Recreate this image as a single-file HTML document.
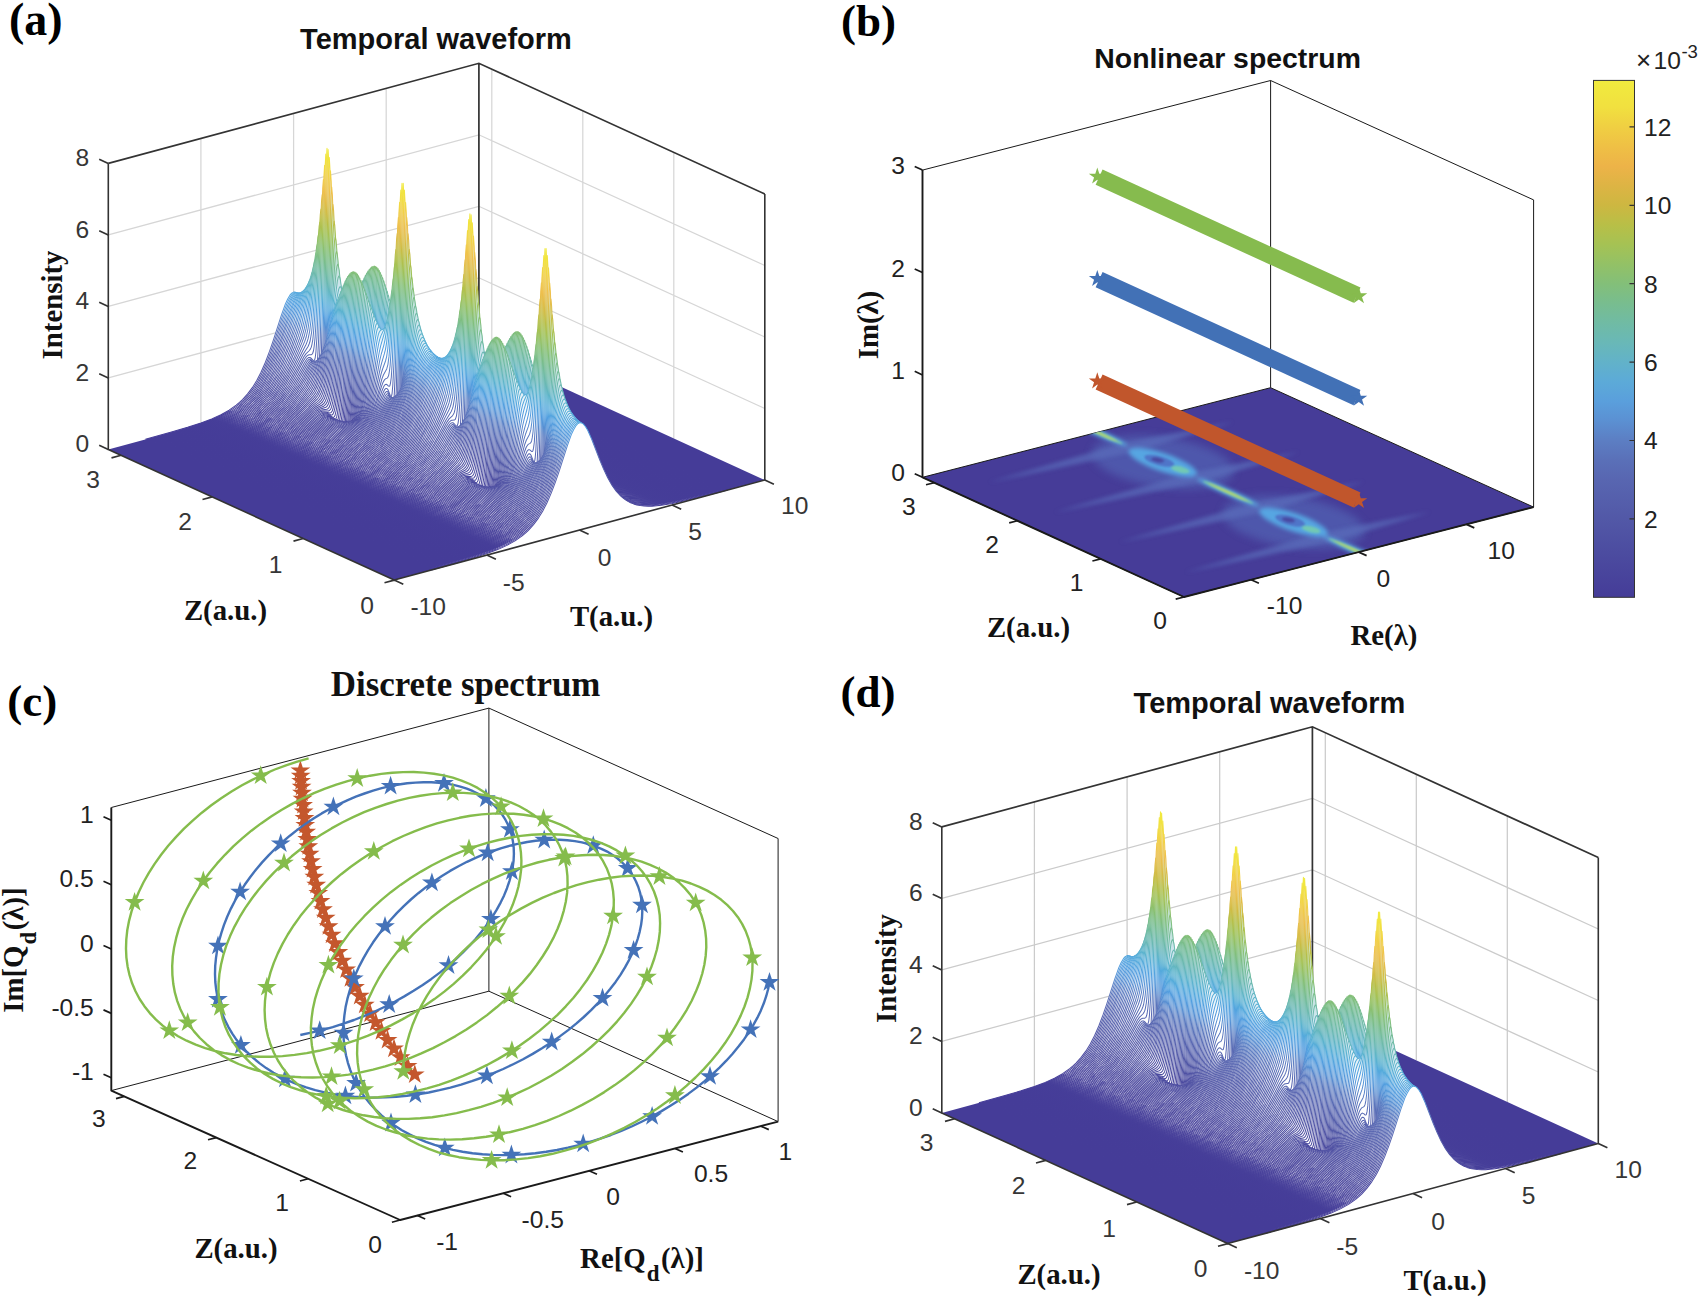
<!DOCTYPE html>
<html><head><meta charset="utf-8"><title>figure</title>
<style>html,body{margin:0;padding:0;background:#fff}svg{display:block}.tk{font-family:"Liberation Sans",sans-serif;font-size:24.6px;fill:#363636}.k2{fill:#222}.tt{font-family:"Liberation Sans",sans-serif;font-weight:bold;font-size:29px;fill:#111;text-anchor:middle}.lb{font-family:"Liberation Serif",serif;font-weight:bold;font-size:28.8px;fill:#111;text-anchor:middle}.pl{font-family:"Liberation Serif",serif;font-weight:bold;font-size:45px;fill:#000}</style></head><body>
<svg width="1699" height="1298" viewBox="0 0 1699 1298">
<defs>
<linearGradient id="hg" gradientUnits="userSpaceOnUse" x1="0" y1="0" x2="-67.05" y2="-248.23"><stop offset="0.0000" stop-color="#453c98"/><stop offset="0.0758" stop-color="#4b4a9f"/><stop offset="0.1516" stop-color="#5258a7"/><stop offset="0.2274" stop-color="#5866b1"/><stop offset="0.2654" stop-color="#5a70b8"/><stop offset="0.3033" stop-color="#5c7ec3"/><stop offset="0.3412" stop-color="#5693d6"/><stop offset="0.3791" stop-color="#529fe0"/><stop offset="0.4170" stop-color="#55abdc"/><stop offset="0.4549" stop-color="#5cb4cc"/><stop offset="0.4928" stop-color="#69b8b7"/><stop offset="0.5307" stop-color="#70bba4"/><stop offset="0.5686" stop-color="#78bd8f"/><stop offset="0.6065" stop-color="#83bf79"/><stop offset="0.6444" stop-color="#93c166"/><stop offset="0.6823" stop-color="#a5c254"/><stop offset="0.7202" stop-color="#b8bf47"/><stop offset="0.7582" stop-color="#d0bc44"/><stop offset="0.7961" stop-color="#e2bd48"/><stop offset="0.8340" stop-color="#efbf4c"/><stop offset="0.8719" stop-color="#f1ca48"/><stop offset="0.9098" stop-color="#f2d644"/><stop offset="0.9477" stop-color="#f1e03f"/><stop offset="1.0000" stop-color="#f1eb3e"/></linearGradient>
<linearGradient id="cbg" x1="0" y1="1" x2="0" y2="0"><stop offset="0.0000" stop-color="#453c98"/><stop offset="0.0758" stop-color="#4b4a9f"/><stop offset="0.1516" stop-color="#5258a7"/><stop offset="0.2274" stop-color="#5866b1"/><stop offset="0.2654" stop-color="#5a70b8"/><stop offset="0.3033" stop-color="#5c7ec3"/><stop offset="0.3412" stop-color="#5b90d2"/><stop offset="0.3791" stop-color="#5a9fdc"/><stop offset="0.4170" stop-color="#5caad8"/><stop offset="0.4549" stop-color="#62b2c9"/><stop offset="0.4928" stop-color="#69b8b7"/><stop offset="0.5307" stop-color="#70bba4"/><stop offset="0.5686" stop-color="#78bd8f"/><stop offset="0.6065" stop-color="#83bf79"/><stop offset="0.6444" stop-color="#93c166"/><stop offset="0.6823" stop-color="#a5c254"/><stop offset="0.7202" stop-color="#b8bf47"/><stop offset="0.7582" stop-color="#cdb741"/><stop offset="0.7961" stop-color="#ddb444"/><stop offset="0.8340" stop-color="#edb348"/><stop offset="0.8719" stop-color="#efc045"/><stop offset="0.9098" stop-color="#f0cf42"/><stop offset="0.9477" stop-color="#f1e03f"/><stop offset="1.0000" stop-color="#f1eb3e"/></linearGradient>
<linearGradient id="fg" gradientUnits="userSpaceOnUse" x1="0" y1="0" x2="-67.05" y2="-248.23"><stop offset="0.0000" stop-color="#453c98"/><stop offset="0.0094" stop-color="#453c98"/><stop offset="0.0268" stop-color="#ffffff"/><stop offset="0.3490" stop-color="#ffffff"/><stop offset="0.4832" stop-color="#cfe6f2"/><stop offset="0.6174" stop-color="#bfe2d2"/><stop offset="0.7517" stop-color="#d4e0a8"/><stop offset="0.8859" stop-color="#f0dca8"/><stop offset="1.0000" stop-color="#f4ec9c"/></linearGradient>
<polygon id="st" points="0.000,-1.000 0.225,-0.309 0.951,-0.309 0.363,0.118 0.588,0.809 0.000,0.382 -0.588,0.809 -0.363,0.118 -0.951,-0.309 -0.225,-0.309"/>
<g id="surf" fill="url(#fg)" stroke="url(#hg)" stroke-width="1.02" stroke-linejoin="round">
<path transform="translate(-285.9,-130.7)" d="M37.1,-10.1l25.2-7 17-5 13.3-4.4 10.8-4 9.3-4.2 8.1-4.5 7.1-5 3.3-2.8 3-2.8 5.1-5.7 4.9-6.5 4.4-7.2 4.1-7.9 4.4-10.1 4.1-10.8 3.7-10.8 8.2-25.4 4-11.3 2.3-4.9 2.2-3.8 1.8-2 1.9-1.1 0.7-0.1 1.2 0.2 1.8 1 2.2 2.6 2.3 3.7 4 9.1 8.2 21 3.7 8.8 4.1 8.6 4.4 7.7 4.1 5.7 4.4 4.8 2.3 2 2.6 1.9 2.5 1.6 2.6 1.3 3 1.2 3.3 1 3.4 0.7 3.7 0.4 4.1 0.2 4 0 9.3-0.9 10.7-1.7 13.4-2.9 17-4.2 25.2-6.6"/>
<path transform="translate(-284.7,-130.2)" d="M37.1,-10.1l25.2-7 17-5 13.3-4.4 10.8-4 9.3-4.2 8.1-4.5 7.1-5 3.3-2.8 3-2.8 5.1-5.7 4.9-6.5 4.4-7.2 4.1-7.9 4.4-10.1 4.1-10.7 4.1-12 7.8-24.3 4-11.3 2.3-5 2.2-3.7 1.8-2.1 1.9-1.1 0.7-0.1 1.2 0.2 1.8 1.1 2.2 2.5 2.3 3.8 4 9.1 7.8 20.1 4.1 9.7 4.1 8.6 4.4 7.7 4.1 5.7 4.4 4.8 2.3 2 2.6 1.9 2.5 1.6 2.6 1.3 3 1.2 3.3 1 3.4 0.7 3.7 0.4 4.1 0.2 4 0 9.3-0.9 10.7-1.7 13.4-2.9 17-4.2 25.2-6.6"/>
<path transform="translate(-283.5,-129.6)" d="M37.1,-10.1l25.2-7 17-5 13.3-4.4 10.8-4 9.6-4.4 7.8-4.3 7.1-5 3.3-2.8 3-2.8 5.1-5.7 4.9-6.5 4.4-7.2 4.1-7.8 4.4-10.2 4.1-10.7 4.1-11.9 8.1-25.4 3.7-10.3 2.3-5.1 2.2-3.8 1.8-2.1 1.2-0.8 0.7-0.3 0.7-0.1 1.2 0.2 1.8 1.1 2.2 2.6 2.3 3.9 3.7 8.3 8.1 21 4.1 9.7 4.1 8.5 4.4 7.7 4.1 5.7 4.4 4.8 2.3 2 2.6 1.9 2.5 1.6 2.6 1.3 3 1.2 3.3 1 3.4 0.7 3.7 0.4 7.8 0.2 9.6-0.9 10.7-1.7 13.4-2.9 17-4.2 25.2-6.6"/>
<path transform="translate(-282.3,-129.1)" d="M37.1,-10.1l25.2-7 17-5 13.3-4.4 10.8-4 9.6-4.4 7.8-4.3 3.7-2.5 3.7-2.8 3.4-2.8 2.9-2.8 5.2-5.8 4.8-6.6 4.5-7.3 4.4-8.8 4.1-9.4 4.1-10.8 4.1-12 8.1-25.4 3.7-10.3 2.2-5 1.9-3.2 1.8-2.2 1.2-0.8 0.7-0.3 0.7-0.1 1.2 0.2 1.8 1.2 1.9 2.2 2.2 3.8 3.7 8.3 8.1 21 4.1 9.8 4.1 8.6 4.1 7.2 4.4 6.4 4.5 4.9 2.6 2.3 2.2 1.7 2.2 1.4 3 1.5 2.9 1.3 3.4 1 3.7 0.8 3.7 0.4 7.8 0.2 9.6-0.9 10.7-1.7 13.4-2.9 17-4.2 25.2-6.6"/>
<path transform="translate(-281.1,-128.5)" d="M37.1,-10.1l25.2-7 17-5 13.3-4.4 10.8-4 9.3-4.2 8.1-4.5 3.7-2.5 3.7-2.8 3.4-2.8 2.9-2.8 5.2-5.8 4.8-6.6 4.5-7.3 4.4-8.7 4.5-10.3 4.1-10.8 4-12.1 8.2-25.5 3.7-10.3 1.8-4.2 1.9-3.4 1.8-2.3 1.2-0.8 0.7-0.3 0.7-0.1 1.2 0.2 1.8 1.3 1.9 2.4 1.8 3.2 3.7 8.3 8.2 21.1 4 9.9 4.1 8.6 4.5 7.9 4.4 6.3 4.5 4.9 2.6 2.3 2.2 1.7 2.2 1.4 3 1.6 2.9 1.2 3.4 1 3.7 0.8 3.7 0.4 4.1 0.2 4 0 9.3-0.9 10.7-1.7 13.4-2.9 17-4.2 25.2-6.6"/>
<path transform="translate(-279.9,-128)" d="M37.1,-10.1l24.8-6.9 17-5 13.7-4.5 10.8-4 9.3-4.2 8.1-4.5 3.7-2.5 3.7-2.8 3.4-2.8 2.9-2.8 5.2-5.8 5.2-7.1 4.5-7.4 4.4-8.8 4.4-10.3 4.5-12 4.1-12.1 7.8-24.5 3.7-10.4 1.8-4.3 1.9-3.4 1.8-2.2 1.5-0.8 1.5 0 0.7 0.3 1.1 0.9 1.9 2.4 1.8 3.2 3.7 8.5 7.8 20.3 4.1 9.9 4.5 9.5 4.4 8 4.4 6.4 4.5 5 2.6 2.3 2.6 2 2.2 1.4 3 1.6 2.9 1.2 3.4 1 3.7 0.8 3.7 0.4 4.1 0.2 4 0 9.3-0.9 10.7-1.7 13.8-3 17-4.2 24.8-6.5"/>
<path transform="translate(-278.8,-127.4)" d="M37.1,-10.1l24.8-6.9 17-5 13.7-4.5 10.8-4 9.3-4.2 8.1-4.5 3.7-2.5 3.7-2.8 3.4-2.8 2.9-2.8 5.2-5.8 5.2-7.1 4.8-8 4.5-8.9 4.4-10.4 4.5-11.9 4-12.1 8.2-25.8 3.3-9.6 1.9-4.4 1.8-3.4 1.5-1.7 1.5-0.9 1.5 0.1 1.5 0.9 1.8 2.4 1.9 3.4 3.3 7.7 8.2 21.5 4 9.9 4.5 9.5 4.4 8 4.5 6.5 2.2 2.7 2.6 2.7 2.6 2.3 2.6 2 2.2 1.4 3 1.6 2.9 1.2 3.4 1 3.7 0.8 3.7 0.4 4.1 0.2 4 0 9.3-0.9 10.7-1.7 13.8-3 17-4.2 24.8-6.5"/>
<path transform="translate(-277.6,-126.9)" d="M37.1,-10.1l25.2-7 17.4-5.1 13.3-4.4 10.8-4.1 9.6-4.4 8.2-4.6 3.7-2.5 3.3-2.6 3.3-2.8 3-2.9 5.6-6.3 5.1-7.3 4.9-8.2 4.4-9 4.5-10.6 4.8-13.1 4.4-13.4 7.8-25 3-8.5 1.5-3.6 1.4-2.8 1.5-2 1.5-0.9 0.7-0.1 0.8 0.2 1.5 1.2 1.4 2 1.5 2.8 3 6.9 7.8 20.8 4.4 11 4.8 10.5 4.5 8.1 4.4 6.7 2.3 2.8 2.6 2.8 2.5 2.4 2.6 2.1 3 1.9 2.6 1.4 3 1.3 3.3 1 3.3 0.8 3.7 0.5 3.7 0.2 4.5 0 9.6-0.8 10.8-1.7 13.3-2.9 17.4-4.3 25.2-6.6"/>
<path transform="translate(-276.4,-126.3)" d="M37.1,-10.1l25.2-7 17.4-5.1 13.7-4.5 10.7-4.1 9.3-4.3 8.2-4.6 3.7-2.5 3.7-2.9 3.3-2.9 3-2.8 5.5-6.4 5.2-7.4 4.8-8.3 4.9-9.9 4.8-11.6 4.8-13.3 4.8-14.8 7.4-24.3 2.6-7.6 1.5-3.5 1.5-2.7 1.1-1.3 1.1-0.6 1.1 0 1.1 0.7 1.5 1.9 1.5 2.7 2.6 6.2 7.4 20.3 4.8 12.2 4.8 10.7 4.8 9 4.9 7.3 2.6 3.2 2.2 2.5 2.6 2.4 2.6 2.1 2.6 1.8 2.9 1.6 3 1.3 3.3 1.1 3.7 0.9 3.7 0.5 3.7 0.2 4.5 0 9.3-0.8 10.7-1.7 13.7-2.9 17.4-4.3 25.2-6.6"/>
<path transform="translate(-275.2,-125.8)" d="M37.1,-10.1l25.2-7 17.4-5.1 13.7-4.5 10.7-4.1 9.3-4.3 8.2-4.6 3.7-2.5 3.7-2.9 3.3-2.8 3-2.9 2.9-3.3 3-3.6 5.2-7.4 4.8-8.4 5.2-10.7 5.2-12.7 5.2-14.6 4-12.7 7.5-25 2.2-6.8 1.1-2.9 1.5-3.1 1.1-1.4 1.1-0.7 1.1 0.1 1.1 0.8 1.5 2.2 1.1 2.3 2.2 5.7 7.5 21 4 10.5 5.2 11.8 5.2 9.9 2.6 4.2 2.6 3.7 2.2 2.9 2.6 2.9 2.6 2.5 2.6 2.1 3 2 2.9 1.6 3 1.3 3.3 1.1 3.7 0.9 3.7 0.5 4.1 0.2 4.1 0 9.3-0.8 10.7-1.7 13.7-2.9 17.4-4.3 25.2-6.6"/>
<path transform="translate(-274,-125.3)" d="M37.1,-10.1l25.9-7.2 17.4-5.2 13.7-4.5 10.8-4.1 9.2-4.3 8.2-4.8 3.7-2.5 3.7-3 3.3-2.9 3-3 3-3.3 2.9-3.7 3-4.2 2.6-4 5.2-9.4 5.2-11.1 5.5-14.1 5.2-15 4.1-13.1 6.7-23.7 1.8-5.9 1.9-4.5 1.1-1.6 1.1-0.8 0.7 0 0.4 0.2 1.1 1 1.9 3.5 1.8 4.9 6.7 20.1 4.1 10.9 5.2 12.2 5.5 11 2.6 4.4 2.6 4 2.6 3.5 2.6 3 2.6 2.7 3 2.6 2.9 2.1 3 1.7 3 1.3 3.3 1.2 3.7 0.9 3.7 0.6 3.7 0.3 4.5 0 9.2-0.7 10.8-1.6 13.7-2.9 17.4-4.3 25.9-6.8"/>
<path transform="translate(-272.8,-124.7)" d="M37.1,-10.1l25.9-7.2 17.4-5.2 13.7-4.5 10.8-4.1 9.6-4.5 4.5-2.5 4-2.6 3.7-2.6 3.4-2.7 3.3-3 3-3 3.3-3.8 3-3.8 5.5-8.4 3-5.2 3-5.8 5.2-11.5 5.5-14.3 5.6-16.5 4.1-13.8 5.1-19.9 1.9-6.4 1.1-3.1 1.1-2.3 0.8-1 0.7-0.4 0.7 0 0.8 0.6 1.1 1.7 1.1 2.5 1.9 5.4 5.1 17 4.1 11.7 5.6 13.5 5.5 11.3 5.2 8.7 3 4.2 3 3.6 2.6 2.7 2.9 2.7 3 2.2 3.3 2 3 1.4 3.3 1.2 3.4 0.9 3.7 0.6 4 0.4 4.5 0 4.4-0.2 5.2-0.5 10.8-1.6 13.7-2.9 17.4-4.3 25.9-6.8"/>
<path transform="translate(-271.6,-124.2)" d="M37.1,-10.1l25.9-7.2 17.4-5.2 13.7-4.5 11.2-4.3 9.6-4.5 4.4-2.5 3.7-2.4 3.7-2.6 3.8-3 3.3-3 3-3 2.9-3.4 3.4-4.3 2.9-4.3 3-4.8 2.9-5.3 3-5.9 5.9-13.3 6.3-16.7 5.2-16 3.4-12.1 5.2-21.7 1.4-5.3 1.5-3.8 0.8-1.1 0.7-0.5 0.7 0.1 0.8 0.7 1.5 3 1.4 4.5 5.2 18.9 3.4 10.3 5.2 13.2 2.9 6.6 3.4 6.7 2.9 5.3 3 4.8 3 4.3 2.9 3.7 3 3.1 2.9 2.7 3.4 2.5 2.9 1.8 3 1.5 3.3 1.2 3.8 1 3.7 0.6 3.7 0.3 4.4 0.1 4.8-0.2 4.8-0.4 11.2-1.7 13.7-2.9 17.4-4.3 25.9-6.8"/>
<path transform="translate(-270.4,-123.6)" d="M37.1,-10.1l25.9-7.2 17.8-5.3 14.1-4.7 10.7-4.1 9.7-4.6 4.4-2.5 4.1-2.7 3.7-2.7 3.3-2.7 3.4-3.1 3.3-3.4 3.7-4.4 3-4 3.3-5.1 3-4.9 2.9-5.5 3.4-6.9 6.3-14.7 4.8-12.9 4.4-13.6 2.3-7.9 1.8-7.5 5.9-27 1.5-4.5 0.8-1.3 0.7-0.6 0.7 0.2 0.8 0.9 1.5 3.7 5.9 23.8 1.8 6.5 2.3 6.7 4.4 11.2 4.8 10.3 3 5.6 3.3 5.7 3.4 5 2.9 3.9 3 3.4 3.3 3.2 3 2.4 3.7 2.4 3.3 1.7 3.4 1.3 3.3 0.9 3.7 0.7 4.1 0.4 4.4 0.1 4.5-0.1 5.2-0.5 10.7-1.6 14.1-2.9 17.8-4.4 25.9-6.8"/>
<path transform="translate(-269.2,-123.1)" d="M37.1,-10.1l25.9-7.2 18.2-5.4 14-4.7 11.2-4.4 9.6-4.6 4.4-2.6 4.1-2.7 3.7-2.7 3.4-2.8 3.3-3.2 3.3-3.5 3.7-4.6 3.4-4.6 3.3-5.1 3.3-5.8 3.4-6.5 3.3-7 3.7-8.6 3.4-8.4 5.1-14.5 3.4-11.2 3.3-14.3 4.8-25.2 1.5-5.5 0.8-1.6 0.7-0.7 0.7 0.3 0.8 1.2 1.5 4.7 4.8 22.6 1.5 6.1 1.8 6.4 3.4 9.4 5.1 11.7 3.4 6.6 3.7 6.6 3.3 5.2 3.4 4.6 3.3 4 3.3 3.4 3.4 2.8 3.7 2.5 3.3 1.8 3.3 1.3 3.4 1 3.7 0.8 4.1 0.5 4.4 0.1 4.4-0.1 5.2-0.4 11.2-1.6 14-3 18.2-4.4 25.9-6.8"/>
<path transform="translate(-268,-122.5)" d="M37.1,-10.1l26.6-7.4 18.2-5.4 14.1-4.8 11.1-4.4 5.2-2.4 4.4-2.3 4.5-2.7 4.1-2.7 3.7-2.8 3.3-2.9 3.3-3.2 3.4-3.7 3.7-4.6 4.1-5.8 3.7-6 3.7-6.8 3.7-7.5 3.7-8.2 3.3-8 3.7-9.7 3.7-10.8 3-10.6 2.6-12.4 3.7-22.8 1.5-8 1.1-3.9 0.4-0.9 0.7-0.9 0.7 0.5 0.4 0.7 1.1 3.3 1.5 7.2 3.7 20.8 2.6 11 3 9 3.7 8.8 3.7 7.6 3.3 6.3 3.7 6.2 3.7 5.5 3.7 4.8 3.7 4 4.1 3.6 3.7 2.6 3.4 1.9 3.3 1.4 3.3 1.1 3.7 0.8 4.1 0.5 4.5 0.2 4.4 0 5.2-0.4 11.1-1.6 14.1-2.9 18.2-4.4 26.6-7"/>
<path transform="translate(-266.8,-122)" d="M37.1,-10.1l26.6-7.4 18.6-5.5 14.1-4.8 11.1-4.4 4.8-2.3 4.8-2.5 4.5-2.7 4-2.8 3.7-2.8 3.7-3.3 3.8-3.7 2.9-3.3 4.1-5.2 4.1-6 4-6.8 3.8-7 4-8.4 4.1-9.3 4.1-10 3.7-10 3-9.7 2.2-9.6 1.8-10.7 4.5-31.2 0.7-3.7 0.8-2.4 0.7-1 0.7 0.6 0.8 2 0.7 3.3 4.5 28.8 1.8 9.7 2.2 8.4 3 8.1 3.7 8 4.1 7.8 4.1 7.1 4 6.2 3.8 5 4 4.6 4.1 3.8 4.1 3 2.9 1.7 3.8 1.7 3.7 1.3 3.7 0.8 4 0.6 4.5 0.2 4.8 0 4.8-0.4 11.1-1.5 14.1-2.9 18.6-4.5 26.6-7"/>
<path transform="translate(-265.6,-121.4)" d="M37.1,-10.1l27.4-7.6 18.5-5.6 14.1-4.8 11.5-4.6 5.2-2.5 4.8-2.7 4.4-2.7 3.7-2.7 3.8-2.9 3.7-3.4 3.3-3.4 3.3-3.9 4.1-5.4 4.1-6.1 4.1-7 4-7.7 4.1-8.6 4.5-10.1 4.4-11 3-8.1 2.6-9.2 1.8-9.3 1.9-12.9 3.7-31.2 0.7-4.6 0.8-3 0.7-1.2 0.7 0.8 0.8 2.6 0.7 4.2 3.7 29.2 1.9 11.9 1.8 8.3 1.1 3.8 1.5 4 3 6.5 4.4 8.5 4.5 7.8 4.1 6.4 4 5.5 4.1 4.7 4.1 4 4.1 3.2 3.3 2 3.3 1.7 3.7 1.3 3.8 1 3.7 0.6 4.4 0.4 4.8 0 5.2-0.3 5.6-0.6 5.9-0.9 14.1-2.8 18.5-4.5 27.4-7.2"/>
<path transform="translate(-264.5,-120.9)" d="M37.1,-10.1l27.8-7.7 18.9-5.7 14-4.8 11.5-4.8 5.2-2.5 4.8-2.7 4.5-2.8 3.7-2.7 4.1-3.4 3.7-3.5 3.7-4 2.9-3.5 4.1-5.6 3.7-5.7 4.1-7 4.1-7.7 4.8-10.1 5.2-11.8 4.4-10.7 2.3-6.4 1.8-7.3 1.9-11.1 1.8-15.9 3-30.5 0.7-5.7 0.8-3.9 0.7-1.5 0.7 1.1 0.8 3.5 0.7 5.3 3 28.9 1.8 14.9 1.9 10.1 1.8 6.3 2.3 5.2 4.4 8.3 5.2 9 4.8 7.5 4.1 5.5 4.1 4.8 3.7 3.7 4.1 3.3 2.9 2 3.7 2 3.7 1.5 4.1 1.1 3.7 0.7 4.5 0.5 4.8 0 5.2-0.2 5.5-0.6 6-0.9 14-2.8 18.9-4.5 27.8-7.3"/>
<path transform="translate(-263.3,-120.4)" d="M37.1,-10.1l28.1-7.8 18.9-5.7 14.5-5 6.3-2.5 5.2-2.3 5.2-2.6 4.8-2.8 4.4-2.9 4.1-3 3.7-3.1 3.7-3.6 3.7-4.1 3.7-4.6 4.1-5.8 3.7-5.8 3.7-6.5 3.7-7 4.5-9.2 9.2-20.4 1.5-3.5 1.5-4.4 1.8-8.2 1.5-10.3 1.5-14.7 3.3-40.6 1.2-8.6 0.7-1.8 0.7 1.4 1.2 8 3.3 38.8 1.5 13.9 1.5 9.5 0.7 3.4 1.1 3.8 1.5 3.6 1.5 2.7 9.2 15.4 4.5 6.8 3.7 5 3.7 4.5 3.7 3.8 4.1 3.6 3.7 2.6 3.7 2.1 3.7 1.5 3.7 1.2 4.1 0.8 4.4 0.5 4.8 0.1 5.2-0.2 5.2-0.5 6.3-0.9 14.5-2.8 18.9-4.5 28.1-7.4"/>
<path transform="translate(-262.1,-119.8)" d="M37.1,-10.1l28.9-8.1 19.2-5.8 14.9-5.2 6.3-2.6 5.2-2.3 5.1-2.7 4.9-2.9 4.4-3 4.5-3.5 4-3.7 3.7-3.9 3.7-4.3 3.4-4.4 3.3-4.9 3.3-5.3 6.7-12 10.8-22.3 4.4-8.6 1.1-2.6 1.1-3.4 1.5-7.1 1.5-11.8 1.5-17.7 3.3-49.2 0.8-6.3 0.7-2.5 0.7 2.1 0.8 5.9 3.3 47.4 1.5 16.9 1.5 11 1.5 6.3 1.1 2.8 1.1 2 4.4 6.2 7.1 11 3.7 5.5 3.3 4.4 3.4 4 3.3 3.5 3.3 3 3.4 2.7 3.7 2.3 3.7 1.9 4 1.5 4.5 1.1 4.4 0.6 4.9 0.2 5.1-0.1 5.2-0.4 6.3-0.8 14.9-2.8 19.2-4.6 28.9-7.6"/>
<path transform="translate(-260.9,-119.3)" d="M37.1,-10.1l29.6-8.3 20-6.1 14.8-5.3 6.3-2.6 5.2-2.5 5.2-2.8 4.8-2.9 4.5-3.2 4.4-3.7 4.1-3.9 3.7-4 3.7-4.5 4.1-5.7 5.2-8.1 5.2-9.1 11.5-22.9 5.5-8.9 1.1-2.7 0.8-2.5 1.5-8.7 1.1-10.8 1.5-21.8 2.9-54.3 0.8-8.3 0.7-3.1 0.7 2.7 0.8 7.9 2.9 52.7 1.5 21 1.1 10.2 0.8 4.6 0.7 3.2 0.8 2.2 1.1 2.1 4.1 4.1 1.4 1.7 8.2 12.1 3.3 4.6 5.2 6.4 5.2 5.3 4.1 3.4 3.7 2.6 3.7 2 4.1 1.7 4.4 1.3 4.5 0.7 4.8 0.4 5.2 0 5.2-0.3 6.3-0.8 6.6-1.1 8.2-1.6 20-4.7 29.6-7.8"/>
<path transform="translate(-259.7,-118.7)" d="M37.1,-10.1l30.3-8.5 20.1-6.1 8.1-2.8 7.1-2.7 5.9-2.5 5.9-2.9 5.2-2.9 4.8-3.1 4.8-3.7 4.5-3.9 4.4-4.5 3.7-4.3 4.1-5.3 4.1-6 4.1-6.6 4-7.2 11.2-21.5 2.2-3.2 3.3-3.1 1.1-1.6 0.8-1.8 0.7-3 0.8-4.5 0.7-6.8 1.1-14.9 1.1-21.4 2.6-59.2 0.8-10.9 0.7-4.1 0.7 3.7 0.8 10.5 2.6 57.8 1.1 20.8 1.1 14.3 0.7 6.4 0.8 4.1 0.7 2.6 0.8 1.4 1.1 1 3.3 1.3 2.2 2 2.3 2.8 5.5 8.2 3.4 4.5 4 5 4.1 4.4 4.1 3.7 4.1 3.2 3.7 2.3 4.4 2.1 4.5 1.5 4.8 1 4.8 0.5 5.2 0.1 5.9-0.3 5.9-0.6 7.1-1.2 8.1-1.6 20.1-4.7 30.3-7.9"/>
<path transform="translate(-258.5,-118.2)" d="M37.1,-10.1l36.6-10.3 11.9-3.7 10-3.4 8.9-3.5 7.8-3.5 6.7-3.6 5.9-3.8 4.8-3.7 4.8-4.2 4.5-4.7 4.4-5.3 6-8.2 5.9-9.4 4.4-7.9 7.4-14.5 2.3-3.8 1.4-1.9 1.5-1.2 1.1-0.4 2.3-0.1 0.7-0.5 0.4-0.5 0.7-1.9 0.4-1.6 0.7-4.9 0.8-7.9 0.7-11.4 1.5-34 2.2-63.4 0.8-14.3 0.7-5.3 0.7 4.9 0.8 13.9 2.2 62.2 1.5 33.2 0.7 11 0.8 7.5 0.7 4.5 0.4 1.4 0.7 1.5 0.4 0.3 0.7 0.1 2.3-1.1 1.1-0.2 1.5 0.4 1.4 1.1 2.3 2.6 7.4 10.5 4.4 5.4 5.9 6.3 3 2.6 3 2.4 4.4 2.9 4.5 2.2 4.8 1.7 4.8 1.1 5.9 0.6 6.7 0 7.8-0.7 8.9-1.4 10-2 11.9-2.7 36.6-9.5"/>
<path transform="translate(-257.3,-117.6)" d="M37.1,-10.1l35.2-9.9 11.8-3.6 10-3.4 8.6-3.2 7.4-3.2 6.6-3.4 6-3.6 6.3-4.5 5.5-4.9 5.2-5.5 5.6-6.8 5.2-7.4 5.2-8.2 4.8-8.5 7-13.5 2.6-4 1.5-1.2 0.7-0.2 0.8 0.1 1.1 0.7 2.2 2.5 0.7 0.1 0.4-0.5 0.8-2.5 0.7-5.5 1.1-16.1 1.5-38.5 2.2-77.8 0.8-18.4 0.7-7 0.7 6.6 0.8 18 2.2 76.6 1.5 37.7 1.1 15.5 0.7 5.1 0.4 1.4 0.4 0.7 0.4 0.3 0.7-0.5 2.2-3.7 1.1-1.3 0.8-0.5 0.7-0.2 1.5 0.4 1.5 1.3 1.1 1.3 7 9.7 4.8 5.9 5.2 5.4 5.2 4.6 5.6 3.8 5.2 2.6 5.5 1.9 6.3 1.2 6 0.3 6.6-0.2 7.4-0.7 8.6-1.4 10-2.1 11.8-2.8 35.2-9.1"/>
<path transform="translate(-256.1,-117.1)" d="M37.1,-10.1l32.9-9.2 11.5-3.5 9.7-3.2 8.5-3 7.4-3.1 6.3-2.9 5.9-3.3 7.1-4.6 6.3-5.2 5.5-5.5 6-7 5.5-7.6 6-9.1 5.1-9 6.7-12.8 1.1-1.9 1.5-1.9 0.7-0.6 0.8-0.4 0.7 0.1 1.1 0.8 1.2 1.9 2.5 6.9 0.4 0.5 0.4 0.1 0.7-2.1 0.8-6.5 1.1-21.1 1.1-34.4 2.2-93.6 0.8-23.3 0.7-9 0.7 8.6 0.8 22.9 2.2 92.4 1.1 33.8 1.1 20.5 0.8 6.1 0.3 1.2 0.4 0.5 0.8-1 2.5-8.3 1.2-2.5 1.1-1.4 0.7-0.5 0.8 0 0.7 0.2 1.5 1.1 1.1 1.3 6.7 9.2 5.1 6.2 6 5.9 5.5 4.6 3 2.1 3 1.7 5.5 2.5 3 0.9 3.3 0.8 3.4 0.5 3.7 0.4 5.9 0 6.3-0.4 7.4-1 8.5-1.5 9.7-2.1 11.5-2.7 32.9-8.6"/>
<path transform="translate(-254.9,-116.5)" d="M37.1,-10.1l36.3-10.2 12.2-3.8 10-3.4 8.5-3.3 7.5-3.3 7-3.8 5.9-3.7 6-4.5 5.1-4.8 5.2-5.5 5.2-6.5 5.2-7.2 5.2-8 4.8-8.4 6.7-12.8 1.5-2.2 1.4-1.5 0.8-0.2 0.7 0.2 0.8 0.7 1.1 2.3 1.1 3.7 2.6 12.6 0.4 0.6 0.3-0.1 0.8-5.3 0.3-5.7 1.2-27.6 1.1-44.2 1.8-92.7 0.8-28.5 0.7-11.1 0.7 10.7 0.8 28.1 1.8 91.7 1.1 43.6 1.2 27 0.3 5.5 0.8 4.9 0.3-0.1 0.4-0.8 2.6-14 1.1-4.3 1.1-2.9 0.8-1.1 0.7-0.6 0.8-0.2 0.7 0.2 0.7 0.4 1.5 1.5 6.7 9.2 4.8 5.7 5.2 5.2 5.2 4.5 5.2 3.6 5.2 2.8 5.1 1.9 6 1.3 5.9 0.6 7-0.1 7.5-0.7 8.5-1.3 10-2 12.2-2.8 36.3-9.4"/>
<path transform="translate(-253.7,-116)" d="M37.1,-10.1l36.3-10.2 12.2-3.8 10-3.4 8.5-3.3 7.5-3.3 7-3.8 5.9-3.7 6-4.5 5.5-5.1 5.2-5.6 5.2-6.4 5.5-7.8 5.2-7.9 4.5-7.7 6.3-12.3 1.5-2.4 1.4-1.4 0.8-0.2 0.4 0.1 0.3 0.2 0.8 0.9 0.7 1.5 0.8 2.4 1.4 7.8 1.9 15.4 0.7 4.6 0.4-0.8 0.4-2.8 0.3-6.2 1.2-31.2 1.1-48.9 2.2-120.8 0.4-16.3 0.7-13 0.7 12.6 0.4 16.1 2.2 119.6 1.1 48.3 1.2 30.6 0.3 6 0.4 2.6 0.4 0.6 0.7-5 1.9-16.4 1.4-8.6 0.8-2.8 0.7-1.9 1.1-1.7 0.4-0.3 0.8-0.2 0.7 0.2 0.7 0.4 1.5 1.6 6.3 8.9 4.5 5.3 5.2 5.1 5.5 4.7 5.2 3.7 5.2 2.8 5.5 2 6 1.3 5.9 0.6 7-0.1 7.5-0.7 8.5-1.3 10-2 12.2-2.8 36.3-9.4"/>
<path transform="translate(-252.5,-115.5)" d="M37.1,-10.1l36.3-10.2 12.2-3.8 10-3.4 8.5-3.3 7.5-3.3 7-3.8 5.9-3.7 6-4.5 5.5-5.1 5.2-5.5 5.6-6.9 5.9-8.2 5.2-7.9 4.1-7.1 6.6-13.3 1.5-2.1 1.1-0.7 0.4-0.1 0.7 0.3 1.1 1.6 1.2 3.4 0.7 3.7 1.5 11.4 1.8 24.5 0.4 0.7 0.4-2.9 0.3-7.6 1.2-36.2 1.1-51.9 2.2-128.6 0.4-17.6 0.7-14.1 0.7 13.7 0.4 17.4 2.2 127.4 1.1 51.3 1.2 35.6 0.3 7.4 0.4 2.7 0.4-0.9 1.8-25.5 1.5-12.2 0.7-4.1 1.2-4 1.1-2.3 0.7-0.6 0.4-0.1 0.4-0.1 0.7 0.2 1.5 1.3 6.6 9.7 4.1 4.9 5.2 5.1 5.9 5 5.6 3.8 5.2 2.8 5.5 2.1 6 1.3 5.9 0.5 7-0.1 7.5-0.7 8.5-1.3 10-2 12.2-2.8 36.3-9.4"/>
<path transform="translate(-251.4,-114.9)" d="M37.1,-10.1l36.3-10.2 12.2-3.8 10-3.4 8.5-3.3 7.5-3.3 7-3.8 5.9-3.7 6-4.5 5.9-5.4 5.5-6 6-7.4 6.3-8.7 4.4-6.8 4.1-7.3 5.9-12.4 1.5-2.4 0.7-0.7 0.8-0.4 0.7 0.1 0.4 0.4 1.1 1.9 0.8 2.5 0.7 3.5 1.5 11.1 1.8 22.1 0.4 0.8 0.4-2 0.3-6.8 1.2-34.7 1.1-51.5 2.2-128 0.4-17.5 0.7-14 0.7 13.6 0.4 17.3 2.2 126.8 1.1 50.9 1.2 34.1 0.3 6.6 0.4 1.8 0.4-1 1.8-23.1 1.5-11.9 1.5-6.8 1.1-2.5 0.4-0.6 0.7-0.5 0.8 0 0.7 0.3 1.5 1.6 5.9 9.2 4.1 5.1 4.4 4.4 6.3 5.3 6 4.1 5.5 3.1 5.9 2.2 6 1.3 5.9 0.5 7-0.1 7.5-0.7 8.5-1.3 10-2 12.2-2.8 36.3-9.4"/>
<path transform="translate(-250.2,-114.4)" d="M37.1,-10.1l36.6-10.3 12.3-3.8 10-3.5 8.9-3.4 7.4-3.4 7-3.8 6-3.8 6.6-5.2 6.3-6.1 6-6.7 6.6-8.6 5.6-7.8 3.7-5.9 3.3-6.3 6-13.1 1.4-2.2 0.8-0.6 0.7-0.1 0.8 0.5 0.3 0.6 0.8 1.6 0.7 2.5 1.1 5.7 2.3 16.6 0.3 1.9 0.4-0.4 0.4-2.1 0.7-12.7 0.8-21.9 1.1-47.9 2.2-119.1 0.4-16.1 0.7-12.8 0.7 12.4 0.4 15.9 2.2 117.9 1.1 47.3 0.8 21.5 0.7 12.3 0.4 1.9 0.4 0.2 0.3-2.1 2.3-17.8 1.1-6.3 0.7-2.9 0.8-2.1 1.1-1.6 0.7-0.3 0.8 0.2 1.4 1.4 6 9.8 3.3 4.6 3.7 3.9 5.6 4.8 6.6 5 6 3.5 2.9 1.4 3.4 1.2 3.3 1 3.3 0.6 6 0.7 7 0 7.4-0.7 8.9-1.3 10-2 12.3-2.8 36.6-9.5"/>
<path transform="translate(-249,-113.8)" d="M37.1,-10.1l36.6-10.3 12.6-4 10.1-3.4 8.5-3.3 7.8-3.6 6.6-3.6 6.3-4.1 6.7-5.3 6.7-6.4 7-8.2 8.2-10.6 4.4-6.5 3-5.2 2.9-6.2 4.9-11.6 1.4-2.7 1.2-1.1 0.3-0.2 0.8 0.1 0.7 0.7 0.8 1.5 1.1 3.7 2.2 10.4 0.4 0.8 0.3 0.2 0.8-4 0.3-5 1.2-25.6 1.1-42.9 1.8-90.5 0.8-27.7 0.7-10.8 0.7 10.4 0.8 27.3 1.8 89.5 1.1 42.3 1.2 25 0.3 4.8 0.8 3.6 0.3-0.4 0.4-1 2.2-11.6 1.1-4.3 0.8-1.9 0.7-1.1 0.8-0.5 0.3 0 0.4 0 0.8 0.5 1.4 1.9 4.9 9 2.9 4.6 3 3.6 4.4 4.1 8.2 6.2 3.3 2.2 3.7 2.2 3.4 1.5 3.3 1.3 3.3 1 3.4 0.7 6.3 0.7 6.6 0 7.8-0.7 8.5-1.2 10.1-2 12.6-2.9 36.6-9.5"/>
<path transform="translate(-247.8,-113.3)" d="M37.1,-10.1l34.4-9.7 12.3-3.7 9.6-3.2 8.5-3.2 7.4-3.2 6.7-3.3 6.3-3.7 4.4-3.1 3.8-2.9 3.7-3.2 3.7-3.6 3.7-4 4-4.8 9.3-11.9 4.5-6.5 2.9-5.4 2.6-5.9 5.2-13.5 1.5-2.8 0.7-0.9 0.8-0.4 0.3 0.1 0.4 0.1 0.8 0.8 0.7 1.3 1.8 4.9 0.8 1 0.4-0.3 0.3-0.9 0.4-2.1 0.7-8 1.2-23.1 1.1-37.5 1.8-76.1 0.8-22.3 0.7-8.7 0.7 8.3 0.8 21.9 1.8 75.1 1.1 36.9 1.2 22.5 0.7 7.6 0.4 1.9 0.3 0.7 0.4 0.1 0.8-1.4 1.8-5.9 0.7-1.7 1.2-1.5 0.3-0.3 0.8 0 0.7 0.5 1.5 2 5.2 10.7 2.6 4.5 2.9 3.8 4.5 4.1 4.4 3.5 4.9 3.4 4 2.6 3.7 2 3.7 1.6 3.7 1.2 3.8 0.9 4.4 0.7 6.3 0.3 6.7-0.3 7.4-0.9 8.5-1.4 9.6-2 12.3-2.8 34.4-9"/>
<path transform="translate(-246.6,-112.7)" d="M37.1,-10.1l36.6-10.3 12.6-4 10.1-3.4 8.9-3.5 7.7-3.6 7.1-3.8 5.9-3.9 6.7-5.3 6.3-6.1 7-8 8.9-11.2 4.5-6.4 3.3-6.2 3-7.3 4.4-13 1.5-3.6 0.7-1.4 0.8-0.9 0.7-0.5 0.4 0 1.1 0.5 1.1 1 0.7 0.5 0.4-0.2 0.4-0.4 0.7-2.7 0.8-5.9 1.1-17.7 1.1-28.2 2.2-73.5 0.8-17.3 0.7-6.6 0.7 6.2 0.8 16.9 2.2 72.3 1.1 27.6 1.1 17 0.8 5.6 0.7 2.3 0.4 0.2 0.4 0 1.8-2.5 1.1-1.1 0.4-0.2 0.7 0.1 0.8 0.5 0.7 1 1.5 2.7 4.4 10.7 3 5.7 1.5 2.2 1.8 2.2 4.5 4 8.9 6.4 7 4.1 3 1.4 3.3 1.3 3.4 1 3.3 0.7 5.9 0.7 7.1 0.1 7.7-0.6 8.9-1.3 10.1-2 12.6-2.9 36.6-9.5"/>
<path transform="translate(-245.4,-112.2)" d="M37.1,-10.1l32.2-9 20.4-6.4 8.1-2.8 7.5-3 6.3-2.8 5.9-3.1 5.5-3.4 5.2-3.7 4.8-4 4.5-4.2 5.2-5.5 6.3-7.4 6.7-8.4 3.7-5.2 2.6-4.7 2.5-6.1 1.9-5.4 4.4-14.7 1.5-3.9 0.8-1.6 1.1-1.5 0.7-0.6 1.5-0.7 0.7-0.8 0.8-1.7 0.7-3.6 0.8-6.2 1.1-16 1.1-24 2.2-58.2 0.8-13.1 0.7-4.9 0.7 4.5 0.8 12.7 2.2 57 1.1 23.4 1.1 15.4 0.8 5.8 0.7 3.2 0.8 1.3 0.7 0.4 1.5-0.1 0.7 0.2 1.1 0.9 0.8 1.2 1.5 3.1 4.4 12.3 1.9 4.4 2.5 4.7 2.6 3.3 3.7 3.2 6.7 4.7 6.3 4.1 5.2 2.7 4.5 1.8 4.8 1.4 5.2 0.9 5.5 0.4 5.9-0.2 6.3-0.5 7.5-1.1 8.1-1.5 20.4-4.7 32.2-8.4"/>
<path transform="translate(-244.2,-111.6)" d="M37.1,-10.1l32.2-9 20.4-6.4 8.1-2.8 7.1-2.8 6.7-3 5.5-2.9 5.2-3.1 5.2-3.6 4.4-3.6 4.5-4 4.8-5 4.8-5.4 8.9-10.7 3.7-4.9 3-5 2.6-6.1 2.6-8 5.5-20.4 1.5-3.9 3.3-6.2 1.2-4.2 1.1-8.3 0.7-8.6 1.1-18.2 2.6-52 0.8-9.6 0.7-3.6 0.7 3.2 0.8 9.2 2.6 50.6 1.1 17.6 0.7 8.2 1.1 7.7 1.2 3.6 0.7 1.2 1.8 2.1 0.8 1.1 1.5 3.1 1.5 4.2 4 13.2 2.6 6.6 2.6 4.6 1.5 1.9 1.5 1.6 3.7 2.9 8.9 5.8 4.8 2.9 4.8 2.3 4.5 1.7 4.4 1.2 5.2 0.8 5.2 0.3 5.5-0.2 6.7-0.6 7.1-1 8.1-1.5 20.4-4.7 32.2-8.4"/>
<path transform="translate(-243,-111.1)" d="M37.1,-10.1l31.8-8.9 20-6.2 8.2-2.9 7-2.7 6.7-3 5.6-2.8 5.2-3 5.1-3.6 4.5-3.4 4.4-4 4.1-4.1 4.8-5.2 10.4-12.1 3.3-4.2 1.9-2.8 1.9-3.5 1.4-3.4 1.5-4.2 2.2-7.8 5.6-23.4 1.5-4.9 2.9-7.9 1.2-4.7 1.1-7.7 1.1-11.9 3.3-49.6 0.8-7 0.7-2.6 0.7 2.2 0.8 6.6 3.3 47.8 1.1 11.3 1.1 7.1 1.2 4.1 2.9 6.3 1.5 4.1 5.6 20.4 2.2 6.6 1.5 3.4 1.4 2.6 1.9 2.5 1.9 1.8 3.3 2.4 10.4 6.4 4.8 2.7 4.1 1.9 4.4 1.5 4.5 1.1 5.1 0.7 5.2 0.3 5.6-0.2 6.7-0.7 7-1 8.2-1.6 20-4.6 31.8-8.3"/>
<path transform="translate(-241.8,-110.6)" d="M37.1,-10.1l31.5-8.8 20.3-6.3 8.2-2.9 7-2.7 6-2.6 5.9-3 5.2-3 4.8-3.2 4.5-3.4 4.4-3.9 4.1-3.9 4.1-4.4 11.8-13.4 3-3.5 2.2-3.3 1.9-3.4 1.8-4.5 1.5-4.7 2.6-10.4 5.2-25.1 1.5-5.8 2.5-8.4 1.2-4.7 1.1-6.7 0.7-6 3.7-40.3 0.8-4.9 0.7-1.9 0.7 1.5 0.8 4.5 3.7 38.3 0.7 5.6 1.1 6.1 1.2 4 2.5 7.1 1.5 5 5.2 22.3 2.6 9 1.5 3.8 1.8 3.6 1.9 2.4 2.2 2 3 2 11.8 7 4.1 2.1 4.1 1.8 4.4 1.5 4.5 1 4.8 0.6 5.2 0.2 5.9-0.3 6-0.6 7-1 8.2-1.6 20.3-4.7 31.5-8.2"/>
<path transform="translate(-240.6,-110)" d="M37.1,-10.1l31.5-8.8 20-6.2 8.1-2.8 7.1-2.8 6.3-2.7 5.5-2.8 5.2-3 4.5-2.9 4.8-3.6 4.4-3.8 7.4-7.4 16-17.7 2.6-3.7 2.2-4.5 1.8-5.2 1.9-6.9 2.2-10.7 5.2-28.3 1.5-6.3 2.6-9.2 1.1-4.9 1.5-9.2 3.3-25.8 0.8-3.4 0.7-1.3 0.7 0.9 0.8 3 3.3 24 1.5 8.4 1.1 4.3 2.6 7.8 1.5 5.5 5.2 25.5 2.2 9.4 1.9 6 1.8 4.2 2.2 3.3 2.6 2.3 2.2 1.4 13.8 7.7 3.7 1.8 3.7 1.6 4.4 1.4 4.8 1 4.5 0.5 5.2 0.2 5.5-0.3 6.3-0.6 7.1-1.1 8.1-1.5 20-4.7 31.5-8.2"/>
<path transform="translate(-239.4,-109.5)" d="M37.1,-10.1l31.1-8.7 20-6.2 8.2-2.8 7-2.7 5.9-2.6 6-2.9 5.1-2.9 4.9-3.2 4.4-3.3 4.1-3.4 6.7-6.5 17.4-18.6 2.6-3.6 1.8-3.7 1.9-5 1.5-5.4 1.4-6.7 1.5-8.1 4.1-25.6 1.9-10.1 1.4-6.2 3.7-12.5 4.1-20.1 0.8-2.2 0.7-0.9 0.7 0.5 0.8 1.8 4.1 17.9 1.1 3.5 2.6 7 1.4 5.4 1.9 9.1 4.1 23.4 1.5 7.3 1.4 5.9 1.5 4.6 1.9 4 1.8 2.6 2.6 2.2 17.4 9.3 6.7 2.8 4.1 1.3 4.4 0.9 4.9 0.5 5.1 0.2 6-0.3 5.9-0.6 7-1.1 8.2-1.6 20-4.7 31.1-8.1"/>
<path transform="translate(-238.2,-108.9)" d="M37.1,-10.1l30.7-8.6 20-6.1 8.2-2.9 7-2.7 6.3-2.7 5.6-2.7 5.2-2.9 4.4-2.9 4.5-3.2 4-3.4 6.7-6.3 10-10.6 8.2-8.2 2.6-3.4 1.8-3.6 1.9-5.2 1.5-5.6 1.4-7.2 1.5-8.7 5.2-35.7 1.1-6 1.1-4.6 1.5-4.3 3-6.3 3.3-9.2 0.8-1.3 0.7-0.6 0.7 0.2 0.8 0.9 3.3 7.3 3 4.8 1.5 3.5 1.1 4 1.1 5.4 5.2 32.9 1.5 7.9 1.4 6.4 1.5 4.8 1.9 4.2 1.8 2.5 1.1 1.1 1.5 1 8.2 3.8 10 5.2 6.7 2.7 4 1.2 4.5 0.8 4.4 0.5 5.2 0.1 5.6-0.3 6.3-0.7 7-1.1 8.2-1.6 20-4.7 30.7-8"/>
<path transform="translate(-237.1,-108.4)" d="M37.1,-10.1l30.3-8.5 20.1-6.1 8.1-2.8 7.1-2.7 5.9-2.5 5.9-2.9 4.8-2.7 4.5-2.8 4.4-3.1 4.1-3.3 5.9-5.4 11.9-12.3 7.8-7.4 2.6-3.3 1.8-3.5 1.9-5.2 1.5-5.9 1.4-7.7 1.5-9.4 5.2-39.4 1.1-6.4 1.1-4.7 0.8-2 1.1-1.8 0.7-0.5 2.6-1.1 2.6-2.4 1.5-0.9 0.7-0.1 0.8 0.2 2.6 1 2.6-0.3 0.7 0.1 1.1 1.2 0.8 1.6 1.1 4.1 1.1 5.8 5.2 36.6 1.5 8.6 1.4 6.9 1.5 5.1 1.9 4.2 1.8 2.5 1.1 1 1.5 0.9 7.8 3.2 11.9 5.8 5.9 2.3 4.1 1 4.4 0.8 4.5 0.4 4.8 0.1 5.9-0.4 5.9-0.6 7.1-1.2 8.1-1.6 20.1-4.7 30.3-7.9"/>
<path transform="translate(-235.9,-107.8)" d="M37.1,-10.1l30.7-8.6 19.7-6 8.1-2.8 7.1-2.7 5.9-2.5 5.9-2.9 4.8-2.7 4.5-2.8 4.1-2.8 4-3.3 6.3-5.7 12.3-12.4 8.5-7.8 1.8-2.5 1.9-3.7 1.5-4.4 1.5-6.1 1.4-8.1 1.5-10.2 4.1-34.5 1.5-11 1.1-6.2 0.7-2.7 0.8-1.7 0.7-0.6 0.4 0 0.7 0.5 2.3 3.2 1.1 1.2 1.1 0.7 1.5 0 2.2-0.7 1.5-1.3 1.4-2.3 2.3-4.4 0.7-0.9 0.4-0.2 0.7 0.2 0.8 1.3 1.1 3.9 1.1 6.2 5.2 40.3 1.5 9.4 1.1 5.6 1.5 5.8 1.8 4.8 1.9 2.7 1.1 1 1.5 0.9 7.7 2.7 12.3 5.9 6.6 2.4 4.1 1 4.5 0.7 4.4 0.3 4.5 0.1 5.5-0.4 6.3-0.7 6.7-1.1 8.1-1.6 19.7-4.6 30.7-8"/>
<path transform="translate(-234.7,-107.3)" d="M37.1,-10.1l30.3-8.5 19.7-6 7.8-2.7 7-2.6 5.9-2.5 6-2.8 4.8-2.6 4.4-2.8 4.1-2.8 4.1-3.1 6.3-5.7 13-12.9 7.4-6.1 1.5-1.4 1.8-2.5 1.9-4.1 1.4-4.9 1.5-6.9 1.1-6.6 1.5-10.9 5.2-46.8 1.5-8.9 0.7-2.5 0.8-1.1 0.3-0.1 0.4 0.2 0.8 1.2 2.9 8.9 1.1 2.8 0.8 1.2 0.7 0.8 0.8 0.4 0.7 0 0.7-0.4 0.8-0.8 1.5-2.8 1.4-4.7 1.9-6.9 1.1-3.2 0.4-0.7 0.7-0.5 0.8 0.7 1.1 3.7 1.1 6.5 5.2 44 2.2 14.3 1.5 6.6 1.8 5.4 0.8 1.5 1.1 1.5 1.1 1.1 1.1 0.6 8.5 2.6 13 5.9 6.3 2.2 4.1 1 4.1 0.6 4.4 0.3 4.8 0 6-0.3 5.9-0.8 7-1.1 7.8-1.5 19.7-4.7 30.3-7.9"/>
<path transform="translate(-233.5,-106.7)" d="M37.1,-10.1l30.3-8.5 19.7-6 7.8-2.7 7-2.6 5.9-2.5 6-2.8 8.5-4.9 4.1-2.7 4.1-3.1 7-6.2 12.6-12.4 3.3-2.8 4.8-3.5 1.9-1.7 1.9-2.9 1.4-3.6 1.5-5.5 1.5-7.7 2.2-16.6 5.2-50.6 1.5-9 0.7-2.2 0.4-0.4 0.4-0.1 0.3 0.3 1.2 2.9 2.6 11.9 1.4 5.8 0.8 2 0.7 1.4 0.8 0.7 0.7 0.1 0.7-0.5 0.8-1.1 1.5-4.2 1.4-6.6 2.3-11.7 1.1-4.3 0.7-1.3 0.4-0.1 0.4 0.2 0.3 0.7 1.1 4.5 0.8 4.8 5.2 47.8 2.2 15.4 1.5 6.9 1.5 4.7 0.7 1.6 1.1 1.7 0.8 0.8 1.1 0.8 1.8 0.6 4.5 0.8 3.3 0.9 12.6 5.6 3.7 1.4 3.3 1 4.1 0.9 4.1 0.6 4.4 0.3 4.5-0.1 5.6-0.3 6.3-0.8 6.6-1.1 8.2-1.6 19.3-4.6 30.3-7.9"/>
<path transform="translate(-232.3,-106.2)" d="M37.1,-10.1l30-8.4 19.2-5.9 14.9-5.2 5.9-2.5 5.9-2.7 8.6-4.8 3.7-2.4 4-3 7.1-6.1 13.7-13.2 3.3-2.6 5.2-3.3 1.9-1.7 1.8-2.9 1.5-4.1 1.1-4.3 1.5-8.1 2.2-17.6 5.2-54.5 0.8-5.4 0.7-3.7 0.7-1.8 0.4-0.1 0.4 0.2 0.3 0.8 1.2 4.4 2.6 15.9 1.4 7.5 0.8 2.6 0.7 1.8 0.8 1 0.7 0.2 0.7-0.6 0.8-1.4 1.5-5.2 1.4-8.3 2.3-15.1 1.1-5.9 0.7-2.3 0.4-0.4 0.4-0.1 0.7 1.4 0.7 3.3 1.2 8.1 4.4 45.2 1.1 9.6 1.5 10.2 1.5 7.3 1.5 4.7 1.4 2.8 0.8 0.8 1.1 0.8 1.5 0.5 5.2 0.5 3.3 0.8 3.3 1.2 10.4 4.6 3.4 1.2 3.7 1 4 0.8 3.7 0.5 4.1 0.2 4.5-0.1 5.9-0.4 5.9-0.8 7.1-1.1 7.8-1.6 19.2-4.5 30-7.9"/>
<path transform="translate(-231.1,-105.6)" d="M37.1,-10.1l29.6-8.3 19.3-5.8 14.4-5.1 6-2.4 5.9-2.8 8.5-4.6 7.4-5.1 7.4-6.2 11.2-10.7 3.3-3 3.3-2.4 5.6-3 1.8-1.6 1.5-2.4 1.5-3.9 1.1-4.4 1.5-8.5 2.2-18.6 5.2-58.5 1.1-7.5 0.4-1.6 0.7-1.3 0.4 0.2 0.4 0.7 1.1 4.9 3 21.9 1.4 9 0.8 3.1 0.7 2.2 0.8 1.2 0.7 0.3 0.7-0.7 0.8-1.6 1.5-6.1 1.4-9.8 2.6-21 1.2-6.6 0.3-1.4 0.8-1.3 0.3 0.3 0.4 0.6 0.7 3.2 1.2 8.4 4 45.1 1.5 13.9 1.1 8.4 1.1 6.6 1.5 6.2 1.5 3.6 0.7 1.1 1.2 1.1 1.8 0.5 5.6 0 3.3 0.7 3.3 1.1 11.2 4.8 3.7 1.2 3.7 1 3.7 0.6 3.7 0.4 4.1 0.2 4.4-0.1 5.9-0.5 6-0.8 14.4-2.7 19.3-4.5 29.6-7.8"/>
<path transform="translate(-229.9,-105.1)" d="M37.1,-10.1l28.9-8.1 19.2-5.8 14.9-5.2 6.3-2.5 5.2-2.4 7.7-4.2 7.4-4.8 4.1-3.1 4.1-3.5 11.5-11 3.7-3.2 4.1-2.7 5.2-2.2 1.8-1.5 1.5-2.4 1.5-4.4 1.1-5.1 1.1-6.8 2.2-19.7 4.1-50.7 1.1-11.8 1.1-7.6 0.4-1.5 0.4-0.6 0.3-0.2 0.8 1.7 1.1 6.4 3 25.9 1.4 10.4 0.8 3.6 0.7 2.4 0.8 1.4 0.7 0.4 0.7-0.8 0.8-1.8 1.5-6.8 1.4-11.2 3.4-30.3 1.1-5.5 0.4-0.8 0.3 0 0.4 0.4 0.7 3 0.4 2.5 1.1 9.9 3.7 44.7 2.3 21.1 1.4 9.6 1.5 6.4 1.5 3.6 0.7 1 0.8 0.6 0.7 0.4 1.1 0.1 5.2-0.6 2.3 0.1 1.8 0.4 3.7 1.2 11.5 4.8 4.1 1.3 4.1 0.9 3.7 0.5 3.7 0.3 7.7-0.1 5.2-0.4 6.3-0.8 14.9-2.8 19.2-4.6 28.9-7.6"/>
<path transform="translate(-228.7,-104.6)" d="M37.1,-10.1l28.9-8.1 18.9-5.7 14.4-5 6.3-2.5 5.2-2.4 4.8-2.4 4.5-2.5 4.4-2.8 4.1-3 6.3-5.2 11.5-10.9 4.4-3.6 3.4-2 5.5-1.7 1.1-0.6 0.8-0.8 1.5-2.7 1.4-5 1.2-5.7 1.4-10.9 2.3-23.6 4-54 1.2-9.6 0.7-3.1 0.4-0.4 0.3 0.1 0.4 1 1.1 6.3 3.4 33 1.4 11.4 0.8 4 0.7 2.8 0.8 1.5 0.7 0.4 0.7-0.8 0.8-1.9 1.5-7.6 1.4-12.2 3-31.5 1.1-8.5 0.8-2.9 0.3-0.3 0.4 0.2 0.4 1.1 1.1 7 0.7 7.5 3.7 47.9 2.3 22.4 1.4 10.1 1.2 5.1 1.4 4.2 0.8 1.2 0.7 0.7 0.8 0.4 1.1 0 5.5-1.3 3.4 0.1 4.4 1.3 11.5 4.7 6.3 1.8 4.1 0.7 4.4 0.5 4.5 0.1 4.8-0.2 5.2-0.5 6.3-0.8 14.4-2.8 18.9-4.5 28.9-7.6"/>
<path transform="translate(-227.5,-104)" d="M37.1,-10.1l28.1-7.8 18.9-5.7 14.5-5 11.5-4.8 5.2-2.6 4.4-2.5 4.1-2.5 4.4-3.2 6.3-5.1 11.9-11.2 4.4-3.5 1.9-1.1 2.2-0.9 5.2-0.8 1.1-0.6 0.8-0.8 0.7-1.2 0.7-1.7 1.5-5.7 1.1-6.7 1.1-8.8 2.3-24.9 4-57.5 1.2-9.9 0.7-2.9 0.4-0.1 0.3 0.5 0.4 1.3 1.1 7.8 3.4 37.2 1.4 12.5 0.8 4.3 0.7 3 0.8 1.6 0.7 0.5 0.7-0.9 0.8-2 0.7-3.4 0.8-4.7 1.4-13.3 3.8-42.3 1.1-6.7 0.3-0.6 0.4-0.1 0.4 1 0.3 1.5 0.8 5.5 0.7 7.9 3.7 51.1 2.3 23.8 1.1 8.2 1.1 6.1 1.5 4.9 0.7 1.3 0.7 0.8 0.8 0.4 1.1 0 5.2-2 2.2-0.3 1.9 0.1 1.8 0.3 2.6 0.8 11.9 4.8 6.3 1.7 4.4 0.7 4.1 0.4 4.4 0.1 5.2-0.3 5.6-0.5 5.9-0.9 14.5-2.8 18.9-4.5 28.1-7.4"/>
<path transform="translate(-226.3,-103.5)" d="M37.1,-10.1l27.4-7.6 18.5-5.6 14.1-4.8 11.5-4.6 5.2-2.5 4.8-2.6 4.4-2.7 4.5-3.1 6.3-5.1 12.6-11.7 4.4-3.4 1.9-1 2.2-0.8 1.5-0.1 4.1 0.1 1.1-0.5 0.7-0.8 0.8-1.3 0.7-2.1 1.1-4.6 1.1-6.8 1.1-9.3 2.3-26.2 3.7-56.4 1.1-11.9 0.4-2.7 0.7-2.6 0.4 0.1 0.3 0.8 1.1 7.4 3.8 44.8 1.4 13.5 0.8 4.5 0.7 3.2 0.8 1.8 0.7 0.5 0.7-0.9 0.8-2.2 0.7-3.6 0.8-4.9 1.4-14.3 3.8-46.8 1.1-8 0.3-1 0.4-0.3 0.4 0.8 0.3 1.4 0.8 5.5 0.7 8.3 3.7 54.4 2.3 25 1.1 8.6 1.1 6.3 0.7 2.9 0.8 2 0.7 1.3 0.7 0.6 0.8 0.2 1.1-0.3 3.7-2.1 1.5-0.7 2.2-0.5 1.9 0.1 1.8 0.3 2.6 0.7 12.6 4.9 6.3 1.7 4.5 0.6 4.4 0.3 4.8 0 5.2-0.3 11.5-1.5 14.1-2.8 18.5-4.5 27.4-7.2"/>
<path transform="translate(-225.1,-102.9)" d="M37.1,-10.1l26.6-7.4 18.2-5.4 13.7-4.6 11.5-4.6 5.2-2.4 5.2-2.7 4.8-2.9 4.4-3 7.8-6.2 12.3-11.3 4-3 1.9-1 2.2-0.5 2.2 0.1 3.4 0.8 1.1-0.2 0.7-0.6 0.8-1.2 0.7-2 1.1-4.6 1.1-7.1 1.1-9.6 2.3-27.5 3.7-59.7 1.1-12.3 0.4-2.7 0.7-2.3 0.4 0.4 0.3 1.1 1.1 8.8 3.4 44.6 1.5 15.6 1.1 8 0.7 3.3 0.8 1.9 0.7 0.5 0.7-0.9 1.2-4.1 1.1-7.2 0.7-6.7 1.5-17.9 2.6-37.1 1.1-11.4 0.4-2.4 0.3-1.3 0.4-0.6 0.7 1.9 0.8 5.6 0.7 8.6 3.7 57.7 2.3 26.3 1.1 9 1.1 6.5 1.1 4 0.7 1.6 0.8 0.7 0.7 0.2 1.1-0.4 3.4-2.6 2.2-1.3 2.2-0.6 1.9-0.1 1.8 0.3 2.2 0.6 12.3 4.7 4 1.2 3.8 0.8 4.4 0.6 4.8 0.3 5.2-0.1 5.2-0.4 11.5-1.7 13.7-2.8 18.2-4.4 26.6-7"/>
<path transform="translate(-224,-102.4)" d="M37.1,-10.1l25.9-7.2 17.8-5.3 13.7-4.5 11.1-4.3 6-2.7 5.1-2.7 4.9-2.8 4.4-2.9 4.1-3.1 4.1-3.4 12.6-11.5 4-3 1.9-0.8 2.2-0.4 2.2 0.3 3.7 1.6 1.2 0 0.7-0.7 1.1-2.4 1.1-4.7 1.1-7.3 1.1-10 2.3-28.8 3.7-62.9 1.1-12.7 0.4-2.7 0.3-1.4 0.4-0.6 0.4 0.7 0.3 1.5 1.1 10.1 3 43.3 1.9 21.5 1.1 8.3 0.7 3.5 0.8 2 0.7 0.5 0.7-0.9 0.8-2.4 0.7-3.9 0.8-5.4 1.8-20.8 3.7-54.5 0.8-6.4 0.3-1.6 0.4-0.9 0.4 0.4 0.3 1.2 0.8 5.6 0.7 9 3.7 60.9 1.9 23.7 1.1 10.5 1.1 7.6 1.1 4.9 0.8 1.9 0.7 1 0.7 0.2 1.2-0.5 3.7-3.6 2.2-1.6 2.2-0.7 1.9-0.2 1.8 0.2 2.2 0.6 12.6 4.7 4.1 1.2 4.1 0.8 4.4 0.6 4.9 0.2 5.1-0.2 6-0.5 11.1-1.7 13.7-2.8 17.8-4.4 25.9-6.8"/>
<path transform="translate(-222.8,-101.8)" d="M37.1,-10.1l28.1-7.8 18.9-5.7 14.5-5 11.5-4.8 4.8-2.4 4.4-2.4 7.8-5.1 7.4-6 12.3-11.1 2.9-2.2 2.2-1.2 2.3-0.6 1.5 0.1 2.2 0.9 3.3 2.3 0.8 0.2 0.7-0.5 0.7-1.2 0.4-1 1.1-4.7 1.1-7.6 1.1-10.4 2.3-30 3.7-66 1.1-13 0.4-2.7 0.3-1.3 0.4-0.5 0.7 2.8 1.1 11.4 3 46.5 1.5 19 0.7 7 1.1 7.1 0.4 1.8 0.8 2.1 0.7 0.5 0.7-0.9 0.8-2.5 0.7-4 0.8-5.7 1.8-21.8 3.7-58.3 0.8-7.2 0.3-2 0.4-1.2 0.4 0.3 0.3 1 0.8 5.7 0.7 9.3 3.7 64 2.3 28.8 1.1 9.8 1.1 7 1.1 4.1 0.4 0.8 0.7 0.8 0.7 0 0.8-0.5 3.3-4.1 2.2-2.1 1.5-0.9 2.3-0.6 2.2-0.1 2.9 0.6 12.3 4.6 3.7 1.1 3.7 0.8 4.1 0.6 3.7 0.3 4.4 0.1 4.8-0.3 5.2-0.5 6.3-0.9 14.5-2.8 18.9-4.5 28.1-7.4"/>
<path transform="translate(-221.6,-101.3)" d="M37.1,-10.1l28.1-7.8 18.9-5.7 14.5-5 11.5-4.8 8.9-4.6 7.7-5.1 7.5-5.8 12.6-11.5 2.9-2.1 2.2-1.1 2.3-0.5 1.8 0.3 1.9 1.1 3.7 3.5 0.7 0.2 0.8-0.5 1.1-2.9 0.7-3.5 1.1-7.9 1.1-10.9 2.3-31.2 3.7-68.8 1.1-13.4 0.4-2.7 0.3-1.2 0.4-0.3 0.7 3.4 0.8 7.5 3.3 54.5 1.5 19.7 0.7 7.3 1.1 7.5 0.4 1.8 0.8 2.1 0.7 0.6 0.7-1 0.8-2.5 0.7-4.2 1.1-9.6 1.9-24.5 3.3-56.3 0.8-7.9 0.3-2.3 0.4-1.5 0.4 0.1 0.3 1 0.8 5.7 0.7 9.6 3.7 66.8 1.5 21.4 1.1 12.3 1.1 9.4 0.8 4.5 0.7 3.1 0.8 1.8 0.3 0.4 0.4 0.2 0.4 0 0.7-0.6 3.7-5.5 1.9-2.1 1.8-1.3 2.3-0.8 2.2-0.1 2.9 0.6 12.6 4.6 3.7 1.1 3.8 0.8 3.7 0.5 4 0.3 4.5 0.1 4.4-0.3 5.2-0.5 6.3-0.9 14.5-2.8 18.9-4.5 28.1-7.4"/>
<path transform="translate(-220.4,-100.7)" d="M37.1,-10.1l28.1-7.8 18.9-5.7 14.5-5 11.5-4.8 8.9-4.6 7.7-5.1 7.5-5.8 12.6-11.4 2.9-2.1 2.2-1.1 2.3-0.3 1.1 0.1 1.1 0.5 2.2 1.8 3.4 4.3 0.7 0.2 0.4-0.3 0.3-0.5 0.8-2.2 0.7-3.7 1.1-8.3 1.1-11.2 2.3-32.3 3.7-71.4 1.1-13.8 0.4-2.7 0.3-1 0.4-0.2 0.7 3.9 0.8 8.3 3.3 57.4 1.5 20.4 0.7 7.5 1.1 7.7 0.4 1.9 0.8 2.3 0.7 0.6 0.7-1 0.8-2.7 0.7-4.3 1.1-9.9 1.9-25.3 3.3-59.2 1.1-11.3 0.4-1.7 0.4 0 0.3 0.8 0.8 5.7 0.7 10 3.7 69.4 1.9 26.7 1.1 11.9 1.1 8.6 1.1 5.5 0.8 1.8 0.3 0.3 0.4 0.1 0.7-0.6 3.4-6.1 2.2-3 2.2-1.9 2.3-0.8 2.2-0.2 2.9 0.6 12.6 4.5 3.7 1.1 3.8 0.8 3.7 0.5 4 0.3 4.5 0.1 4.4-0.3 5.2-0.5 6.3-0.9 14.5-2.8 18.9-4.5 28.1-7.4"/>
<path transform="translate(-219.2,-100.2)" d="M37.1,-10.1l28.1-7.8 18.9-5.7 14.5-5 11.5-4.8 8.9-4.6 7.7-5.1 7.1-5.5 12.6-11.4 2.6-1.9 2.6-1.3 1.1-0.3 1.5-0.1 1.1 0.2 1.1 0.5 1.1 0.9 1.1 1.3 3.4 5.5 0.7 0.6 0.7-0.5 0.8-2.2 0.3-1.9 1.2-7.5 1.1-10.8 1.1-13.8 1.5-23.7 3.7-73.6 0.7-10.6 0.8-6.2 0.3-0.9 0.4 0 0.7 4.3 0.8 8.9 3.3 59.9 1.5 21 0.7 7.8 1.1 7.9 0.4 2 0.8 2.3 0.7 0.6 0.7-1 0.8-2.7 0.7-4.5 1.1-10.2 1.9-26 3.3-61.7 1.1-12.1 0.4-1.9 0.4-0.2 0.3 0.7 0.8 5.8 0.7 10.1 3.7 71.7 1.5 22.9 1.1 13.1 1.1 10.3 1.2 6.9 0.3 1.6 0.8 1.9 0.3 0.2 0.4-0.1 0.7-1 3.4-7.3 2.2-3.4 2.2-2 1.5-0.7 1.1-0.2 2.6-0.1 2.6 0.5 12.6 4.6 7.1 1.7 3.7 0.5 4 0.3 4.5 0.1 4.4-0.3 5.2-0.5 6.3-0.9 14.5-2.8 18.9-4.5 28.1-7.4"/>
<path transform="translate(-218,-99.7)" d="M37.1,-10.1l27.8-7.7 18.9-5.7 14.4-5 11.5-4.7 8.9-4.6 4.4-2.7 3.7-2.6 7.1-5.5 12.6-11.3 2.6-1.9 2.6-1.3 1.8-0.4 1.1 0.1 1.2 0.4 1.4 1 1.1 1.3 1.2 1.7 2.9 6.2 0.4 0.5 0.4 0.1 0.3-0.3 0.8-2.4 0.3-1.9 1.2-8.1 1.1-11.3 1.1-14.2 1.5-24.2 3.7-75.5 0.7-10.8 0.8-6.2 0.3-0.8 0.4 0.1 0.7 4.7 0.8 9.4 3.3 61.9 1.5 21.5 0.7 7.9 1.1 8.2 0.4 2 0.8 2.4 0.7 0.6 0.7-1 1.2-5 1.1-8.8 0.7-8.3 1.5-22.3 3.3-63.7 1.1-12.8 0.4-2.1 0.4-0.3 0.3 0.6 0.8 5.8 0.7 10.4 3.7 73.5 1.5 23.4 1.1 13.6 1.1 10.7 1.2 7.4 0.3 1.8 0.8 2 0.3 0.1 0.4-0.3 0.4-0.7 2.9-7.8 2.3-4.2 1.4-1.8 1.2-1 1.1-0.7 1.8-0.7 2.6-0.1 2.6 0.5 12.6 4.6 7.1 1.7 3.7 0.5 4.4 0.3 4.5 0.1 4.4-0.3 5.6-0.6 5.9-0.8 14.4-2.9 18.9-4.5 27.8-7.3"/>
<path transform="translate(-216.8,-99.1)" d="M37.1,-10.1l27.8-7.7 18.9-5.7 14-4.8 11.5-4.8 8.9-4.5 7.8-4.9 7.8-6.1 13-11.6 2.9-2 2.2-1 1.5-0.2 1.5 0.2 1.5 0.8 1.1 1.1 1.1 1.5 1.1 2.1 3 7.7 0.4 0.3 0.3-0.2 0.8-2.7 0.3-2.2 1.2-8.7 2.2-26.1 1.5-24.7 3.7-76.9 0.7-10.9 0.8-6.2 0.3-0.8 0.4 0.2 0.7 5 0.8 9.8 3.3 63.4 1.5 21.8 0.7 8.1 1.1 8.3 0.4 2 0.8 2.5 0.7 0.7 0.7-1.1 1.2-5.1 1.1-8.9 0.7-8.5 1.5-22.6 2.6-51.8 1.1-18.9 0.4-4.7 0.7-5.4 0.4-0.4 0.3 0.6 0.8 5.8 0.7 10.5 3.7 74.9 1.5 23.8 1.1 13.9 1.1 11.1 1.2 8.1 0.3 2 0.8 2.3 0.3-0.1 0.4-0.5 3-9.2 1.1-2.7 1.1-2.1 1.1-1.7 1.5-1.6 1.5-1 1.5-0.6 2.2-0.3 2.9 0.5 3 0.9 10 3.7 4.1 1.1 3.7 0.7 3.7 0.5 4.1 0.3 4.4-0.1 4.5-0.2 5.5-0.6 6-0.9 14-2.8 18.9-4.5 27.8-7.3"/>
<path transform="translate(-215.6,-98.6)" d="M37.1,-10.1l27.8-7.7 18.9-5.7 14-4.8 11.5-4.8 8.9-4.5 7.8-4.9 7.8-6.1 12.6-11.3 3-2.1 2.5-1.1 1.5-0.2 1.5 0.2 1.5 0.8 1.5 1.6 1.1 1.8 1.1 2.4 1.1 3.2 1.5 5.2 0.4 0.6 0.3 0 0.8-3.3 1.5-11.8 2.2-26.6 1.5-24.9 3.7-77.7 0.7-11.1 0.8-6.2 0.3-0.7 0.4 0.2 0.4 2.2 1.1 13 3.3 64.3 1.5 22.1 0.7 8.1 1.1 8.4 0.4 2.1 0.8 2.5 0.7 0.7 0.7-1.1 1.2-5.2 1.1-9 0.7-8.5 1.5-22.9 3.7-71.7 0.4-4.8 0.7-5.6 0.4-0.4 0.3 0.5 0.8 5.8 0.7 10.7 3.7 75.7 1.5 24.1 2.2 25.4 1.5 11 0.8 2.9 0.3-0.2 0.4-0.8 2.6-9.8 2.2-5.4 1.5-2.4 1.5-1.6 1.5-1.1 1.5-0.6 2.5-0.2 3 0.5 12.6 4.5 4.1 1.1 3.7 0.7 3.7 0.5 4.1 0.3 4.4-0.1 4.5-0.2 5.5-0.6 6-0.9 14-2.8 18.9-4.5 27.8-7.3"/>
<path transform="translate(-214.4,-98)" d="M37.1,-10.1l27.8-7.7 18.9-5.7 14-4.8 11.5-4.8 8.9-4.5 7.8-4.9 7.8-6.1 12.6-11.3 3-2.1 2.5-1.1 1.5-0.2 1.5 0.2 1.5 0.9 1.5 1.6 1.1 1.8 1.1 2.5 1.5 4.6 1.1 4.6 0.4 0.9 0.3 0.2 0.8-3.9 1.5-12.3 2.2-26.8 1.5-25 3.7-78 0.7-11.1 0.8-6.2 0.3-0.7 0.4 0.2 0.4 2.2 1.1 13.2 3.3 64.5 1.5 22.2 0.7 8.2 1.1 8.4 0.4 2.1 0.8 2.5 0.7 0.7 0.7-1.1 1.2-5.2 1.1-9 0.7-8.6 1.5-23 3.7-72 0.4-4.8 0.7-5.7 0.4-0.4 0.3 0.5 0.8 5.8 0.7 10.7 3.7 76 1.5 24.2 2.2 25.5 1.5 11.6 0.8 3.5 0.3-0.4 0.4-1.1 1.1-5.3 1.5-5.3 2.2-5.5 1.5-2.4 1.5-1.7 1.5-1 1.5-0.6 2.5-0.3 3 0.5 12.6 4.5 4.1 1.1 3.7 0.7 3.7 0.5 4.1 0.3 4.4-0.1 4.5-0.2 5.5-0.6 6-0.9 14-2.8 18.9-4.5 27.8-7.3"/>
<path transform="translate(-213.2,-97.5)" d="M37.1,-10.1l27.8-7.7 18.9-5.7 14-4.8 11.5-4.8 8.9-4.5 7.8-4.9 7.8-6.1 12.6-11.3 3-2.1 2.5-1.1 1.5-0.2 1.5 0.2 1.5 0.8 1.5 1.6 1.1 1.8 1.1 2.4 1.1 3.2 1.5 5.2 0.4 0.6 0.3 0 0.8-3.3 1.5-11.8 2.2-26.6 1.5-24.9 3.7-77.7 0.7-11.1 0.8-6.2 0.3-0.7 0.4 0.3 0.4 2.1 1.1 13 3.3 64.3 1.5 22.1 0.7 8.1 1.1 8.4 0.4 2.1 0.8 2.5 0.7 0.7 0.7-1.1 1.2-5.2 1.1-9 0.7-8.5 1.5-22.9 3.7-71.7 0.4-4.7 0.7-5.7 0.4-0.4 0.3 0.5 0.8 5.8 0.7 10.7 3.7 75.7 1.5 24.1 2.2 25.4 1.5 11 0.8 2.9 0.3-0.2 0.4-0.8 2.6-9.8 2.2-5.4 1.5-2.4 1.5-1.6 1.5-1.1 1.5-0.6 2.5-0.2 3 0.5 12.6 4.5 4.1 1.1 3.7 0.7 3.7 0.5 4.1 0.3 4.4-0.1 4.5-0.2 5.5-0.6 6-0.9 14-2.8 18.9-4.5 27.8-7.3"/>
<path transform="translate(-212,-96.9)" d="M37.1,-10.1l27.8-7.7 18.9-5.7 14-4.8 11.5-4.8 8.9-4.5 7.8-4.9 7.8-6.1 12.6-11.3 3-2.1 2.5-1.2 1.5-0.2 1.5 0.2 1.5 0.8 1.1 1.1 1.1 1.5 1.1 2.1 3 7.6 0.4 0.3 0.3-0.1 0.8-2.7 0.3-2.2 1.2-8.7 2.2-26.2 1.5-24.6 3.7-76.9 0.7-10.9 0.8-6.2 0.3-0.8 0.4 0.2 0.7 5 0.8 9.8 3.3 63.4 1.5 21.8 0.7 8.1 1.1 8.3 0.4 2 0.8 2.5 0.7 0.7 0.7-1.1 1.2-5.1 1.1-8.9 0.7-8.5 1.5-22.6 2.6-51.8 1.1-18.9 0.4-4.7 0.7-5.4 0.4-0.4 0.3 0.6 0.8 5.8 0.7 10.5 3.7 74.9 1.5 23.8 1.1 13.9 1.1 11.1 1.2 8.1 0.3 2 0.8 2.2 0.3 0 0.4-0.5 3-9.2 1.1-2.7 1.1-2.1 1.1-1.7 1.5-1.6 1.5-1 1.5-0.6 2.5-0.2 3 0.5 12.6 4.5 4.1 1.1 3.7 0.7 3.7 0.5 4.1 0.3 4.4-0.1 4.5-0.2 5.5-0.6 6-0.9 14-2.8 18.9-4.5 27.8-7.3"/>
<path transform="translate(-210.9,-96.4)" d="M37.1,-10.1l28.1-7.8 18.9-5.7 14.1-4.9 11.5-4.7 8.9-4.6 4.4-2.7 3.7-2.6 7.1-5.5 12.6-11.3 2.6-1.9 2.6-1.3 1.8-0.4 1.1 0.1 1.2 0.4 1.4 1 1.1 1.3 1.2 1.7 2.9 6.2 0.4 0.5 0.4 0.1 0.3-0.3 0.8-2.4 0.3-2 1.2-8 1.1-11.3 1.1-14.2 1.5-24.2 3.7-75.5 0.7-10.8 0.8-6.2 0.3-0.8 0.4 0.1 0.7 4.7 0.8 9.4 3.3 61.9 1.5 21.5 0.7 7.9 1.1 8.2 0.4 2 0.8 2.4 0.7 0.6 0.7-1 1.2-5 1.1-8.8 0.7-8.3 1.5-22.3 3.3-63.7 1.1-12.8 0.4-2.1 0.4-0.3 0.3 0.6 0.8 5.8 0.7 10.4 3.7 73.5 1.5 23.4 1.1 13.6 1.1 10.7 1.2 7.4 0.3 1.8 0.8 1.9 0.3 0.2 0.4-0.3 0.4-0.7 2.9-7.8 2.3-4.2 1.4-1.8 1.2-1 1.1-0.7 1.8-0.7 2.6-0.1 2.6 0.5 12.6 4.6 7.1 1.7 3.7 0.5 4.4 0.3 4.5 0.1 4.4-0.3 5.6-0.6 5.9-0.8 14.1-2.8 18.9-4.5 28.1-7.4"/>
<path transform="translate(-209.7,-95.8)" d="M37.1,-10.1l28.1-7.8 18.9-5.7 14.5-5 11.5-4.8 8.9-4.6 7.7-5.1 7.1-5.5 12.6-11.4 2.6-1.9 2.6-1.3 1.1-0.3 1.5-0.1 1.1 0.2 1.1 0.5 1.1 0.9 1.1 1.3 3.4 5.5 0.7 0.6 0.7-0.5 0.8-2.3 0.3-1.8 1.2-7.5 1.1-10.9 1.1-13.7 1.5-23.7 3.7-73.6 0.7-10.6 0.8-6.2 0.3-0.9 0.4 0 0.7 4.3 0.8 8.9 3.3 59.9 1.5 21 0.7 7.7 1.1 8 0.4 1.9 0.8 2.3 0.7 0.7 0.7-1.1 0.8-2.7 0.7-4.4 1.1-10.2 1.9-26 3.3-61.7 1.1-12.1 0.4-1.9 0.4-0.2 0.3 0.7 0.8 5.8 0.7 10.2 3.7 71.6 1.5 22.9 1.1 13.1 1.1 10.3 1.2 6.9 0.3 1.6 0.8 1.8 0.3 0.3 0.4-0.1 0.7-1 3.4-7.3 2.2-3.4 2.2-2 1.5-0.7 1.1-0.2 2.6-0.1 2.6 0.5 12.6 4.6 7.1 1.7 3.7 0.5 4 0.3 4.5 0.1 4.4-0.3 5.2-0.5 6.3-0.9 14.5-2.8 18.9-4.5 28.1-7.4"/>
<path transform="translate(-208.5,-95.3)" d="M37.1,-10.1l28.1-7.8 18.9-5.7 14.5-5 11.5-4.8 8.9-4.6 7.7-5.1 7.5-5.8 12.6-11.4 2.9-2.1 2.2-1.1 2.3-0.3 1.1 0.1 1.1 0.5 2.2 1.8 3.4 4.3 0.7 0.2 0.4-0.3 0.3-0.5 0.8-2.2 0.7-3.7 1.1-8.3 1.1-11.2 2.3-32.3 3.7-71.4 1.1-13.8 0.4-2.7 0.3-1 0.4-0.1 0.7 3.8 0.8 8.3 3.3 57.4 1.5 20.4 0.7 7.5 1.1 7.7 0.4 1.9 0.8 2.2 0.7 0.6 0.7-1 0.8-2.6 0.7-4.3 1.1-9.9 1.9-25.3 3.3-59.2 1.1-11.3 0.4-1.7 0.4 0 0.3 0.8 0.8 5.8 0.7 9.9 3.7 69.4 1.9 26.7 1.1 11.9 1.1 8.6 1.1 5.5 0.8 1.8 0.3 0.3 0.4 0.1 0.7-0.6 3.4-6.1 2.2-3 2.2-1.9 2.3-0.8 2.2-0.2 2.9 0.6 12.6 4.5 3.7 1.1 3.8 0.8 3.7 0.5 4 0.3 4.5 0.1 4.4-0.3 5.2-0.5 6.3-0.9 14.5-2.8 18.9-4.5 28.1-7.4"/>
<path transform="translate(-207.3,-94.8)" d="M37.1,-10.1l28.1-7.8 18.9-5.7 14.5-5 11.5-4.8 8.9-4.6 7.7-5.1 7.5-5.8 12.6-11.5 2.9-2.1 2.2-1.1 2.3-0.5 1.8 0.3 1.9 1.1 3.7 3.5 0.7 0.2 0.8-0.6 1.1-2.8 0.7-3.5 1.1-8 1.1-10.8 2.3-31.2 3.7-68.8 1.1-13.4 0.4-2.7 0.3-1.1 0.4-0.4 0.7 3.4 0.8 7.5 3.3 54.5 1.5 19.7 0.7 7.3 1.1 7.4 0.4 1.9 0.8 2.1 0.7 0.6 0.7-1 0.8-2.5 0.7-4.2 1.1-9.6 1.9-24.5 3.3-56.3 0.8-7.9 0.3-2.3 0.4-1.5 0.4 0.2 0.3 0.9 0.8 5.7 0.7 9.6 3.7 66.8 1.5 21.4 1.1 12.3 1.1 9.4 0.8 4.5 0.7 3.1 0.8 1.8 0.3 0.4 0.4 0.2 0.4 0 0.7-0.6 3.7-5.5 1.9-2.1 1.8-1.3 2.3-0.8 2.2-0.1 2.9 0.6 12.6 4.6 3.7 1.1 3.8 0.8 3.7 0.5 4 0.3 4.5 0.1 4.4-0.3 5.2-0.5 6.3-0.9 14.5-2.8 18.9-4.5 28.1-7.4"/>
<path transform="translate(-206.1,-94.2)" d="M37.1,-10.1l28.1-7.8 18.9-5.7 14.5-5 11.5-4.8 4.8-2.4 4.4-2.5 7.8-5 7.4-6 12.3-11.2 2.9-2.2 2.2-1.1 2.3-0.6 1.5 0.1 2.2 0.9 3.3 2.3 0.8 0.1 0.7-0.4 0.7-1.2 0.4-1 1.1-4.7 1.1-7.6 1.1-10.4 2.3-30 3.7-65.9 1.1-13.1 0.4-2.7 0.3-1.3 0.4-0.5 0.7 2.8 1.1 11.4 3 46.5 1.5 18.9 0.7 7 1.1 7.2 0.4 1.8 0.8 2 0.7 0.6 0.7-1 0.8-2.4 0.7-4.1 0.8-5.7 1.8-21.7 3.7-58.3 0.8-7.2 0.3-2 0.4-1.2 0.4 0.3 0.3 1.1 0.8 5.6 0.7 9.4 3.7 63.9 2.3 28.8 1.1 9.8 1.1 7 1.1 4.1 0.4 0.8 0.7 0.8 0.7 0 0.8-0.5 3.3-4.1 2.2-2.1 1.5-0.9 2.3-0.6 2.2-0.1 2.9 0.6 12.3 4.6 3.7 1.1 3.7 0.8 4.1 0.6 3.7 0.3 4.4 0.1 4.8-0.3 5.2-0.5 6.3-0.9 14.5-2.8 18.9-4.5 28.1-7.4"/>
<path transform="translate(-204.9,-93.7)" d="M37.1,-10.1l26.6-7.4 17.5-5.2 13.7-4.6 10.7-4.1 5.6-2.5 5.2-2.7 5.2-3 4.4-2.9 4.1-3.1 4.1-3.4 12.6-11.5 4-3 1.9-0.8 2.2-0.4 2.2 0.3 3.7 1.6 1.2-0.1 0.7-0.6 1.1-2.4 1.1-4.7 1.1-7.3 1.1-10 2.3-28.8 3.7-62.9 1.1-12.6 0.4-2.8 0.3-1.3 0.4-0.7 0.4 0.7 0.3 1.5 1.1 10.1 3 43.3 1.9 21.5 1.1 8.3 0.7 3.5 0.8 2 0.7 0.5 0.7-0.9 0.8-2.4 0.7-3.9 0.8-5.5 1.8-20.8 3.7-54.4 0.8-6.3 0.3-1.7 0.4-0.9 0.4 0.5 0.3 1.1 0.8 5.7 0.7 8.9 3.7 60.9 1.9 23.7 1.1 10.5 1.1 7.5 1.1 5 0.8 1.9 0.7 1 0.7 0.2 1.2-0.5 3.7-3.6 2.2-1.6 2.2-0.7 1.9-0.2 1.8 0.2 2.2 0.6 12.6 4.7 4.1 1.2 4.1 0.8 4.4 0.6 5.2 0.2 5.2-0.2 5.6-0.5 10.7-1.6 13.7-2.9 17.5-4.2 26.6-7"/>
<path transform="translate(-203.7,-93.1)" d="M37.1,-10.1l26.6-7.4 18.2-5.4 13.7-4.6 11.5-4.6 5.2-2.4 5.2-2.7 4.8-2.9 4.4-3 3.8-2.8 4-3.4 12.3-11.3 4-3 1.9-1 2.2-0.5 2.2 0 3.4 0.8 1.1-0.2 0.7-0.6 0.8-1.1 0.7-2 1.1-4.6 1.1-7.1 1.1-9.6 2.3-27.5 3.7-59.7 1.1-12.2 0.4-2.8 0.7-2.3 0.4 0.4 0.3 1.1 1.1 8.8 3.4 44.5 1.5 15.7 1.1 8 0.7 3.3 0.8 1.9 0.7 0.5 0.7-0.9 1.2-4.1 1.1-7.2 0.7-6.8 1.5-17.9 2.6-37 1.1-11.4 0.4-2.4 0.3-1.3 0.4-0.6 0.7 1.9 0.8 5.6 0.7 8.6 3.7 57.7 2.3 26.3 1.1 9 1.1 6.5 1.1 4 0.7 1.5 0.8 0.8 0.7 0.2 1.1-0.4 3.4-2.6 2.2-1.3 2.2-0.6 1.9-0.1 1.8 0.3 2.2 0.6 12.3 4.7 4 1.2 3.8 0.8 4.4 0.6 4.8 0.3 5.2-0.1 5.2-0.4 11.5-1.7 13.7-2.8 18.2-4.4 26.6-7"/>
<path transform="translate(-202.5,-92.6)" d="M37.1,-10.1l27.4-7.6 18.5-5.6 14.1-4.8 11.5-4.6 5.2-2.5 4.8-2.6 4.4-2.7 4.5-3.1 6.7-5.4 11.8-11 4.5-3.6 2.2-1.2 2.2-0.8 1.9-0.1 2.9 0.2 1.1-0.2 0.8-0.4 0.7-0.8 0.8-1.4 0.7-2 1.1-4.6 1.1-6.9 1.1-9.2 2.3-26.2 3.7-56.4 1.1-11.9 0.4-2.7 0.7-2.6 0.4 0.1 0.3 0.8 1.1 7.4 3.8 44.8 1.4 13.4 0.8 4.6 0.7 3.2 0.8 1.7 0.7 0.5 0.7-0.9 0.8-2.1 0.7-3.6 0.8-5 1.4-14.2 3.8-46.8 1.1-8 0.3-1 0.4-0.3 0.4 0.8 0.3 1.4 0.8 5.5 0.7 8.3 3.7 54.4 2.3 25 1.1 8.6 1.1 6.3 0.7 2.9 0.8 2 0.7 1.3 0.7 0.6 0.8 0.2 1.1-0.3 3.7-2.1 1.5-0.7 2.2-0.5 1.9 0.1 1.8 0.2 2.6 0.8 12.6 4.9 6.3 1.7 4.5 0.6 4.4 0.3 4.8 0 5.2-0.3 11.5-1.5 14.1-2.8 18.5-4.5 27.4-7.2"/>
<path transform="translate(-201.3,-92)" d="M37.1,-10.1l28.1-7.8 18.9-5.7 14.5-5 11.5-4.8 5.2-2.6 4.4-2.5 4.1-2.5 4.4-3.2 6.3-5.1 11.9-11.2 4.4-3.5 1.9-1.1 2.2-0.9 5.2-0.8 1.1-0.6 0.8-0.8 0.7-1.2 0.7-1.7 1.5-5.7 1.1-6.7 1.1-8.8 2.3-24.9 4-57.5 1.2-9.8 0.7-2.9 0.4-0.2 0.3 0.5 0.4 1.4 1.1 7.7 3.4 37.2 1.4 12.5 0.8 4.3 0.7 2.9 0.8 1.7 0.7 0.4 0.7-0.8 0.8-2.1 0.7-3.3 0.8-4.7 1.4-13.3 3.8-42.3 1.1-6.6 0.3-0.7 0.4 0 0.4 0.9 0.3 1.5 0.8 5.5 0.7 7.9 3.7 51.2 2.3 23.6 1.1 8.3 1.1 6.1 1.5 4.9 0.7 1.3 0.7 0.8 0.8 0.4 1.1 0 5.2-2 2.2-0.3 1.9 0.1 1.8 0.3 2.6 0.8 11.9 4.8 6.3 1.7 4.4 0.7 4.1 0.4 4.4 0.1 5.2-0.3 5.2-0.5 6.3-0.9 14.5-2.8 18.9-4.5 28.1-7.4"/>
<path transform="translate(-200.1,-91.5)" d="M37.1,-10.1l28.9-8.1 18.9-5.7 14.4-5 6.3-2.5 5.2-2.4 4.8-2.4 4.5-2.5 4.4-2.8 4.1-3 6.3-5.2 11.5-10.9 4.4-3.6 3.4-2 5.5-1.7 1.1-0.6 0.8-0.8 1.5-2.7 1.4-5 1.2-5.7 1.4-10.9 2.3-23.6 4-54 1.2-9.6 0.7-3.1 0.4-0.4 0.3 0.1 0.4 1 1.1 6.3 3.4 32.9 1.4 11.5 0.8 4 0.7 2.7 0.8 1.6 0.7 0.3 0.7-0.7 0.8-2 1.5-7.5 1.4-12.3 3-31.4 1.1-8.5 0.8-2.9 0.3-0.3 0.4 0.2 0.4 1.1 1.1 7 0.7 7.5 3.7 47.9 2.3 22.4 1.4 10.1 1.2 5.1 1.4 4.2 0.8 1.2 0.7 0.7 0.8 0.3 1.1 0.1 5.5-1.3 3.4 0.1 4.4 1.3 11.5 4.7 6.3 1.8 4.1 0.7 4.4 0.5 4.5 0.1 4.8-0.2 5.2-0.5 6.3-0.8 14.4-2.8 18.9-4.5 28.9-7.6"/>
<path transform="translate(-198.9,-90.9)" d="M37.1,-10.1l29.2-8.2 18.9-5.7 14.5-5 5.9-2.4 6-2.7 8.1-4.4 7.4-4.9 3.7-2.8 4.1-3.5 11.5-11 3.7-3.2 4.1-2.7 5.2-2.2 1.8-1.5 1.5-2.4 1.5-4.4 1.1-5.1 1.1-6.8 2.2-19.7 4.1-50.6 1.1-11.9 1.1-7.6 0.4-1.4 0.4-0.7 0.3-0.2 0.8 1.7 1.1 6.4 3 25.9 1.4 10.3 0.8 3.6 0.7 2.5 0.8 1.4 0.7 0.3 0.7-0.7 0.8-1.8 1.5-6.9 1.4-11.1 3.4-30.3 1.1-5.5 0.4-0.8 0.3 0 0.4 0.5 0.7 2.9 0.4 2.5 1.1 9.9 3.7 44.7 2.3 21.1 1.4 9.6 1.5 6.3 1.5 3.6 0.7 1.1 0.8 0.6 0.7 0.4 1.1 0.1 5.2-0.6 2.3 0.1 1.8 0.4 3.7 1.2 11.5 4.8 4.1 1.3 3.7 0.8 3.3 0.5 4.1 0.4 8.1-0.1 6-0.5 5.9-0.8 14.5-2.7 18.9-4.5 29.2-7.7"/>
<path transform="translate(-197.7,-90.4)" d="M37.1,-10.1l29.6-8.3 19.3-5.8 14.4-5.1 6-2.4 5.9-2.8 8.5-4.6 7.4-5.1 7.4-6.2 11.2-10.7 3.3-3 3.3-2.4 5.6-3 1.8-1.6 1.5-2.4 1.5-3.9 1.1-4.5 1.5-8.4 2.2-18.6 5.2-58.4 1.1-7.5 0.4-1.6 0.7-1.4 0.4 0.3 0.4 0.6 1.1 4.9 3 21.8 1.4 9 0.8 3.2 0.7 2.2 0.8 1.2 0.7 0.2 0.7-0.6 0.8-1.6 1.5-6.2 1.4-9.8 2.6-20.9 1.2-6.6 0.3-1.4 0.8-1.3 0.3 0.3 0.4 0.7 0.7 3.1 1.2 8.4 4 45.1 1.5 13.9 1.1 8.4 1.1 6.6 1.5 6.2 1.5 3.6 0.7 1.1 1.2 1 1.8 0.6 5.6 0 3.3 0.7 3.3 1.1 11.2 4.8 3.7 1.2 3.7 1 3.7 0.6 3.7 0.4 4.1 0.2 4.4-0.1 5.9-0.5 6-0.8 14.4-2.7 19.3-4.5 29.6-7.8"/>
<path transform="translate(-196.6,-89.9)" d="M37.1,-10.1l30.3-8.5 19.3-5.9 14.5-5.1 5.9-2.5 5.9-2.7 8.6-4.8 3.7-2.4 4-3 7.1-6.1 13.7-13.2 3.3-2.6 5.2-3.3 1.9-1.7 1.8-2.9 1.5-4.1 1.1-4.3 1.5-8.1 2.2-17.6 5.2-54.5 0.8-5.4 0.7-3.7 0.7-1.8 0.4-0.1 0.4 0.3 0.3 0.7 1.2 4.4 2.6 15.9 1.4 7.5 0.8 2.6 0.7 1.8 0.8 1 0.7 0.2 0.7-0.6 0.8-1.4 1.5-5.2 1.4-8.3 2.3-15.1 1.1-5.9 0.7-2.2 0.4-0.5 0.4-0.1 0.7 1.4 0.7 3.3 1.2 8.1 4.4 45.2 1.1 9.6 1.5 10.2 1.5 7.3 1.5 4.7 1.4 2.8 0.8 0.8 1.1 0.8 1.5 0.5 5.2 0.5 3.3 0.8 3.3 1.2 10.4 4.6 3.4 1.2 3.7 1 4 0.8 3.7 0.5 4.1 0.2 4.5-0.1 5.9-0.4 5.9-0.8 14.5-2.6 19.3-4.6 30.3-7.9"/>
<path transform="translate(-195.4,-89.3)" d="M37.1,-10.1l30.3-8.5 19.7-6 7.8-2.7 7-2.6 5.9-2.5 6-2.8 8.5-4.9 4.1-2.7 4.1-3.1 7-6.2 12.6-12.4 3.3-2.8 4.8-3.5 1.9-1.7 1.9-2.9 1.4-3.6 1.5-5.5 1.5-7.7 2.2-16.5 5.2-50.7 1.5-9 0.7-2.2 0.4-0.4 0.4-0.1 0.7 1 0.8 2.2 2.6 11.9 1.4 5.8 0.8 2 0.7 1.3 0.8 0.7 0.7 0.2 0.7-0.6 0.8-1.1 1.5-4.1 1.4-6.6 2.3-11.7 1.1-4.2 0.7-1.4 0.4-0.1 0.4 0.2 0.3 0.8 1.1 4.4 0.8 4.8 5.2 47.8 2.2 15.4 1.5 6.9 1.5 4.7 0.7 1.6 1.1 1.7 0.8 0.8 1.1 0.8 1.8 0.6 4.5 0.8 3.3 0.9 12.6 5.6 3.7 1.4 3.3 1 4.1 0.9 4.1 0.6 4.4 0.3 4.5-0.1 5.6-0.3 6.3-0.8 6.6-1.1 8.2-1.6 19.3-4.6 30.3-7.9"/>
<path transform="translate(-194.2,-88.8)" d="M37.1,-10.1l30.3-8.5 19.7-6 7.8-2.7 7-2.6 5.9-2.5 6-2.8 4.8-2.6 4.4-2.8 4.1-2.8 4.1-3.1 6.3-5.7 13-12.9 7.4-6.1 1.5-1.4 1.8-2.5 1.9-4.1 1.4-4.9 1.5-6.9 1.1-6.6 1.5-10.9 5.2-46.8 1.5-8.8 0.7-2.5 0.8-1.2 0.3-0.1 0.4 0.2 0.8 1.2 2.9 8.9 1.1 2.7 0.8 1.3 0.7 0.8 0.8 0.3 0.7 0 0.7-0.4 0.8-0.7 1.5-2.9 1.4-4.6 1.9-6.9 1.1-3.2 0.4-0.7 0.7-0.5 0.8 0.8 1.1 3.7 1.1 6.4 5.2 44 2.2 14.3 1.5 6.6 1.8 5.4 0.8 1.5 1.1 1.5 1.1 1.1 1.1 0.6 8.5 2.6 13 5.9 6.3 2.2 4.1 1 4.1 0.6 4.4 0.3 4.8 0 6-0.3 5.9-0.8 7-1.1 7.8-1.5 19.7-4.7 30.3-7.9"/>
<path transform="translate(-193,-88.2)" d="M37.1,-10.1l30.7-8.6 19.7-6 8.1-2.8 7.1-2.7 5.9-2.5 5.9-2.9 4.8-2.7 4.5-2.7 4.1-2.9 4-3.3 6.3-5.7 12.3-12.4 8.5-7.8 1.8-2.5 1.9-3.7 1.5-4.4 1.5-6.1 1.4-8.1 1.5-10.2 4.1-34.5 1.5-11 1.1-6.1 0.7-2.8 0.8-1.6 0.7-0.7 0.4 0 0.7 0.5 2.3 3.2 1.1 1.2 1.1 0.6 1.5 0.1 2.2-0.8 1.5-1.2 1.4-2.3 2.3-4.4 0.7-0.9 0.4-0.2 0.7 0.3 0.8 1.2 1.1 4 1.1 6.2 5.2 40.2 1.5 9.4 1.1 5.6 1.5 5.8 1.8 4.8 1.9 2.7 1.1 1 1.5 0.9 7.7 2.7 12.3 5.9 6.6 2.4 4.1 1 4.5 0.7 4.4 0.3 4.5 0 5.5-0.3 6.3-0.7 6.7-1.1 8.1-1.6 19.7-4.6 30.7-8"/>
<path transform="translate(-191.8,-87.7)" d="M37.1,-10.1l30.7-8.6 19.7-6 8.1-2.8 7.1-2.7 5.9-2.5 5.9-2.9 4.8-2.7 4.5-2.8 4.4-3.1 4.1-3.3 5.9-5.4 11.9-12.3 7.8-7.4 2.6-3.3 1.8-3.5 1.9-5.2 1.5-5.9 1.4-7.7 1.5-9.4 5.2-39.3 1.1-6.4 1.1-4.7 0.8-2.1 1.1-1.8 0.7-0.5 2.6-1.1 2.6-2.4 1.5-1 0.7 0 0.8 0.2 2.6 1 2.6-0.3 0.7 0.1 1.1 1.2 0.8 1.7 1.1 4 1.1 5.9 5.2 36.5 1.5 8.6 1.4 6.9 1.5 5.1 1.9 4.2 1.8 2.5 1.1 1 1.5 0.9 7.8 3.2 11.9 5.8 5.9 2.3 4.1 1 4.4 0.8 4.5 0.4 4.8 0.1 5.9-0.4 5.9-0.6 7.1-1.2 8.1-1.6 19.7-4.6 30.7-8"/>
<path transform="translate(-190.6,-87.1)" d="M37.1,-10.1l31.5-8.8 19.6-6.1 8.2-2.8 6.6-2.6 6.3-2.7 5.6-2.7 5.2-2.9 4.4-2.9 4.5-3.2 4-3.4 6.7-6.3 10-10.6 8.2-8.2 2.6-3.5 1.8-3.5 1.9-5.2 1.5-5.6 1.4-7.2 1.5-8.7 5.2-35.6 1.1-6 1.1-4.7 1.5-4.3 3-6.4 3.3-9.2 0.8-1.3 0.7-0.6 0.7 0.2 0.8 0.9 3.3 7.4 3 4.8 1.5 3.5 1.1 4.1 1.1 5.4 5.2 32.8 1.5 7.9 1.4 6.4 1.5 4.8 1.9 4.2 1.8 2.5 1.1 1.1 1.5 1 8.2 3.8 10 5.2 6.7 2.7 4 1.2 4.5 0.8 4.4 0.5 5.2 0.1 5.6-0.3 6.3-0.7 6.6-1 8.2-1.6 19.6-4.6 31.5-8.2"/>
<path transform="translate(-189.4,-86.6)" d="M37.1,-10.1l31.5-8.8 19.6-6.1 8.2-2.8 7-2.7 5.9-2.6 6-2.9 5.1-2.9 4.9-3.2 4.4-3.3 4.1-3.4 6.7-6.5 17.4-18.6 2.6-3.7 1.8-3.6 1.9-5 1.5-5.4 1.4-6.7 1.5-8.1 4.1-25.5 1.9-10.1 1.4-6.2 3.7-12.6 4.1-20.2 0.8-2.2 0.7-0.9 0.7 0.5 0.8 1.8 4.1 18 1.1 3.6 2.6 7 1.4 5.4 1.9 9.1 4.1 23.3 1.5 7.3 1.4 5.9 1.5 4.6 1.9 4 1.8 2.6 2.6 2.2 17.4 9.3 6.7 2.8 4.1 1.3 4.4 0.9 4.9 0.5 5.1 0.2 6-0.3 5.9-0.6 7-1.1 8.2-1.6 19.6-4.6 31.5-8.2"/>
<path transform="translate(-188.2,-86)" d="M37.1,-10.1l31.5-8.8 20-6.2 7.8-2.7 7-2.7 6.7-2.9 5.5-2.8 5.2-3 4.5-2.9 4.8-3.6 4.4-3.8 7.4-7.4 16-17.7 2.6-3.7 2.2-4.5 1.8-5.2 1.9-6.9 2.2-10.7 5.2-28.3 1.5-6.2 2.6-9.2 1.1-5 1.5-9.2 3.3-25.9 0.8-3.4 0.7-1.3 0.7 0.9 0.8 3 3.3 24.1 1.5 8.4 1.1 4.4 2.6 7.8 1.5 5.4 5.2 25.5 2.2 9.4 1.9 6 1.8 4.2 2.2 3.3 2.6 2.3 2.2 1.4 13.8 7.7 3.7 1.8 3.7 1.6 4.4 1.4 4.8 1 4.5 0.5 5.2 0.2 5.5-0.3 6.7-0.6 7-1.1 7.8-1.5 20-4.7 31.5-8.2"/>
<path transform="translate(-187,-85.5)" d="M37.1,-10.1l31.8-8.9 20-6.2 8.2-2.9 7-2.7 6-2.6 5.9-3 5.2-3 4.8-3.2 4.5-3.4 4.4-3.9 4.1-3.9 4.1-4.4 11.8-13.4 3-3.5 2.2-3.3 1.9-3.4 1.8-4.5 1.5-4.7 2.6-10.4 5.2-25 1.5-5.8 2.5-8.5 1.2-4.6 1.1-6.7 0.7-6.1 3.7-40.4 0.8-4.9 0.7-1.9 0.7 1.5 0.8 4.5 3.7 38.4 0.7 5.7 1.1 6.1 1.2 4 2.5 7.1 1.5 5 5.2 22.2 2.6 9 1.5 3.8 1.8 3.6 1.9 2.4 2.2 2 3 2 11.8 7 4.1 2.1 4.1 1.8 4.4 1.5 4.5 1 4.8 0.6 5.2 0.2 5.9-0.3 6-0.6 7-1 8.2-1.6 20-4.6 31.8-8.3"/>
<path transform="translate(-185.8,-85)" d="M37.1,-10.1l31.8-8.9 20-6.2 8.2-2.9 7-2.7 6.7-3 5.6-2.8 5.2-3 5.1-3.5 4.5-3.5 4.4-4 4.1-4.1 4.8-5.2 10.4-12.1 3.3-4.2 1.9-2.8 1.9-3.5 1.4-3.4 1.5-4.2 2.2-7.8 5.6-23.4 1.5-4.8 2.9-8 1.2-4.7 1.1-7.6 1.1-12 3.3-49.7 0.8-7 0.7-2.6 0.7 2.2 0.8 6.6 3.3 47.9 1.1 11.4 1.1 7 1.2 4.1 2.9 6.3 1.5 4.1 5.6 20.4 2.2 6.6 1.5 3.4 1.4 2.6 1.9 2.5 1.9 1.8 3.3 2.4 10.4 6.4 4.8 2.7 4.1 1.9 4.4 1.5 4.5 1.1 5.1 0.7 5.2 0.3 5.6-0.2 6.7-0.7 7-1 8.2-1.6 20-4.6 31.8-8.3"/>
<path transform="translate(-184.6,-84.4)" d="M37.1,-10.1l32.2-9 20.4-6.4 8.1-2.8 7.1-2.8 6.7-3 5.5-2.9 5.2-3.1 5.2-3.6 4.4-3.6 4.5-4 4.8-5 4.8-5.4 8.9-10.7 3.7-4.9 3-5.1 2.6-6 2.6-8 5.5-20.4 1.5-3.9 3.3-6.1 1.2-4.3 1.1-8.2 0.7-8.6 1.1-18.3 2.6-52.1 0.8-9.6 0.7-3.7 0.7 3.3 0.8 9.2 2.6 50.7 1.1 17.7 0.7 8.2 1.1 7.6 1.2 3.7 0.7 1.2 1.8 2 0.8 1.1 1.5 3.1 1.5 4.2 4 13.2 2.6 6.6 2.6 4.6 1.5 1.9 1.5 1.6 3.7 2.9 8.9 5.8 4.8 2.9 4.8 2.3 4.5 1.7 4.4 1.2 5.2 0.8 5.2 0.3 5.5-0.2 6.7-0.6 7.1-1 8.1-1.5 20.4-4.7 32.2-8.4"/>
<path transform="translate(-183.5,-83.9)" d="M37.1,-10.1l32.9-9.2 20.4-6.4 8.2-2.9 7-2.8 6.7-3.1 5.6-2.9 5.1-3.2 5.2-3.7 4.8-4 4.5-4.2 5.2-5.5 6.3-7.4 6.7-8.4 3.7-5.2 2.6-4.7 2.5-6.1 1.9-5.4 4.4-14.6 1.5-4 0.8-1.5 1.1-1.6 0.7-0.5 1.5-0.7 0.7-0.8 0.8-1.7 0.7-3.6 0.8-6.2 1.1-16 1.1-24.1 2.2-58.3 0.8-13.1 0.7-4.9 0.7 4.5 0.8 12.7 2.2 57.1 1.1 23.5 1.1 15.4 0.8 5.8 0.7 3.2 0.8 1.3 0.7 0.4 1.5-0.1 0.7 0.1 1.1 1 0.8 1.1 1.5 3.2 4.4 12.2 1.9 4.4 2.5 4.7 2.6 3.3 3.7 3.2 6.7 4.7 6.3 4.1 5.2 2.7 4.5 1.8 4.8 1.4 5.2 0.9 5.1 0.3 5.6 0 6.7-0.6 7-1 8.2-1.5 20.4-4.6 32.9-8.6"/>
<path transform="translate(-182.3,-83.3)" d="M37.1,-10.1l37-10.5 12.2-3.8 10.1-3.4 8.9-3.5 7.7-3.6 7.1-3.8 5.9-3.9 6.7-5.3 6.3-6.1 7-8 8.9-11.2 4.5-6.4 3.3-6.2 3-7.3 4.4-13 1.5-3.6 0.7-1.3 0.8-1 0.7-0.4 0.4-0.1 1.1 0.5 1.1 1.1 0.7 0.4 0.4-0.1 0.4-0.4 0.7-2.7 0.8-5.9 1.1-17.7 1.1-28.3 2.2-73.6 0.8-17.4 0.7-6.6 0.7 6.2 0.8 17 2.2 72.4 1.1 27.7 1.1 17.1 0.8 5.5 0.7 2.3 0.4 0.2 0.4-0.1 1.8-2.5 1.1-1.1 0.4-0.1 0.7 0 0.8 0.5 0.7 1 1.5 2.8 4.4 10.6 3 5.7 1.5 2.2 1.8 2.2 4.5 4 8.9 6.4 7 4.1 3 1.4 3.3 1.3 3.4 1 3.3 0.7 5.9 0.7 7.1 0.1 7.7-0.6 8.9-1.3 10.1-2 12.2-2.8 37-9.6"/>
<path transform="translate(-181.1,-82.8)" d="M37.1,-10.1l34.8-9.8 11.5-3.5 10-3.3 8.5-3.2 7.4-3.2 6.7-3.3 6.3-3.7 4.4-3.1 3.8-2.9 3.7-3.2 3.7-3.6 3.7-4 4-4.8 9.3-11.9 4.5-6.5 2.9-5.4 2.6-5.8 5.2-13.6 1.5-2.8 0.7-0.9 0.8-0.3 0.3 0 0.4 0.1 0.8 0.8 0.7 1.4 1.8 4.8 0.8 1.1 0.4-0.3 0.3-0.9 0.4-2.1 0.7-8 1.2-23.1 1.1-37.5 1.8-76.3 0.8-22.4 0.7-8.6 0.7 8.2 0.8 22 1.8 75.3 1.1 36.9 1.2 22.5 0.7 7.6 0.4 1.9 0.3 0.7 0.4 0.1 0.8-1.5 1.8-5.8 0.7-1.8 1.2-1.5 0.3-0.2 0.8-0.1 0.7 0.5 1.5 2 5.2 10.7 2.6 4.5 2.9 3.8 4.5 4.1 4.4 3.5 4.9 3.4 4 2.6 3.7 2 3.7 1.6 3.7 1.2 3.8 0.9 4.4 0.7 6.3 0.3 6.7-0.3 7.4-0.9 8.5-1.4 10-2.1 11.5-2.7 34.8-9"/>
<path transform="translate(-179.9,-82.2)" d="M37.1,-10.1l37-10.5 12.2-3.8 10.1-3.4 8.5-3.3 7.8-3.6 6.6-3.6 6.3-4.1 6.7-5.3 6.7-6.4 7-8.2 8.2-10.6 4.4-6.5 3-5.2 2.9-6.2 4.9-11.6 1.4-2.7 1.2-1.1 0.3-0.2 0.8 0.1 0.7 0.7 0.8 1.5 1.1 3.7 2.2 10.5 0.4 0.8 0.3 0.2 0.8-4 0.3-5 1.2-25.6 1.1-42.9 1.8-90.6 0.8-27.8 0.7-10.8 0.7 10.4 0.8 27.4 1.8 89.6 1.1 42.3 1.2 25 0.3 4.8 0.8 3.6 0.3-0.4 0.4-1 2.2-11.7 1.1-4.3 0.8-1.9 0.7-1.1 0.8-0.5 0.3 0 0.4 0 0.8 0.5 1.4 1.9 4.9 9 2.9 4.6 3 3.6 4.4 4.1 8.2 6.2 3.3 2.2 3.7 2.2 3.4 1.5 3.3 1.3 3.3 1 3.4 0.7 6.3 0.7 6.6 0 7.8-0.7 8.5-1.2 10.1-2 12.2-2.8 37-9.6"/>
<path transform="translate(-178.7,-81.7)" d="M37.1,-10.1l36.6-10.3 12.3-3.8 10-3.5 8.9-3.4 7.4-3.4 7-3.8 6-3.8 6.6-5.2 6.3-6.1 6-6.7 6.6-8.6 5.6-7.8 3.7-5.9 3.3-6.3 6-13.1 1.4-2.2 0.8-0.6 0.7-0.1 0.8 0.5 0.3 0.6 0.8 1.6 0.7 2.5 1.5 8.2 1.9 14.2 0.3 1.9 0.4-0.4 0.4-2.1 0.7-12.6 0.8-22 1.1-47.9 2.2-119.3 0.4-16.1 0.7-12.8 0.7 12.4 0.4 15.9 2.2 118.1 1.1 47.3 0.8 21.6 0.7 12.2 0.4 1.9 0.4 0.2 0.3-2.1 1.9-15.2 1.5-9 0.7-2.9 0.8-2 1.1-1.7 0.7-0.3 0.8 0.2 1.4 1.4 6 9.8 3.3 4.6 3.7 3.9 5.6 4.8 6.6 5 6 3.5 2.9 1.4 3.4 1.2 3.3 1 3.3 0.6 6 0.7 7 0 7.4-0.7 8.9-1.3 10-2 12.3-2.8 36.6-9.5"/>
<path transform="translate(-177.5,-81.1)" d="M37.1,-10.1l36.6-10.3 11.9-3.7 10-3.4 8.5-3.3 7.5-3.3 7-3.8 5.9-3.7 6-4.5 5.9-5.4 5.5-6 6-7.4 6.3-8.7 4.4-6.8 4.1-7.3 5.9-12.4 1.5-2.4 0.7-0.7 0.8-0.4 0.7 0.2 0.4 0.3 1.1 1.9 0.8 2.5 0.7 3.5 1.5 11.1 1.8 22.2 0.4 0.8 0.4-2 0.3-6.8 1.2-34.7 1.1-51.6 2.2-128 0.4-17.5 0.7-14.1 0.7 13.7 0.4 17.3 2.2 126.8 1.1 51 1.2 34.1 0.3 6.6 0.4 1.8 0.4-1 1.8-23.2 1.5-11.9 1.5-6.8 1.1-2.5 0.4-0.6 0.7-0.5 0.8 0 0.7 0.3 1.5 1.6 5.9 9.2 4.1 5.1 4.4 4.4 6.3 5.3 6 4.1 5.5 3.1 5.9 2.2 6 1.3 5.9 0.5 7-0.1 7.5-0.7 8.5-1.3 10-2 11.9-2.7 36.6-9.5"/>
<path transform="translate(-176.3,-80.6)" d="M37.1,-10.1l36.6-10.3 11.9-3.7 10-3.4 8.5-3.3 7.5-3.3 7-3.8 5.9-3.7 6-4.5 5.5-5.1 5.2-5.5 5.6-6.9 5.9-8.2 5.2-7.9 4.1-7.1 6.6-13.3 1.5-2.1 1.1-0.7 0.4-0.1 0.7 0.3 1.1 1.6 1.2 3.4 0.7 3.7 1.5 11.4 1.8 24.4 0.4 0.7 0.4-2.9 0.3-7.6 1.2-36.2 1.1-51.9 2.2-128.5 0.4-17.6 0.7-14.1 0.7 13.7 0.4 17.4 2.2 127.3 1.1 51.3 1.2 35.6 0.3 7.4 0.4 2.7 0.4-0.9 1.8-25.4 1.5-12.2 0.7-4.1 1.2-4 1.1-2.3 0.7-0.6 0.4-0.1 0.4-0.1 0.7 0.2 1.5 1.3 6.6 9.7 4.1 4.9 5.2 5.1 5.9 5 5.6 3.8 5.2 2.8 5.5 2.1 6 1.3 5.9 0.5 7-0.1 7.5-0.7 8.5-1.3 10-2 11.9-2.7 36.6-9.5"/>
<path transform="translate(-175.1,-80.1)" d="M37.1,-10.1l36.6-10.3 11.9-3.7 10-3.4 8.5-3.3 7.5-3.3 7-3.8 5.9-3.7 6-4.5 5.5-5.1 5.2-5.6 5.2-6.4 5.5-7.8 5.2-7.9 4.5-7.7 6.3-12.3 1.5-2.4 1.4-1.4 0.8-0.2 0.4 0.1 0.3 0.2 0.8 0.9 0.7 1.5 0.8 2.4 1.4 7.7 1.9 15.4 0.7 4.5 0.4-0.8 0.4-2.7 0.3-6.2 1.2-31.2 1.1-48.8 2.2-120.7 0.4-16.3 0.7-13 0.7 12.6 0.4 16.1 2.2 119.5 1.1 48.2 1.2 30.6 0.3 5.9 0.4 2.6 0.4 0.6 0.7-4.9 1.9-16.4 1.4-8.5 0.8-2.8 0.7-1.9 1.1-1.7 0.4-0.3 0.8-0.2 0.7 0.2 0.7 0.4 1.5 1.6 6.3 8.9 4.5 5.3 5.2 5.1 5.5 4.7 5.2 3.7 5.2 2.8 5.5 2 6 1.4 5.9 0.5 7-0.1 7.5-0.7 8.5-1.3 10-2 11.9-2.7 36.6-9.5"/>
<path transform="translate(-173.9,-79.5)" d="M37.1,-10.1l36.6-10.3 11.9-3.7 10-3.4 8.5-3.3 7.5-3.3 7-3.8 5.9-3.7 6-4.5 5.1-4.8 5.2-5.5 5.2-6.5 5.2-7.2 5.2-8 4.8-8.4 6.7-12.8 1.5-2.2 1.4-1.5 0.8-0.2 0.7 0.2 0.8 0.7 1.1 2.3 1.1 3.7 2.6 12.5 0.4 0.6 0.3-0.1 0.8-5.3 0.3-5.7 1.2-27.6 1.1-44.2 1.8-92.5 0.8-28.5 0.7-11.1 0.7 10.7 0.8 28.1 1.8 91.5 1.1 43.6 1.2 27 0.3 5.5 0.8 4.9 0.3-0.1 0.4-0.8 2.6-14 1.1-4.3 1.1-2.8 0.8-1.1 0.7-0.6 0.8-0.2 0.7 0.2 0.7 0.4 1.5 1.5 6.7 9.2 4.8 5.7 5.2 5.2 5.2 4.5 5.2 3.6 5.2 2.8 5.1 1.9 6 1.3 5.9 0.6 7-0.1 7.5-0.7 8.5-1.3 10-2 11.9-2.7 36.6-9.5"/>
<path transform="translate(-172.7,-79)" d="M37.1,-10.1l33.3-9.4 20.8-6.5 8.5-3 7.4-3.1 6.3-2.9 5.9-3.3 6.7-4.4 6.3-5 5.9-5.9 6-7 5.5-7.6 6-9.1 5.1-9 6.7-12.8 1.1-1.9 1.5-1.9 0.7-0.6 0.8-0.4 0.7 0.1 1.1 0.8 1.2 1.8 2.5 6.9 0.4 0.5 0.4 0.1 0.7-2.1 0.8-6.6 1.1-21 1.1-34.4 2.2-93.4 0.8-23.3 0.7-9 0.7 8.6 0.8 22.9 2.2 92.2 1.1 33.8 1.1 20.4 0.8 6.2 0.3 1.2 0.4 0.5 0.8-1 2.5-8.3 1.2-2.4 1.1-1.5 0.7-0.4 0.8 0 0.7 0.2 1.5 1.1 1.1 1.3 6.7 9.2 5.1 6.2 6 5.9 5.5 4.6 3 2.1 3 1.7 2.9 1.5 3 1.1 3 0.9 3.3 0.8 6.7 0.8 5.9 0 6.3-0.4 7.4-1 8.5-1.5 9.3-2 11.5-2.7 33.3-8.7"/>
<path transform="translate(-171.5,-78.4)" d="M37.1,-10.1l35.2-9.9 11.8-3.6 10-3.4 8.6-3.2 7.4-3.2 7-3.6 5.9-3.6 6-4.3 5.9-5.3 5.6-5.9 5.1-6.5 5.2-7.4 5.2-8.3 4.8-8.6 6.7-12.8 2.6-4 1.5-1.2 0.7-0.2 0.8 0.1 1.1 0.7 2.2 2.4 0.7 0.1 0.4-0.5 0.8-2.5 0.7-5.5 1.1-16.1 1.5-38.4 2.2-77.7 0.8-18.4 0.7-7 0.7 6.6 0.8 18 2.2 76.5 1.5 37.6 1.1 15.5 0.7 5.1 0.8 2.1 0.4 0.3 0.7-0.5 2.2-3.6 1.1-1.4 0.8-0.4 0.7-0.2 1.5 0.4 1.5 1.3 1.1 1.3 6.7 9.2 4.8 6 5.2 5.4 5.2 4.7 5.1 3.7 5.6 2.9 3 1.1 2.9 0.9 6 1.1 5.9 0.4 7-0.2 7.4-0.8 8.6-1.3 10-2.1 11.8-2.8 35.2-9.1"/>
<path transform="translate(-170.3,-77.9)" d="M37.1,-10.1l36.6-10.3 11.9-3.7 10-3.4 8.9-3.5 7.8-3.5 6.7-3.6 5.9-3.8 4.8-3.7 4.8-4.2 4.5-4.7 4.4-5.3 6-8.2 5.9-9.4 4.4-7.9 7.4-14.5 2.3-3.8 1.4-1.9 1.5-1.3 1.1-0.3 2.3-0.1 0.7-0.5 0.4-0.5 1.1-3.6 0.7-4.9 0.8-7.9 0.7-11.4 1.5-34 2.2-63.3 0.8-14.1 0.7-5.4 0.7 5 0.8 13.7 2.2 62.1 1.5 33.2 0.7 11 0.8 7.5 0.7 4.5 0.4 1.4 0.7 1.6 0.4 0.3 0.7 0.1 2.3-1.1 1.1-0.3 1.5 0.5 1.4 1.1 2.3 2.6 7.4 10.5 4.4 5.4 5.9 6.3 3 2.6 3 2.4 4.4 2.9 4.5 2.2 4.8 1.7 4.8 1.1 5.9 0.6 6.7 0 7.8-0.7 8.9-1.4 10-2 11.9-2.7 36.6-9.5"/>
<path transform="translate(-169.2,-77.3)" d="M37.1,-10.1l30.7-8.6 19.7-6 8.1-2.8 7.1-2.7 5.9-2.5 5.9-2.9 5.2-2.9 4.8-3.1 4.8-3.7 4.5-3.9 4.4-4.5 3.7-4.3 4.1-5.3 4.1-6 4.1-6.6 4-7.2 11.2-21.5 2.2-3.2 3.3-3.1 1.1-1.6 0.8-1.9 0.7-2.9 0.8-4.6 0.7-6.8 1.1-14.9 1.1-21.4 2.6-59 0.8-10.9 0.7-4.1 0.7 3.7 0.8 10.5 2.6 57.6 1.1 20.8 1.1 14.3 0.7 6.4 0.8 4.2 0.7 2.5 0.8 1.5 1.1 1 3.3 1.3 2.2 2 2.3 2.8 5.5 8.2 3.4 4.5 4 5 4.1 4.4 4.1 3.7 4.1 3.2 3.7 2.3 4.4 2.1 4.5 1.5 4.8 1 4.8 0.5 5.2 0.1 5.9-0.3 5.9-0.7 7.1-1.1 8.1-1.6 19.7-4.6 30.7-8"/>
<path transform="translate(-168,-76.8)" d="M37.1,-10.1l30-8.4 19.6-6 14.8-5.3 6.3-2.6 5.2-2.5 5.2-2.8 4.8-2.9 4.5-3.2 4.4-3.7 4.1-3.9 3.7-4 3.7-4.5 4.1-5.7 5.2-8.1 5.2-9.1 11.5-23 5.5-8.9 1.1-2.6 0.8-2.6 1.5-8.6 1.1-10.9 1.5-21.7 2.9-54.2 0.8-8.3 0.7-3.1 0.7 2.7 0.8 7.9 2.9 52.6 1.5 20.9 1.1 10.3 0.8 4.6 0.7 3.2 0.8 2.2 1.1 2 4.1 4.2 1.4 1.7 8.2 12.1 3.3 4.6 5.2 6.4 5.2 5.3 4.1 3.4 3.7 2.6 3.7 2 4.1 1.7 4.4 1.3 4.5 0.7 4.8 0.4 5.2 0 5.2-0.3 6.3-0.8 6.6-1.1 8.2-1.6 19.6-4.6 30-7.9"/>
<path transform="translate(-166.8,-76.2)" d="M37.1,-10.1l28.9-8.1 19.2-5.8 14.9-5.2 6.3-2.6 5.2-2.3 5.1-2.7 4.9-2.9 4.4-3 4.5-3.5 4-3.7 3.7-3.9 3.7-4.3 3.4-4.4 3.3-4.9 3.3-5.3 6.7-12 10.8-22.3 4.4-8.6 1.1-2.6 1.1-3.5 1.5-7.1 1.5-11.7 1.5-17.8 3.3-49 0.8-6.4 0.7-2.4 0.7 2 0.8 6 3.3 47.2 1.5 17 1.5 10.9 1.5 6.3 1.1 2.9 1.1 2 4.4 6.2 7.1 11 3.7 5.5 3.3 4.4 3.4 4 3.3 3.5 3.3 3 3.4 2.7 3.7 2.3 3.7 1.9 4 1.5 4.5 1.1 4.4 0.6 4.9 0.2 5.1-0.1 5.2-0.4 6.3-0.8 14.9-2.8 19.2-4.6 28.9-7.6"/>
<path transform="translate(-165.6,-75.7)" d="M37.1,-10.1l28.1-7.8 18.9-5.7 14.5-5 6.3-2.5 5.2-2.3 5.2-2.6 4.8-2.8 4.4-2.9 4.1-3 3.7-3.1 3.7-3.6 3.7-4.1 3.7-4.6 4.1-5.8 3.7-5.8 3.7-6.5 3.7-7 4.5-9.2 9.2-20.4 1.5-3.5 1.5-4.4 1.8-8.2 1.5-10.3 1.5-14.7 3.3-40.6 1.2-8.5 0.7-1.9 0.7 1.5 1.2 7.9 3.3 38.8 1.5 13.9 1.5 9.5 0.7 3.4 1.1 3.8 1.5 3.6 1.5 2.7 9.2 15.4 4.5 6.8 3.7 5 3.7 4.5 3.7 3.8 4.1 3.6 3.7 2.6 3.7 2.1 3.7 1.5 3.7 1.2 4.1 0.8 4.4 0.5 4.8 0.1 5.2-0.2 5.2-0.5 6.3-0.9 14.5-2.8 18.9-4.5 28.1-7.4"/>
<path transform="translate(-164.4,-75.2)" d="M37.1,-10.1l28.1-7.8 18.6-5.6 14-4.8 11.5-4.8 5.2-2.5 4.8-2.7 4.5-2.8 3.7-2.7 4.1-3.4 3.7-3.5 3.7-4 2.9-3.5 4.1-5.6 3.7-5.7 4.1-7 4.1-7.7 4.8-10.1 5.2-11.8 4.4-10.7 2.3-6.4 1.8-7.4 1.9-11 1.8-15.9 3-30.4 0.7-5.8 0.8-3.8 0.7-1.5 0.7 1.1 0.8 3.4 0.7 5.4 3 28.8 1.8 14.9 1.9 10 1.8 6.4 2.3 5.2 4.4 8.3 5.2 9 4.8 7.5 4.1 5.5 4.1 4.8 3.7 3.7 4.1 3.3 2.9 2 3.7 2 3.7 1.5 4.1 1.1 3.7 0.7 4.5 0.5 4.8 0 5.2-0.2 5.2-0.6 6.3-0.9 14-2.8 18.6-4.4 28.1-7.4"/>
<path transform="translate(-163.2,-74.6)" d="M37.1,-10.1l27.4-7.6 18.5-5.6 14.1-4.8 11.5-4.6 5.2-2.5 4.8-2.7 4.4-2.7 3.7-2.7 3.8-2.9 3.7-3.4 3.3-3.4 3.3-3.9 4.1-5.4 4.1-6.1 4.1-7 4-7.7 4.1-8.6 4.5-10.1 4.4-11 3-8.1 2.6-9.2 1.8-9.3 1.9-12.9 3.7-31.2 0.7-4.6 0.8-3 0.7-1.2 0.7 0.8 0.8 2.6 0.7 4.2 3.7 29.2 1.9 11.9 1.8 8.3 1.1 3.8 1.5 4 3 6.5 4.4 8.5 4.5 7.8 4.1 6.3 4 5.6 4.1 4.7 4.1 4 4.1 3.2 3.3 2 3.3 1.7 3.7 1.3 3.8 1 3.7 0.6 4.4 0.4 4.8 0 5.2-0.3 11.5-1.5 14.1-2.8 18.5-4.5 27.4-7.2"/>
<path transform="translate(-162,-74.1)" d="M37.1,-10.1l27-7.5 18.5-5.6 13.8-4.6 11.4-4.6 5.2-2.5 4.5-2.3 4.4-2.7 4.1-2.8 3.7-2.9 3.3-3 3.8-3.7 2.9-3.3 4.1-5.2 4.1-6 4-6.8 3.8-7 4-8.4 4.1-9.3 4.1-10 3.7-10.1 3-9.6 2.2-9.6 1.8-10.8 4.5-31.1 0.7-3.6 0.8-2.4 0.7-1 0.7 0.6 0.8 2 0.7 3.2 4.5 28.7 1.8 9.8 2.2 8.4 3 8 3.7 8.1 4.1 7.8 4.1 7.1 4 6.2 3.8 5 4 4.6 4.1 3.8 4.1 3 2.9 1.7 3.8 1.7 3.3 1.2 3.7 0.8 4.1 0.6 4.4 0.3 4.5 0 5.2-0.3 11.4-1.6 13.8-2.8 18.5-4.5 27-7.1"/>
<path transform="translate(-160.8,-73.5)" d="M37.1,-10.1l26.6-7.4 18.2-5.4 13.7-4.6 11.5-4.6 5.2-2.4 4.4-2.3 4.5-2.7 4.1-2.7 3.7-2.8 3.3-2.9 3.3-3.2 3.4-3.7 3.7-4.6 4.1-5.8 3.7-6 3.7-6.8 3.7-7.5 3.7-8.2 3.3-8.1 3.7-9.6 3.7-10.8 3-10.7 2.6-12.4 3.7-22.6 1.5-8 1.1-4 0.4-0.9 0.7-0.8 0.7 0.4 0.4 0.7 1.1 3.4 1.5 7.2 3.7 20.6 2.6 11 3 9.1 3.7 8.8 3.7 7.6 3.3 6.3 3.7 6.2 3.7 5.5 3.7 4.8 3.7 4 4.1 3.6 3.7 2.6 3.4 1.9 3.3 1.4 3.3 1.1 3.7 0.8 4.1 0.5 4.5 0.2 4.4 0 5.2-0.4 11.5-1.7 13.7-2.8 18.2-4.4 26.6-7"/>
<path transform="translate(-159.6,-73)" d="M37.1,-10.1l25.9-7.2 18.5-5.5 13.7-4.6 11.2-4.4 9.6-4.6 4.4-2.6 4.1-2.7 3.7-2.7 3.4-2.8 3.3-3.2 3.3-3.5 3.7-4.6 3.4-4.6 3.3-5.1 3.3-5.8 3.4-6.5 3.3-7 3.7-8.6 3.4-8.4 5.1-14.5 3.4-11.2 3.3-14.3 4.8-25.2 1.5-5.5 0.8-1.5 0.7-0.7 0.7 0.3 0.8 1.1 1.5 4.7 4.8 22.6 1.5 6.1 1.8 6.4 3.4 9.3 5.1 11.8 3.4 6.6 3.7 6.6 3.3 5.2 3.4 4.6 3.3 4 3.3 3.4 3.4 2.8 3.7 2.5 3.3 1.8 3.3 1.3 3.4 1 3.7 0.8 4.1 0.5 4.4 0.1 4.4-0.1 5.2-0.4 11.2-1.6 13.7-2.9 18.5-4.5 25.9-6.8"/>
<path transform="translate(-158.4,-72.4)" d="M37.1,-10.1l25.9-7.2 18.2-5.4 13.7-4.6 10.7-4.1 9.7-4.6 4.4-2.5 4.1-2.7 3.7-2.7 3.3-2.7 3.4-3.1 3.3-3.4 3.7-4.4 3-4 3.3-5.1 3-4.9 2.9-5.5 3.4-6.9 6.3-14.7 4.8-12.9 4.4-13.6 3.7-13.8 6.3-28.5 1.5-4.6 0.8-1.3 0.7-0.6 0.7 0.2 0.8 0.9 1.5 3.8 6.3 25.1 3.7 11.8 4.4 11.2 4.8 10.3 3 5.6 3.3 5.7 3.4 5 2.9 3.9 3 3.4 3.3 3.2 3 2.4 3.7 2.4 3.3 1.7 3.4 1.3 3.3 0.9 3.7 0.7 4.1 0.4 4.4 0.1 4.5-0.1 5.2-0.5 10.7-1.6 13.7-2.9 18.2-4.4 25.9-6.8"/>
<path transform="translate(-157.2,-71.9)" d="M37.1,-10.1l25.9-7.2 17.8-5.3 13.3-4.4 11.2-4.3 9.6-4.5 4.4-2.5 3.7-2.4 3.7-2.6 3.8-3 3.3-3 3-3 2.9-3.4 3.4-4.3 2.9-4.3 3-4.8 2.9-5.3 3-5.9 5.9-13.3 6.3-16.7 5.2-16 3.4-12.1 4.8-20.2 1.8-6.8 1.5-3.8 0.8-1.1 0.7-0.5 0.7 0.1 0.8 0.7 1.5 3 1.8 5.8 4.8 17.6 3.4 10.3 5.2 13.2 2.9 6.6 3.4 6.7 2.9 5.3 3 4.8 3 4.3 2.9 3.7 3 3.1 2.9 2.7 3.4 2.5 2.9 1.8 3 1.5 3.3 1.2 3.8 1 3.7 0.6 3.7 0.3 4.4 0.1 4.8-0.2 4.8-0.4 11.2-1.7 13.3-2.8 17.8-4.4 25.9-6.8"/>
<path transform="translate(-156.1,-71.3)" d="M37.1,-10.1l25.2-7 18.1-5.4 13.7-4.5 10.8-4.1 9.6-4.5 4.5-2.5 4-2.6 3.7-2.6 3.4-2.7 3.3-3 3-3 3.3-3.8 3-3.8 5.5-8.4 3-5.2 3-5.8 5.2-11.5 5.5-14.3 5.6-16.5 4.1-13.9 5.1-19.8 1.9-6.4 1.1-3.1 1.1-2.3 0.8-0.9 0.7-0.5 0.7 0.1 0.8 0.5 1.1 1.7 1.1 2.5 1.9 5.4 5.1 17 4.1 11.7 5.6 13.5 5.5 11.3 5.2 8.7 3 4.2 3 3.6 2.6 2.7 2.9 2.7 3 2.2 3.3 2 3 1.4 3.3 1.2 3.4 0.9 3.7 0.6 4 0.4 4.5 0 4.4-0.2 5.2-0.5 10.8-1.6 13.7-2.9 18.1-4.5 25.2-6.6"/>
<path transform="translate(-154.9,-70.8)" d="M37.1,-10.1l25.2-7 18.1-5.4 13.7-4.5 10.8-4.1 9.2-4.3 8.2-4.8 3.7-2.5 3.7-3 3.3-2.9 3-3 3-3.3 2.9-3.7 3-4.2 2.6-4 5.2-9.4 5.2-11.2 5.5-14 5.2-15 4.1-13.1 6.3-22.4 2.2-7.2 1.9-4.4 1.1-1.7 1.1-0.8 0.7 0 0.4 0.2 1.1 1.1 1.9 3.4 2.2 6 6.3 18.9 4.1 11 5.2 12.2 5.5 11 2.6 4.4 2.6 4 2.6 3.5 2.6 3 2.6 2.7 3 2.6 2.9 2.1 3 1.7 3 1.3 3.3 1.2 3.7 0.9 3.7 0.6 3.7 0.3 4.5 0 9.2-0.7 10.8-1.6 13.7-2.9 18.1-4.5 25.2-6.6"/>
<path transform="translate(-153.7,-70.3)" d="M37.1,-10.1l25.2-7 17.4-5.1 13.7-4.5 10.7-4.1 9.3-4.3 8.2-4.6 3.7-2.5 3.7-2.9 3.3-2.8 3-2.9 2.9-3.3 3-3.6 5.2-7.4 4.8-8.4 5.2-10.7 5.2-12.7 5.2-14.6 4-12.7 7.5-25 2.2-6.8 1.1-2.9 1.5-3 1.1-1.5 1.1-0.7 1.1 0.1 1.1 0.9 1.5 2.2 1.1 2.3 2.2 5.6 7.5 21 4 10.5 5.2 11.8 5.2 9.9 2.6 4.2 2.6 3.7 4.8 5.8 2.6 2.5 2.6 2.1 3 2 2.9 1.6 3 1.3 3.3 1.1 3.7 0.9 3.7 0.5 4.1 0.2 4.1 0 9.3-0.8 10.7-1.7 13.7-2.9 17.4-4.3 25.2-6.6"/>
<path transform="translate(-152.5,-69.7)" d="M37.1,-10.1l25.2-7 17.4-5.1 13.7-4.5 10.7-4.1 9.3-4.3 8.2-4.6 3.7-2.5 3.7-2.9 3.3-2.9 3-2.8 5.5-6.4 5.2-7.4 4.8-8.3 4.9-9.9 4.8-11.6 4.8-13.3 4.8-14.8 7.4-24.3 2.6-7.6 1.5-3.5 1.5-2.7 1.1-1.3 1.1-0.6 1.1 0 1.1 0.7 1.5 1.9 1.5 2.7 2.6 6.2 7.4 20.3 4.8 12.2 4.8 10.7 4.8 9 4.9 7.3 2.6 3.2 2.2 2.5 2.6 2.4 2.6 2.1 2.6 1.8 2.9 1.6 3 1.3 3.3 1.1 3.7 0.9 3.7 0.5 4.1 0.2 4.1 0 9.3-0.8 10.7-1.7 13.7-2.9 17.4-4.3 25.2-6.6"/>
<path transform="translate(-151.3,-69.2)" d="M37.1,-10.1l25.2-7 17.4-5.1 12.9-4.3 11.2-4.2 9.6-4.4 8.2-4.6 3.7-2.5 3.3-2.6 3.3-2.8 3-2.9 5.6-6.3 5.1-7.3 4.9-8.2 4.4-9 4.5-10.6 4.8-13.1 4.4-13.4 7.8-25 3-8.5 1.5-3.6 1.4-2.8 1.5-2 1.5-0.9 0.7-0.1 0.8 0.2 1.5 1.2 1.4 2 1.5 2.8 3 6.9 7.8 20.7 4.4 11.1 4.8 10.5 4.5 8.1 4.4 6.7 2.3 2.8 2.6 2.8 2.5 2.4 2.6 2.1 3 1.9 2.6 1.4 3 1.3 3.3 1 3.3 0.8 3.7 0.5 3.7 0.2 4.5 0 9.6-0.8 11.1-1.8 13-2.8 17.4-4.3 25.2-6.6"/>
<path transform="translate(-150.1,-68.6)" d="M37.1,-10.1l25.2-7 17-5 13.3-4.4 10.8-4 9.6-4.4 7.8-4.3 3.7-2.5 3.7-2.8 3.4-2.8 2.9-2.8 5.2-5.8 5.2-7.1 4.8-8 4.5-8.9 4.4-10.4 4.5-11.9 4-12.1 8.2-25.9 3.3-9.5 1.9-4.4 1.8-3.3 1.5-1.8 1.5-0.9 1.5 0.1 1.5 1 1.8 2.3 1.9 3.4 3.3 7.7 8.2 21.5 4 9.9 4.5 9.5 4.4 8 4.5 6.5 2.2 2.7 2.6 2.7 2.6 2.3 2.6 2 2.2 1.4 3 1.6 2.9 1.2 3.4 1 3.7 0.8 3.7 0.4 7.8 0.2 9.6-0.9 10.7-1.7 13.4-2.9 17-4.2 25.2-6.6"/>
<path transform="translate(-148.9,-68.1)" d="M37.1,-10.1l25.2-7 17-5 13.3-4.4 10.8-4 9.3-4.2 8.1-4.5 3.7-2.5 3.7-2.8 3.4-2.8 2.9-2.8 5.2-5.8 5.2-7.1 4.5-7.4 4.4-8.8 4.4-10.3 4.5-12 4.1-12.1 7.8-24.5 3.7-10.4 1.8-4.3 1.9-3.4 1.8-2.2 1.5-0.8 1.5 0 0.7 0.3 1.1 0.9 1.9 2.4 1.8 3.2 3.7 8.5 7.8 20.3 4.1 9.9 4.5 9.5 4.4 8 4.4 6.4 4.5 5 2.6 2.3 2.6 2 2.2 1.4 3 1.6 2.9 1.2 3.4 1 3.7 0.8 3.7 0.4 4.1 0.2 4 0 9.3-0.9 10.7-1.7 13.4-2.9 17-4.2 25.2-6.6"/>
<path transform="translate(-147.7,-67.5)" d="M37.1,-10.1l25.2-7 17-5 13.3-4.4 10.8-4 9.3-4.2 8.1-4.5 3.7-2.5 3.7-2.8 3.4-2.8 2.9-2.8 5.2-5.8 4.8-6.6 4.5-7.3 4.4-8.7 4.5-10.3 4.1-10.8 4-12.1 8.2-25.5 3.7-10.3 1.8-4.2 1.9-3.4 1.8-2.3 1.2-0.8 0.7-0.3 0.7-0.1 1.2 0.2 1.8 1.3 1.9 2.4 1.8 3.2 3.7 8.3 8.2 21.1 4 9.9 4.1 8.6 4.5 7.9 4.4 6.3 4.5 4.9 2.6 2.3 2.2 1.7 2.2 1.4 3 1.6 2.9 1.2 3.4 1 3.7 0.8 3.7 0.4 4.1 0.2 4 0 9.3-0.9 10.7-1.7 13.4-2.9 17-4.2 25.2-6.6"/>
<path transform="translate(-146.5,-67)" d="M37.1,-10.1l25.2-7 17-5 13.3-4.4 10.8-4 9.3-4.2 8.1-4.5 3.7-2.5 3.7-2.8 3.4-2.8 2.9-2.8 5.2-5.8 4.8-6.6 4.5-7.3 4.4-8.8 4.1-9.4 4.1-10.8 4.1-12 8.1-25.4 3.7-10.3 2.2-5 1.9-3.2 1.8-2.2 1.2-0.8 0.7-0.3 0.7-0.1 1.2 0.2 1.8 1.2 1.9 2.2 2.2 3.8 3.7 8.3 8.1 21 4.1 9.8 4.1 8.6 4.1 7.2 4.4 6.4 4.5 4.9 2.6 2.3 2.2 1.7 2.2 1.4 3 1.5 2.9 1.3 3.4 1 3.7 0.8 3.7 0.4 4.1 0.2 4 0 9.3-0.9 10.7-1.7 13.4-2.9 17-4.2 25.2-6.6"/>
<path transform="translate(-145.3,-66.4)" d="M37.1,-10.1l25.2-7 17-5 13.3-4.4 10.8-4 9.3-4.2 8.1-4.5 7.1-5 3.3-2.8 3-2.8 5.1-5.7 4.9-6.5 4.4-7.2 4.1-7.8 4.4-10.2 4.1-10.7 4.1-11.9 8.1-25.4 3.7-10.3 2.3-5.1 2.2-3.8 1.8-2.1 1.9-1.1 0.7-0.1 1.2 0.2 1.8 1.1 2.2 2.6 2.3 3.9 3.7 8.3 8.1 21 4.1 9.7 4.1 8.5 4.4 7.7 4.1 5.7 4.4 4.8 2.3 2 2.6 1.9 2.5 1.6 2.6 1.3 3 1.2 3.3 1 3.4 0.7 3.7 0.4 4.1 0.2 4 0 9.3-0.9 10.7-1.7 13.4-2.9 17-4.2 25.2-6.6"/>
<path transform="translate(-144.1,-65.9)" d="M37.1,-10.1l25.2-7 17-5 13.3-4.4 10.8-4 9.3-4.2 8.1-4.5 7.1-5 3.3-2.8 3-2.8 5.1-5.7 4.9-6.5 4.4-7.2 4.1-7.9 4.4-10.1 4.1-10.7 4.1-12 7.8-24.3 4-11.3 2.3-5 2.2-3.7 1.8-2.1 1.9-1.1 0.7-0.1 1.2 0.2 1.8 1.1 2.2 2.5 2.3 3.8 4 9.1 7.8 20.1 4.1 9.7 4.1 8.6 4.4 7.7 4.1 5.7 4.4 4.8 2.3 2 2.6 1.9 2.5 1.6 2.6 1.3 3 1.2 3.3 1 3.4 0.7 3.7 0.4 4.1 0.2 4 0 9.3-0.9 10.7-1.7 13.4-2.9 17-4.2 25.2-6.6"/>
<path transform="translate(-142.9,-65.4)" d="M37.1,-10.1l25.2-7 17-5 13.3-4.4 10.8-4 9.3-4.2 8.1-4.5 7.1-5 3.3-2.8 3-2.8 5.1-5.7 4.9-6.5 4.4-7.2 4.1-7.9 4.4-10.1 4.1-10.8 3.7-10.8 8.2-25.4 4-11.3 2.3-4.9 2.2-3.8 1.8-2 1.9-1.1 0.7-0.1 1.2 0.2 1.8 1 2.2 2.6 2.3 3.7 4 9.1 8.2 21 3.7 8.8 4.1 8.6 4.4 7.7 4.1 5.7 4.4 4.8 2.3 2 2.6 1.9 2.5 1.6 2.6 1.3 3 1.2 3.3 1 3.4 0.7 3.7 0.4 4.1 0.2 4 0 9.3-0.9 10.7-1.7 13.4-2.9 17-4.2 25.2-6.6"/>
<path transform="translate(-141.8,-64.8)" d="M37.1,-10.1l25.2-7 17-5 13.3-4.4 10.8-4 9.3-4.2 8.1-4.5 7.1-5 3.3-2.8 3-2.8 5.1-5.7 4.9-6.5 4.4-7.2 4.1-7.9 4.4-10.1 4.1-10.7 4.1-12 7.8-24.3 4-11.3 2.3-5 2.2-3.7 1.8-2.1 1.9-1.1 0.7-0.1 1.2 0.2 1.8 1.1 2.2 2.5 2.3 3.8 4 9.1 7.8 20.1 4.1 9.7 4.1 8.6 4.4 7.7 4.1 5.7 4.4 4.8 2.3 2 2.6 1.9 2.5 1.6 2.6 1.3 3 1.2 3.3 1 3.4 0.7 3.7 0.4 4.1 0.2 4 0 9.3-0.9 10.7-1.7 13.4-2.9 17-4.2 25.2-6.6"/>
<path transform="translate(-140.6,-64.3)" d="M37.1,-10.1l25.2-7 17-5 13.3-4.4 10.8-4 9.6-4.4 7.8-4.3 7.1-5 3.3-2.8 3-2.8 5.1-5.7 4.9-6.5 4.4-7.2 4.1-7.8 4.4-10.2 4.1-10.7 4.1-11.9 8.1-25.4 3.7-10.3 2.3-5.1 2.2-3.8 1.8-2.1 1.9-1.1 0.7-0.1 1.2 0.2 1.8 1.1 2.2 2.6 2.3 3.9 3.7 8.3 8.1 21 4.1 9.7 4.1 8.5 4.4 7.7 4.1 5.7 4.4 4.8 2.3 2 2.6 1.9 2.5 1.6 2.6 1.3 3 1.2 3.3 1 3.4 0.7 3.7 0.4 7.8 0.2 9.6-0.9 10.7-1.7 13.4-2.9 17-4.2 25.2-6.6"/>
<path transform="translate(-139.4,-63.7)" d="M37.1,-10.1l25.2-7 17-5 13.3-4.4 10.8-4 9.6-4.4 7.8-4.3 3.7-2.5 3.7-2.8 3.4-2.8 2.9-2.8 5.2-5.8 4.8-6.6 4.5-7.3 4.4-8.8 4.1-9.4 4.1-10.8 4.1-12 8.1-25.4 3.7-10.3 2.2-5 1.9-3.2 1.8-2.2 1.2-0.8 0.7-0.3 0.7-0.1 1.2 0.2 1.8 1.2 1.9 2.2 2.2 3.8 3.7 8.3 8.1 21 4.1 9.8 4.1 8.6 4.1 7.2 4.4 6.4 4.5 4.9 2.6 2.3 2.2 1.7 2.2 1.4 3 1.5 2.9 1.3 3.4 1 3.7 0.8 3.7 0.4 7.8 0.2 9.6-0.9 10.7-1.7 13.4-2.9 17-4.2 25.2-6.6"/>
<path transform="translate(-138.2,-63.2)" d="M37.1,-10.1l25.2-7 16.6-4.9 13.7-4.5 10.8-4 9.3-4.2 8.1-4.5 3.7-2.5 3.7-2.8 3.4-2.8 2.9-2.8 5.2-5.8 4.8-6.6 4.5-7.3 4.4-8.7 4.5-10.3 4.1-10.8 4-12.1 8.2-25.5 3.7-10.3 1.8-4.2 1.9-3.4 1.8-2.3 1.2-0.8 0.7-0.3 0.7-0.1 1.2 0.2 1.8 1.3 1.9 2.4 1.8 3.2 3.7 8.3 8.2 21.1 4 9.9 4.1 8.6 4.5 7.9 4.4 6.3 4.5 4.9 2.6 2.3 2.2 1.7 2.2 1.4 3 1.6 2.9 1.2 3.4 1 3.7 0.8 3.7 0.4 4.1 0.2 4 0 9.3-0.9 10.7-1.7 13.8-3 16.6-4.1 25.2-6.6"/>
<path transform="translate(-137,-62.6)" d="M37.1,-10.1l25.2-7 16.6-4.9 13.7-4.5 10.8-4 9.3-4.2 8.1-4.5 3.7-2.5 3.7-2.8 3.4-2.8 2.9-2.8 5.2-5.8 5.2-7.1 4.5-7.4 4.4-8.8 4.4-10.3 4.5-12 4.1-12.1 7.8-24.5 3.7-10.4 1.8-4.3 1.9-3.4 1.8-2.2 1.5-0.8 1.5 0 0.7 0.3 1.1 0.9 1.9 2.4 1.8 3.2 3.7 8.5 7.8 20.3 4.1 9.9 4.5 9.5 4.4 8 4.4 6.4 4.5 5 2.6 2.3 2.6 2 2.2 1.4 3 1.6 2.9 1.2 3.4 1 3.7 0.8 3.7 0.4 4.1 0.2 4 0 9.3-0.9 10.7-1.7 13.8-3 16.6-4.1 25.2-6.6"/>
<path transform="translate(-135.8,-62.1)" d="M37.1,-10.1l25.2-7 16.6-4.9 13.7-4.5 10.8-4 9.3-4.2 8.1-4.5 3.7-2.5 3.7-2.8 3.4-2.8 2.9-2.8 5.2-5.8 5.2-7.1 4.8-8 4.5-8.9 4.4-10.4 4.5-11.9 4-12.1 8.2-25.8 3.3-9.6 1.9-4.4 1.8-3.4 1.5-1.7 1.5-0.9 1.5 0.1 1.5 0.9 1.8 2.4 1.9 3.4 3.3 7.7 8.2 21.5 4 9.9 4.5 9.5 4.4 8 4.5 6.5 2.2 2.7 2.6 2.7 2.6 2.3 2.6 2 2.2 1.4 3 1.6 2.9 1.2 3.4 1 3.7 0.8 3.7 0.4 4.1 0.2 4 0 9.3-0.9 10.7-1.7 13.8-3 16.6-4.1 25.2-6.6"/>
<path transform="translate(-134.6,-61.5)" d="M37.1,-10.1l25.2-7 17.4-5.1 13.3-4.4 10.8-4.1 9.6-4.4 8.2-4.6 3.7-2.5 3.3-2.6 3.3-2.8 3-2.9 5.6-6.3 5.1-7.3 4.9-8.2 4.4-9 4.5-10.6 4.8-13.1 4.4-13.4 7.8-25 3-8.5 1.5-3.6 1.4-2.8 1.5-2 1.5-0.9 0.7-0.1 0.8 0.2 1.5 1.2 1.4 2 1.5 2.8 3 6.9 7.8 20.8 4.4 11 4.8 10.5 4.5 8.1 4.4 6.7 2.3 2.8 2.6 2.8 2.5 2.4 2.6 2.1 3 1.9 2.6 1.4 3 1.3 3.3 1 3.3 0.8 3.7 0.5 3.7 0.2 4.5 0 9.6-0.8 10.8-1.7 13.3-2.9 17.4-4.3 25.2-6.6"/>
<path transform="translate(-133.4,-61)" d="M37.1,-10.1l25.2-7 17.4-5.1 13.7-4.5 10.7-4.1 9.3-4.3 8.2-4.6 3.7-2.5 3.7-2.9 3.3-2.9 3-2.8 5.5-6.4 5.2-7.4 4.8-8.3 4.9-9.9 4.8-11.6 4.8-13.3 4.8-14.8 7.4-24.3 2.6-7.6 1.5-3.5 1.5-2.7 1.1-1.3 1.1-0.6 1.1 0 1.1 0.7 1.5 1.9 1.5 2.7 2.6 6.2 7.4 20.3 4.8 12.2 4.8 10.7 4.8 9 4.9 7.3 2.6 3.2 2.2 2.5 2.6 2.4 2.6 2.1 2.6 1.8 2.9 1.6 3 1.3 3.3 1.1 3.7 0.9 3.7 0.5 3.7 0.2 4.5 0 9.3-0.8 10.7-1.7 13.7-2.9 17.4-4.3 25.2-6.6"/>
<path transform="translate(-132.2,-60.4)" d="M37.1,-10.1l25.2-7 17.4-5.1 13.7-4.5 10.7-4.1 9.3-4.3 8.2-4.6 3.7-2.5 3.7-2.9 3.3-2.8 3-2.9 2.9-3.3 3-3.6 5.2-7.4 4.8-8.4 5.2-10.7 5.2-12.7 5.2-14.6 4-12.7 7.5-25 2.2-6.8 1.1-2.9 1.5-3.1 1.1-1.4 1.1-0.7 1.1 0.1 1.1 0.8 1.5 2.3 1.1 2.3 2.2 5.6 7.5 21 4 10.5 5.2 11.8 5.2 9.9 2.6 4.2 2.6 3.7 2.2 2.9 2.6 2.9 2.6 2.5 2.6 2.1 3 2 2.9 1.6 3 1.3 3.3 1.1 3.7 0.9 3.7 0.5 4.1 0.2 4.1 0 9.3-0.8 10.7-1.7 13.7-2.9 17.4-4.3 25.2-6.6"/>
<path transform="translate(-131,-59.9)" d="M37.1,-10.1l25.9-7.2 17.4-5.2 13.7-4.5 10.8-4.1 9.2-4.3 8.2-4.8 3.7-2.5 3.7-3 3.3-2.9 3-3 3-3.3 2.9-3.7 3-4.2 2.6-4 5.2-9.4 5.2-11.1 5.5-14.1 5.2-15 4.1-13.1 6.3-22.4 2.2-7.2 1.9-4.5 1.1-1.6 1.1-0.8 0.7 0 0.4 0.2 1.1 1 1.9 3.5 2.2 6 6.3 19 4.1 10.9 5.2 12.2 5.5 11 2.6 4.4 2.6 4 2.6 3.5 2.6 3 2.6 2.7 3 2.6 2.9 2.1 3 1.7 3 1.3 3.3 1.2 3.7 0.9 3.7 0.6 3.7 0.3 4.5 0 9.2-0.7 10.8-1.6 13.7-2.9 17.4-4.3 25.9-6.8"/>
<path transform="translate(-129.8,-59.4)" d="M37.1,-10.1l25.9-7.2 17.4-5.2 13.7-4.5 10.8-4.1 9.6-4.5 4.5-2.5 4-2.6 3.7-2.6 3.4-2.7 3.3-3 3-3 3.3-3.8 3-3.8 5.5-8.4 3-5.2 3-5.8 5.2-11.5 5.5-14.3 5.6-16.5 4.1-13.8 5.1-19.9 1.9-6.4 1.1-3.1 1.1-2.3 0.8-1 0.7-0.4 0.7 0 0.8 0.6 1.1 1.7 1.1 2.5 1.9 5.4 5.1 17 4.1 11.7 5.6 13.5 5.5 11.3 5.2 8.7 3 4.2 3 3.6 2.6 2.7 2.9 2.7 3 2.2 3.3 2 3 1.4 3.3 1.2 3.4 0.9 3.7 0.6 4 0.4 4.5 0 4.4-0.2 5.2-0.5 10.8-1.6 13.7-2.9 17.4-4.3 25.9-6.8"/>
<path transform="translate(-128.7,-58.8)" d="M37.1,-10.1l25.9-7.2 17.4-5.2 13.7-4.5 11.2-4.3 9.6-4.5 4.4-2.5 3.7-2.4 3.7-2.6 3.8-3 3.3-3 3-3.1 2.9-3.3 3.4-4.3 2.9-4.3 3-4.8 2.9-5.3 3-5.9 5.9-13.3 6.3-16.7 5.2-16 3.4-12.1 4.8-20.2 1.8-6.8 1.5-3.8 0.8-1.1 0.7-0.5 0.7 0.1 0.8 0.7 1.5 3 1.8 5.8 4.8 17.6 3.4 10.3 5.2 13.2 2.9 6.6 3.4 6.7 2.9 5.3 3 4.8 3 4.3 2.9 3.7 3 3.1 2.9 2.7 3.4 2.5 2.9 1.8 3 1.5 3.3 1.2 3.8 1 3.7 0.6 3.7 0.3 4.4 0.1 4.8-0.2 4.8-0.4 11.2-1.7 13.7-2.9 17.4-4.3 25.9-6.8"/>
<path transform="translate(-127.5,-58.3)" d="M37.1,-10.1l25.9-7.2 17.8-5.3 14.1-4.7 10.7-4.1 9.7-4.6 4.4-2.5 4.1-2.7 3.7-2.7 3.3-2.7 3.4-3.1 3.3-3.4 3.7-4.4 3-4 3.3-5.1 3-4.9 2.9-5.5 3.4-6.9 6.3-14.7 4.8-12.9 4.4-13.6 2.3-7.9 1.8-7.5 5.9-27 1.5-4.5 0.8-1.3 0.7-0.6 0.7 0.2 0.8 0.9 1.5 3.7 5.9 23.8 1.8 6.5 2.3 6.7 4.4 11.2 4.8 10.3 3 5.6 3.3 5.7 3.4 5 2.9 3.9 3 3.4 3.3 3.2 3 2.4 3.7 2.4 3.3 1.7 3.4 1.3 3.3 0.9 3.7 0.7 4.1 0.4 4.4 0.1 4.5-0.1 5.2-0.5 10.7-1.6 14.1-2.9 17.8-4.4 25.9-6.8"/>
<path transform="translate(-126.3,-57.7)" d="M37.1,-10.1l25.9-7.2 18.2-5.4 14-4.7 11.2-4.4 9.6-4.6 4.4-2.6 4.1-2.7 3.7-2.7 3.4-2.8 3.3-3.2 3.3-3.5 3.7-4.6 3.4-4.6 3.3-5.1 3.3-5.8 3.4-6.5 3.3-7 3.7-8.6 3.4-8.4 5.1-14.5 3.4-11.2 3.3-14.3 4.8-25.2 1.5-5.5 0.8-1.6 0.7-0.6 0.7 0.2 0.8 1.2 1.5 4.7 4.8 22.6 1.5 6.1 1.8 6.4 3.4 9.3 5.1 11.8 3.4 6.6 3.7 6.6 3.3 5.2 3.4 4.6 3.3 4 3.3 3.4 3.4 2.8 3.7 2.5 3.3 1.8 3.3 1.3 3.4 1 3.7 0.8 4.1 0.5 4.4 0.1 4.4-0.1 5.2-0.4 11.2-1.6 14-3 18.2-4.4 25.9-6.8"/>
<path transform="translate(-125.1,-57.2)" d="M37.1,-10.1l26.6-7.4 18.2-5.4 14.1-4.8 11.1-4.4 5.2-2.4 4.4-2.3 4.5-2.7 4.1-2.7 3.7-2.8 3.3-2.9 3.3-3.2 3.4-3.7 3.7-4.6 4.1-5.8 3.7-6 3.7-6.8 3.7-7.5 3.7-8.2 3.3-8.1 3.7-9.6 3.7-10.8 3-10.6 2.6-12.4 3.7-22.7 1.5-8.1 1.1-3.9 0.4-0.9 0.7-0.8 0.7 0.4 0.4 0.7 1.1 3.3 1.5 7.3 3.7 20.6 2.6 11 3 9.1 3.7 8.8 3.7 7.6 3.3 6.3 3.7 6.2 3.7 5.5 3.7 4.8 3.7 4 4.1 3.6 3.7 2.6 3.4 1.9 3.3 1.4 3.3 1.1 3.7 0.8 4.1 0.5 4.5 0.2 4.4 0 5.2-0.4 11.1-1.6 14.1-2.9 18.2-4.4 26.6-7"/>
<path transform="translate(-123.9,-56.6)" d="M37.1,-10.1l26.6-7.4 18.6-5.5 14.1-4.8 11.1-4.4 4.8-2.3 4.8-2.5 4.5-2.7 4-2.8 3.7-2.8 3.7-3.3 3.8-3.7 2.9-3.3 4.1-5.2 4.1-6 4-6.8 3.8-7 4-8.4 4.1-9.3 4.1-10 3.7-10 3-9.7 2.2-9.6 1.8-10.7 4.5-31.2 0.7-3.7 0.8-2.4 0.7-0.9 0.7 0.5 0.8 2 0.7 3.3 4.5 28.8 1.8 9.7 2.2 8.4 3 8.1 3.7 8 4.1 7.8 4.1 7.1 4 6.2 3.8 5 4 4.6 4.1 3.8 4.1 3 2.9 1.7 3.8 1.7 3.7 1.3 3.7 0.8 4 0.6 4.5 0.2 4.8 0 4.8-0.4 11.1-1.5 14.1-2.9 18.6-4.5 26.6-7"/>
<path transform="translate(-122.7,-56.1)" d="M37.1,-10.1l27.4-7.6 18.5-5.6 14.1-4.8 11.5-4.6 5.2-2.5 4.8-2.7 4.4-2.7 3.7-2.7 3.8-2.9 3.7-3.4 3.3-3.4 3.3-3.9 4.1-5.4 4.1-6.1 4.1-7 4-7.7 4.1-8.6 4.5-10.1 4.4-11 3-8.1 2.6-9.2 1.8-9.3 1.9-12.9 3.7-31.2 0.7-4.6 0.8-3 0.7-1.2 0.7 0.8 0.8 2.6 0.7 4.2 3.7 29.2 1.9 11.9 1.8 8.3 1.1 3.8 1.5 4 3 6.5 4.4 8.5 4.5 7.8 4.1 6.4 4 5.5 4.1 4.7 4.1 4 4.1 3.2 3.3 2 3.3 1.7 3.7 1.3 3.8 1 3.7 0.6 4.4 0.4 4.8 0 5.2-0.3 5.6-0.6 5.9-0.9 14.1-2.8 18.5-4.5 27.4-7.2"/>
<path transform="translate(-121.5,-55.5)" d="M37.1,-10.1l28.1-7.8 18.6-5.6 14-4.8 11.5-4.8 5.2-2.5 4.8-2.7 4.5-2.8 3.7-2.7 4.1-3.4 3.7-3.5 3.7-4 2.9-3.5 4.1-5.6 3.7-5.7 4.1-7 4.1-7.7 4.8-10.1 5.2-11.8 4.4-10.7 2.3-6.4 1.8-7.4 1.9-11 1.8-15.9 3-30.5 0.7-5.7 0.8-3.8 0.7-1.5 0.7 1.1 0.8 3.4 0.7 5.3 3 28.9 1.8 14.9 1.9 10 1.8 6.4 2.3 5.2 4.4 8.3 5.2 9 4.8 7.5 4.1 5.5 4.1 4.8 3.7 3.7 4.1 3.3 2.9 2 3.7 2 3.7 1.5 4.1 1.1 3.7 0.7 4.5 0.5 4.8 0 5.2-0.2 5.5-0.6 6-0.9 14-2.8 18.6-4.4 28.1-7.4"/>
<path transform="translate(-120.3,-55)" d="M37.1,-10.1l28.1-7.8 18.9-5.7 14.5-5 6.3-2.5 5.2-2.3 5.2-2.6 4.8-2.8 4.4-2.9 4.1-3 3.7-3.1 3.7-3.6 3.7-4.1 3.7-4.6 4.1-5.8 3.7-5.8 3.7-6.5 3.7-7 4.5-9.2 9.2-20.4 1.5-3.5 1.5-4.4 1.8-8.2 1.5-10.3 1.5-14.7 3.3-40.6 1.2-8.5 0.7-1.9 0.7 1.5 1.2 7.9 3.3 38.8 1.5 13.9 1.5 9.5 0.7 3.4 1.1 3.8 1.5 3.6 1.5 2.7 9.2 15.4 4.5 6.8 3.7 5 3.7 4.5 3.7 3.8 4.1 3.6 3.7 2.6 3.7 2.1 3.7 1.5 3.7 1.2 4.1 0.8 4.4 0.5 4.8 0.1 5.2-0.2 5.2-0.5 6.3-0.9 14.5-2.8 18.9-4.5 28.1-7.4"/>
<path transform="translate(-119.1,-54.5)" d="M37.1,-10.1l28.9-8.1 19.2-5.8 14.9-5.2 6.3-2.6 5.2-2.3 5.1-2.7 4.9-2.9 4.4-3 4.5-3.5 4-3.7 3.7-3.9 3.7-4.3 3.4-4.4 3.3-4.9 3.3-5.3 6.7-12 10.8-22.3 4.4-8.6 1.1-2.6 1.1-3.4 1.5-7.1 1.5-11.8 1.5-17.7 3.3-49.1 0.8-6.4 0.7-2.4 0.7 2 0.8 6 3.3 47.3 1.5 16.9 1.5 11 1.5 6.3 1.1 2.8 1.1 2 4.4 6.2 7.1 11 3.7 5.5 3.3 4.4 3.4 4 3.3 3.5 3.3 3 3.4 2.7 3.7 2.3 3.7 1.9 4 1.5 4.5 1.1 4.4 0.6 4.9 0.2 5.1-0.1 5.2-0.4 6.3-0.8 14.9-2.8 19.2-4.6 28.9-7.6"/>
<path transform="translate(-117.9,-53.9)" d="M37.1,-10.1l29.6-8.3 19.6-6 14.9-5.2 5.9-2.5 5.9-2.8 5.2-2.8 4.8-2.9 4.5-3.2 4.4-3.7 4.1-3.9 3.7-4 3.7-4.5 4.1-5.7 5.2-8.1 5.2-9.1 11.5-23 5.5-8.9 1.1-2.6 0.8-2.6 1.5-8.6 1.1-10.8 1.5-21.8 2.9-54.3 0.8-8.3 0.7-3.1 0.7 2.7 0.8 7.9 2.9 52.7 1.5 20.9 1.1 10.3 0.8 4.6 0.7 3.2 0.8 2.2 1.1 2 4.1 4.2 1.4 1.7 8.2 12.1 3.3 4.6 5.2 6.4 5.2 5.3 4.1 3.4 3.7 2.6 3.7 2 4.1 1.7 4.4 1.3 4.5 0.7 4.8 0.4 5.2 0 5.9-0.4 5.9-0.8 7.1-1.1 7.8-1.6 19.6-4.6 29.6-7.8"/>
<path transform="translate(-116.7,-53.4)" d="M37.1,-10.1l30.3-8.5 20.1-6.1 8.1-2.8 7.1-2.7 5.9-2.5 5.9-2.9 5.2-2.9 4.8-3.1 4.8-3.7 4.5-3.9 4.4-4.5 3.7-4.3 4.1-5.3 4.1-6 4.1-6.6 4-7.2 11.2-21.5 2.2-3.2 3.3-3.1 1.1-1.6 0.8-1.8 0.7-3 0.8-4.6 0.7-6.7 1.1-14.9 1.1-21.4 2.6-59.2 0.8-10.9 0.7-4.1 0.7 3.7 0.8 10.5 2.6 57.8 1.1 20.8 1.1 14.3 0.7 6.3 0.8 4.2 0.7 2.6 0.8 1.4 1.1 1 3.3 1.3 2.2 2 2.3 2.8 5.5 8.2 3.4 4.5 4 5 4.1 4.4 4.1 3.7 4.1 3.2 3.7 2.3 4.4 2.1 4.5 1.5 4.8 1 4.8 0.5 5.2 0.1 5.9-0.3 5.9-0.6 7.1-1.2 8.1-1.6 20.1-4.7 30.3-7.9"/>
<path transform="translate(-115.6,-52.8)" d="M37.1,-10.1l36.6-10.3 11.9-3.7 10-3.4 8.9-3.5 7.8-3.5 6.7-3.6 5.9-3.8 4.8-3.7 4.8-4.2 4.5-4.7 4.4-5.3 6-8.2 5.9-9.4 4.4-7.9 7.4-14.5 2.3-3.8 1.4-1.9 1.5-1.2 1.1-0.4 2.3-0.1 0.7-0.5 0.4-0.5 0.7-2 0.4-1.5 0.7-5 0.8-7.9 0.7-11.4 1.5-33.9 2.2-63.4 0.8-14.2 0.7-5.4 0.7 5 0.8 13.8 2.2 62.2 1.5 33.1 0.7 11 0.8 7.5 0.7 4.6 0.4 1.3 0.7 1.6 0.4 0.3 0.7 0.1 2.3-1.1 1.1-0.3 1.5 0.5 1.4 1.1 2.3 2.6 7.4 10.5 4.4 5.4 5.9 6.3 3 2.6 3 2.4 4.4 2.9 4.5 2.2 4.8 1.7 4.8 1.1 5.9 0.6 6.7 0 7.8-0.7 8.9-1.4 10-2 11.9-2.7 36.6-9.5"/>
<path transform="translate(-114.4,-52.3)" d="M37.1,-10.1l35.2-9.9 11.8-3.6 10-3.4 8.6-3.2 7.4-3.2 7-3.6 5.9-3.6 6-4.3 5.9-5.3 5.6-5.9 5.1-6.5 5.2-7.4 5.2-8.3 4.8-8.5 6.7-12.9 2.6-4 1.5-1.2 0.7-0.2 0.8 0.1 1.1 0.7 2.2 2.5 0.7 0.1 0.4-0.5 0.8-2.5 0.7-5.6 1.1-16 1.5-38.5 2.2-77.8 0.8-18.4 0.7-7 0.7 6.6 0.8 18 2.2 76.6 1.5 37.7 1.1 15.4 0.7 5.2 0.8 2.1 0.4 0.3 0.7-0.5 2.2-3.7 1.1-1.3 0.8-0.5 0.7-0.2 1.5 0.4 1.5 1.3 1.1 1.3 6.7 9.2 4.8 6 5.2 5.4 5.2 4.7 5.1 3.7 5.6 2.9 3 1.1 2.9 0.9 6 1.1 5.9 0.4 7-0.2 7.4-0.7 8.6-1.4 10-2.1 11.8-2.8 35.2-9.1"/>
<path transform="translate(-113.2,-51.7)" d="M37.1,-10.1l32.9-9.2 11.5-3.5 9.7-3.2 8.5-3 7.4-3.1 6.3-2.9 5.9-3.3 7.1-4.7 6.3-5.1 5.5-5.5 6-7 5.5-7.6 6-9.1 5.1-9 6.7-12.8 1.1-1.9 1.5-1.9 0.7-0.6 0.8-0.4 0.7 0.1 1.1 0.8 1.2 1.9 2.5 6.9 0.4 0.5 0.4 0.1 0.7-2.1 0.8-6.6 1.1-21.1 1.1-34.3 2.2-93.6 0.8-23.3 0.7-9 0.7 8.6 0.8 22.9 2.2 92.4 1.1 33.7 1.1 20.5 0.8 6.2 0.3 1.2 0.4 0.5 0.8-1 2.5-8.3 1.2-2.5 1.1-1.4 0.7-0.5 0.8 0 0.7 0.2 1.5 1.1 1.1 1.3 6.7 9.2 5.1 6.2 6 5.9 5.5 4.6 3 2.1 3 1.7 5.5 2.5 3 0.9 3.3 0.8 3.4 0.5 3.7 0.4 5.9 0 6.3-0.4 7.4-1 8.5-1.5 9.7-2.1 11.5-2.7 32.9-8.6"/>
<path transform="translate(-112,-51.2)" d="M37.1,-10.1l36.6-10.3 11.9-3.7 10-3.4 8.5-3.3 7.5-3.3 7-3.8 5.9-3.7 6-4.5 5.1-4.8 5.2-5.5 5.2-6.5 5.2-7.2 5.2-8 4.8-8.4 6.7-12.8 1.5-2.2 1.4-1.5 0.8-0.2 0.7 0.2 0.8 0.7 1.1 2.3 1.1 3.7 2.6 12.6 0.4 0.6 0.3-0.1 0.8-5.3 0.3-5.7 1.2-27.6 1.1-44.2 1.8-92.7 0.8-28.5 0.7-11.1 0.7 10.7 0.8 28.1 1.8 91.7 1.1 43.6 1.2 27 0.3 5.5 0.8 4.9 0.3-0.1 0.4-0.8 2.6-14 1.1-4.3 1.1-2.9 0.8-1.1 0.7-0.6 0.8-0.2 0.7 0.2 0.7 0.4 1.5 1.5 6.7 9.2 4.8 5.7 5.2 5.2 5.2 4.5 5.2 3.6 5.2 2.8 5.1 1.9 6 1.3 5.9 0.6 7-0.1 7.5-0.7 8.5-1.3 10-2 11.9-2.7 36.6-9.5"/>
<path transform="translate(-110.8,-50.6)" d="M37.1,-10.1l36.3-10.2 12.2-3.8 10-3.4 8.5-3.3 7.5-3.3 7-3.8 5.9-3.7 6-4.5 5.5-5.1 5.2-5.6 5.2-6.4 5.5-7.8 5.2-7.9 4.5-7.7 6.3-12.3 1.5-2.4 1.4-1.4 0.8-0.2 0.4 0.1 0.3 0.2 0.8 0.9 0.7 1.5 0.8 2.4 1.4 7.7 1.9 15.4 0.7 4.6 0.4-0.8 0.4-2.8 0.3-6.1 1.2-31.2 1.1-48.9 2.2-120.8 0.4-16.2 0.7-13.1 0.7 12.7 0.4 16 2.2 119.6 1.1 48.3 1.2 30.6 0.3 5.9 0.4 2.6 0.4 0.6 0.7-5 1.9-16.4 1.4-8.5 0.8-2.8 0.7-1.9 1.1-1.7 0.4-0.3 0.8-0.2 0.7 0.2 0.7 0.4 1.5 1.6 6.3 8.9 4.5 5.3 5.2 5.1 5.5 4.7 5.2 3.7 5.2 2.8 5.5 2 6 1.3 5.9 0.6 7-0.1 7.5-0.7 8.5-1.3 10-2 12.2-2.8 36.3-9.4"/>
<path transform="translate(-109.6,-50.1)" d="M37.1,-10.1l36.3-10.2 12.2-3.8 10-3.4 8.5-3.3 7.5-3.3 7-3.8 5.9-3.7 6-4.5 5.5-5.1 5.2-5.5 5.6-6.9 5.9-8.2 5.2-7.9 4.1-7.1 6.6-13.3 1.5-2.1 1.1-0.7 0.4-0.1 0.7 0.3 1.1 1.6 1.2 3.4 0.7 3.7 1.5 11.4 1.8 24.5 0.4 0.7 0.4-3 0.3-7.5 1.2-36.2 1.1-51.9 2.2-128.6 0.4-17.6 0.7-14.1 0.7 13.7 0.4 17.4 2.2 127.4 1.1 51.2 1.2 35.7 0.3 7.3 0.4 2.8 0.4-0.9 1.8-25.5 1.5-12.2 0.7-4.1 1.2-4 1.1-2.3 0.7-0.6 0.4-0.1 0.4-0.1 0.7 0.2 1.5 1.3 6.6 9.7 4.1 4.9 5.2 5.1 5.9 5 5.6 3.8 5.2 2.8 5.5 2.1 6 1.3 5.9 0.5 7-0.1 7.5-0.7 8.5-1.3 10-2 12.2-2.8 36.3-9.4"/>
<path transform="translate(-108.4,-49.6)" d="M37.1,-10.1l36.3-10.2 12.2-3.8 10-3.4 8.5-3.3 7.5-3.3 7-3.8 5.9-3.7 6-4.5 5.9-5.4 5.5-6 6-7.4 6.3-8.7 4.4-6.8 4.1-7.3 5.9-12.4 1.5-2.4 0.7-0.7 0.8-0.4 0.7 0.1 0.4 0.4 1.1 1.9 0.8 2.5 0.7 3.5 1.5 11.1 1.8 22.2 0.4 0.8 0.4-2.1 0.3-6.7 1.2-34.8 1.1-51.5 2.2-128 0.4-17.5 0.7-14.1 0.7 13.7 0.4 17.3 2.2 126.8 1.1 50.9 1.2 34.2 0.3 6.5 0.4 1.9 0.4-1 1.8-23.2 1.5-11.9 1.5-6.8 1.1-2.5 0.4-0.6 0.7-0.5 0.8 0 0.7 0.3 1.5 1.6 5.9 9.2 4.1 5.1 4.4 4.4 6.3 5.3 6 4.1 5.5 3.1 5.9 2.2 6 1.3 5.9 0.5 7-0.1 7.5-0.7 8.5-1.3 10-2 12.2-2.8 36.3-9.4"/>
<path transform="translate(-107.2,-49)" d="M37.1,-10.1l36.6-10.3 12.3-3.8 10-3.5 8.9-3.4 7.4-3.4 7-3.8 6-3.8 6.6-5.2 6.3-6.1 6-6.7 6.6-8.6 5.6-7.8 3.7-5.9 3.3-6.3 6-13.1 1.4-2.2 0.8-0.6 0.7-0.1 0.8 0.5 0.3 0.6 0.8 1.6 0.7 2.5 1.1 5.7 2.3 16.7 0.3 1.8 0.4-0.4 0.4-2.1 0.7-12.6 0.8-21.9 1.1-48 2.2-119.2 0.4-16 0.7-12.8 0.7 12.4 0.4 15.8 2.2 118 1.1 47.4 0.8 21.5 0.7 12.2 0.4 1.9 0.4 0.2 0.3-2 2.3-17.9 1.1-6.3 0.7-2.9 0.8-2 1.1-1.7 0.7-0.3 0.8 0.2 1.4 1.4 6 9.8 3.3 4.6 3.7 3.9 5.6 4.8 6.6 5 6 3.5 2.9 1.4 3.4 1.2 3.3 1 3.3 0.6 6 0.7 7 0 7.4-0.7 8.9-1.3 10-2 12.3-2.8 36.6-9.5"/>
<path transform="translate(-106,-48.5)" d="M37.1,-10.1l36.6-10.3 12.6-4 10.1-3.4 8.5-3.3 7.8-3.6 6.6-3.6 6.3-4.1 6.7-5.3 6.7-6.4 7-8.2 8.2-10.6 4.4-6.5 3-5.2 2.9-6.2 4.9-11.6 1.4-2.7 1.2-1.1 0.3-0.2 0.8 0.1 0.7 0.7 0.8 1.5 1.1 3.7 2.2 10.4 0.4 0.9 0.3 0.1 0.8-4 0.3-5 1.2-25.6 1.1-42.9 1.8-90.5 0.8-27.8 0.7-10.8 0.7 10.4 0.8 27.4 1.8 89.5 1.1 42.3 1.2 25 0.3 4.8 0.8 3.6 0.3-0.3 0.4-1.1 2.2-11.6 1.1-4.3 0.8-1.9 0.7-1.1 0.8-0.5 0.3 0 0.4 0 0.8 0.5 1.4 1.9 4.9 9 2.9 4.6 3 3.6 4.4 4.1 8.2 6.2 3.3 2.2 3.7 2.2 3.4 1.5 3.3 1.3 3.3 1 3.4 0.7 6.3 0.7 6.6 0 7.8-0.7 8.5-1.2 10.1-2 12.6-2.9 36.6-9.5"/>
<path transform="translate(-104.8,-47.9)" d="M37.1,-10.1l34.8-9.8 11.9-3.6 9.6-3.2 8.5-3.2 7.4-3.2 6.7-3.3 6.3-3.7 4.4-3.1 3.8-2.9 3.7-3.2 3.7-3.6 3.7-4 4-4.8 9.3-11.9 4.5-6.5 2.9-5.4 2.6-5.8 5.2-13.6 1.5-2.8 0.7-0.9 0.8-0.3 0.3 0 0.4 0.1 0.8 0.8 0.7 1.3 1.8 4.9 0.8 1.1 0.4-0.3 0.3-0.9 0.4-2.2 0.7-7.9 1.2-23.2 1.1-37.5 1.8-76.1 0.8-22.4 0.7-8.6 0.7 8.2 0.8 22 1.8 75.1 1.1 36.9 1.2 22.6 0.7 7.5 0.4 2 0.3 0.7 0.4 0.1 0.8-1.5 1.8-5.9 0.7-1.7 1.2-1.5 0.3-0.2 0.8-0.1 0.7 0.5 1.5 2 5.2 10.7 2.6 4.5 2.9 3.8 4.5 4.1 4.4 3.5 4.9 3.4 4 2.6 3.7 2 3.7 1.6 3.7 1.2 3.8 0.9 4.4 0.7 6.3 0.3 6.7-0.3 7.4-0.9 8.5-1.4 9.6-2 11.9-2.8 34.8-9"/>
<path transform="translate(-103.6,-47.4)" d="M37.1,-10.1l36.6-10.3 12.6-4 10.1-3.4 8.9-3.5 7.7-3.6 7.1-3.8 5.9-3.9 6.7-5.3 6.3-6.1 7-8 8.9-11.2 4.5-6.4 3.3-6.2 3-7.3 4.4-13 1.5-3.6 0.7-1.4 0.8-0.9 0.7-0.5 0.4 0 1.1 0.5 1.1 1.1 0.7 0.4 0.4-0.2 0.4-0.4 0.7-2.7 0.8-5.9 1.1-17.6 1.1-28.3 2.2-73.6 0.8-17.3 0.7-6.6 0.7 6.2 0.8 16.9 2.2 72.4 1.1 27.7 1.1 17 0.8 5.5 0.7 2.3 0.4 0.2 0.4 0 1.8-2.5 1.1-1.1 0.4-0.2 0.7 0.1 0.8 0.5 0.7 1 1.5 2.8 4.4 10.6 3 5.7 1.5 2.2 1.8 2.2 4.5 4 8.9 6.4 7 4.1 3 1.4 3.3 1.3 3.4 1 3.3 0.7 5.9 0.7 7.1 0.1 7.7-0.6 8.9-1.3 10.1-2 12.6-2.9 36.6-9.5"/>
<path transform="translate(-102.4,-46.8)" d="M37.1,-10.1l32.2-9 20.4-6.4 8.1-2.8 7.5-3 6.3-2.8 5.9-3.1 5.5-3.4 5.2-3.7 4.8-4 4.5-4.2 5.2-5.5 6.3-7.4 6.7-8.4 3.7-5.2 2.6-4.7 2.5-6.1 1.9-5.4 4.4-14.6 1.5-4 0.8-1.5 1.1-1.6 0.7-0.6 1.5-0.7 0.7-0.7 0.8-1.8 0.7-3.5 0.8-6.2 1.1-16.1 1.1-24 2.2-58.3 0.8-13 0.7-4.9 0.7 4.5 0.8 12.6 2.2 57.1 1.1 23.4 1.1 15.5 0.8 5.8 0.7 3.1 0.8 1.4 0.7 0.3 1.5-0.1 0.7 0.2 1.1 1 0.8 1.1 1.5 3.1 4.4 12.3 1.9 4.4 2.5 4.7 2.6 3.3 3.7 3.2 6.7 4.7 6.3 4.1 5.2 2.7 4.5 1.8 4.8 1.4 5.2 0.9 5.5 0.3 5.9-0.1 6.3-0.5 7.5-1.1 8.1-1.5 20.4-4.7 32.2-8.4"/>
<path transform="translate(-101.3,-46.3)" d="M37.1,-10.1l32.2-9 20.4-6.4 8.1-2.8 7.1-2.8 6.7-3 5.5-2.9 5.2-3.1 5.2-3.6 4.4-3.6 4.5-4 4.8-5 4.8-5.4 8.9-10.7 3.7-4.9 3-5 2.6-6.1 2.6-8 5.5-20.4 1.5-3.9 3.3-6.1 1.2-4.3 1.1-8.2 0.7-8.7 1.1-18.2 2.6-52.1 0.8-9.6 0.7-3.6 0.7 3.2 0.8 9.2 2.6 50.7 1.1 17.6 0.7 8.3 1.1 7.6 1.2 3.7 0.7 1.2 1.8 2 0.8 1.1 1.5 3.1 1.5 4.2 4 13.2 2.6 6.6 2.6 4.6 1.5 1.9 1.5 1.6 3.7 2.9 8.9 5.8 4.8 2.9 4.8 2.3 4.5 1.7 4.4 1.2 5.2 0.8 5.2 0.3 5.5-0.2 6.7-0.6 7.1-1 8.1-1.5 20.4-4.7 32.2-8.4"/>
<path transform="translate(-100.1,-45.7)" d="M37.1,-10.1l31.8-8.9 20-6.2 8.2-2.9 7-2.7 6.7-3 5.6-2.8 5.2-3 5.1-3.6 4.5-3.4 4.4-4 4.1-4.1 4.8-5.2 10.4-12.1 3.3-4.2 1.9-2.8 1.9-3.5 1.4-3.4 1.5-4.2 2.2-7.8 5.6-23.4 1.5-4.9 2.9-7.9 1.2-4.7 1.1-7.7 1.1-11.9 3.3-49.7 0.8-6.9 0.7-2.6 0.7 2.2 0.8 6.5 3.3 47.9 1.1 11.3 1.1 7.1 1.2 4.1 2.9 6.3 1.5 4.1 5.6 20.4 2.2 6.6 1.5 3.4 1.4 2.6 1.9 2.5 1.9 1.8 3.3 2.4 10.4 6.4 4.8 2.7 4.1 1.9 4.4 1.5 4.5 1.1 5.1 0.7 5.2 0.3 5.6-0.2 6.7-0.7 7-1 8.2-1.6 20-4.6 31.8-8.3"/>
<path transform="translate(-98.9,-45.2)" d="M37.1,-10.1l31.5-8.8 20.3-6.3 8.2-2.9 7-2.7 6-2.6 5.9-3 5.2-3 4.8-3.2 4.5-3.4 4.4-3.9 4.1-3.9 4.1-4.4 11.8-13.4 3-3.5 2.2-3.3 1.9-3.4 1.8-4.5 1.5-4.7 2.6-10.4 5.2-25.1 1.5-5.8 2.5-8.4 1.2-4.7 1.1-6.7 0.7-6 3.7-40.3 0.8-4.9 0.7-1.9 0.7 1.5 0.8 4.5 3.7 38.3 0.7 5.6 1.1 6.1 1.2 4.1 2.5 7 1.5 5 5.2 22.3 2.6 9 1.5 3.8 1.8 3.6 1.9 2.4 2.2 2 3 2 11.8 7 4.1 2.1 4.1 1.8 4.4 1.5 4.5 1 4.8 0.6 5.2 0.2 5.9-0.3 6-0.6 7-1 8.2-1.6 20.3-4.7 31.5-8.2"/>
<path transform="translate(-97.7,-44.7)" d="M37.1,-10.1l31.1-8.7 20.4-6.3 8.1-2.8 7.1-2.8 6.3-2.7 5.5-2.8 5.2-3 4.5-2.9 4.8-3.6 4.4-3.8 7.4-7.4 16-17.7 2.6-3.7 2.2-4.5 1.8-5.2 1.9-6.9 2.2-10.7 5.2-28.3 1.5-6.3 2.6-9.2 1.1-4.9 1.5-9.2 3.3-25.9 0.8-3.3 0.7-1.3 0.7 0.9 0.8 2.9 3.3 24.1 1.5 8.4 1.1 4.3 2.6 7.8 1.5 5.5 5.2 25.5 2.2 9.4 1.9 6 1.8 4.2 2.2 3.3 2.6 2.3 2.2 1.4 13.8 7.7 3.7 1.8 3.7 1.6 4.4 1.4 4.8 1 4.5 0.5 5.2 0.2 5.5-0.3 6.3-0.6 7.1-1.1 8.1-1.5 20.4-4.8 31.1-8.1"/>
<path transform="translate(-96.5,-44.1)" d="M37.1,-10.1l31.1-8.7 20-6.2 8.2-2.8 7-2.7 5.9-2.6 6-2.9 5.1-2.9 4.9-3.2 4.4-3.3 4.1-3.4 6.7-6.5 17.4-18.6 2.6-3.7 1.8-3.6 1.9-5 1.5-5.4 1.4-6.7 1.5-8.1 4.1-25.6 1.9-10.1 1.4-6.2 3.7-12.5 4.1-20.1 0.8-2.2 0.7-0.9 0.7 0.5 0.8 1.8 4.1 17.9 1.1 3.5 2.6 7 1.4 5.4 1.9 9.1 4.1 23.4 1.5 7.3 1.4 5.9 1.5 4.6 1.9 4 1.8 2.6 2.6 2.2 17.4 9.3 6.7 2.8 4.1 1.3 4.4 0.9 4.9 0.5 5.1 0.2 6-0.3 5.9-0.6 7-1.1 8.2-1.6 20-4.7 31.1-8.1"/>
<path transform="translate(-95.3,-43.6)" d="M37.1,-10.1l31.1-8.7 20-6.2 7.8-2.7 7-2.7 6.3-2.7 5.6-2.7 5.2-2.9 4.4-2.9 4.5-3.2 4-3.4 6.7-6.3 10-10.6 8.2-8.2 2.6-3.5 1.8-3.5 1.9-5.2 1.5-5.6 1.4-7.2 1.5-8.7 5.2-35.7 1.1-5.9 1.1-4.7 1.5-4.3 3-6.3 3.3-9.2 0.8-1.3 0.7-0.6 0.7 0.2 0.8 0.9 3.3 7.3 3 4.8 1.5 3.5 1.1 4 1.1 5.4 5.2 32.9 1.5 7.9 1.4 6.4 1.5 4.8 1.9 4.2 1.8 2.5 1.1 1.1 1.5 1 8.2 3.8 10 5.2 6.7 2.7 4 1.2 4.5 0.8 4.4 0.5 5.2 0.1 5.6-0.3 6.3-0.7 7-1.1 7.8-1.5 20-4.7 31.1-8.1"/>
<path transform="translate(-94.1,-43)" d="M37.1,-10.1l30.3-8.5 20.1-6.1 8.1-2.8 7.1-2.7 5.9-2.5 5.9-2.9 4.8-2.7 4.5-2.8 4.4-3.1 4.1-3.3 5.9-5.4 11.9-12.3 7.8-7.4 2.6-3.3 1.8-3.5 1.9-5.2 1.5-5.9 1.4-7.7 1.5-9.4 5.2-39.3 1.1-6.5 1.1-4.7 0.8-2 1.1-1.8 0.7-0.5 2.6-1.1 2.6-2.4 1.5-0.9 0.7-0.1 0.8 0.2 2.6 1 2.6-0.3 0.7 0.1 1.1 1.2 0.8 1.6 1.1 4.1 1.1 5.8 5.2 36.6 1.5 8.6 1.4 6.9 1.5 5.1 1.9 4.2 1.8 2.5 1.1 1 1.5 0.9 7.8 3.2 11.9 5.8 5.9 2.3 4.1 1 4.4 0.8 4.5 0.4 4.8 0.1 5.9-0.4 5.9-0.6 7.1-1.2 8.1-1.6 20.1-4.7 30.3-7.9"/>
<path transform="translate(-92.9,-42.5)" d="M37.1,-10.1l30.3-8.5 20.1-6.1 8.1-2.8 7.1-2.7 5.9-2.5 5.9-2.9 4.8-2.7 4.5-2.8 4.1-2.8 4-3.3 6.3-5.7 12.3-12.4 8.5-7.8 1.8-2.5 1.9-3.7 1.5-4.4 1.5-6.1 1.4-8.1 1.5-10.2 4.1-34.5 1.5-11 1.1-6.2 0.7-2.7 0.8-1.7 0.7-0.6 0.4 0 0.7 0.5 2.3 3.2 1.1 1.2 1.1 0.6 1.5 0.1 2.2-0.7 1.5-1.3 1.4-2.3 2.3-4.4 0.7-0.9 0.4-0.2 0.7 0.2 0.8 1.3 1.1 4 1.1 6.1 5.2 40.3 1.5 9.4 1.1 5.6 1.5 5.8 1.8 4.8 1.9 2.7 1.1 1 1.5 0.9 7.7 2.7 12.3 5.9 6.6 2.4 4.1 1 4.5 0.7 4.4 0.3 4.5 0 5.5-0.3 6.3-0.7 6.7-1.1 8.1-1.6 20.1-4.7 30.3-7.9"/>
<path transform="translate(-91.7,-41.9)" d="M37.1,-10.1l30.3-8.5 19.7-6 7.8-2.7 7-2.6 5.9-2.5 6-2.8 4.8-2.6 4.4-2.8 4.1-2.8 4.1-3.1 6.3-5.7 13-12.9 7.4-6.1 1.5-1.4 1.8-2.5 1.9-4.1 1.4-4.9 1.5-6.9 1.1-6.6 1.5-10.9 5.2-46.8 1.5-8.9 0.7-2.5 0.8-1.1 0.3-0.1 0.4 0.2 0.8 1.2 2.9 8.9 1.1 2.7 0.8 1.3 0.7 0.8 0.8 0.4 0.7 0 0.7-0.4 0.8-0.8 1.5-2.9 1.4-4.6 1.9-6.9 1.1-3.2 0.4-0.7 0.7-0.5 0.8 0.7 1.1 3.7 1.1 6.5 5.2 44 2.2 14.3 1.5 6.6 1.8 5.4 0.8 1.5 1.1 1.5 1.1 1.1 1.1 0.6 8.5 2.6 13 5.9 6.3 2.2 4.1 1 4.1 0.6 4.4 0.3 4.8 0 6-0.3 5.9-0.8 7-1.1 7.8-1.5 19.7-4.7 30.3-7.9"/>
<path transform="translate(-90.5,-41.4)" d="M37.1,-10.1l30.3-8.5 19.7-6 7.8-2.7 7-2.6 5.9-2.5 6-2.8 8.5-4.9 4.1-2.7 4.1-3.1 7-6.2 12.6-12.4 3.3-2.8 4.8-3.5 1.9-1.7 1.9-2.9 1.4-3.6 1.5-5.5 1.5-7.7 2.2-16.6 5.2-50.6 1.5-9 0.7-2.2 0.4-0.4 0.4-0.1 0.3 0.3 1.2 2.9 2.6 11.9 1.4 5.8 0.8 2 0.7 1.4 0.8 0.7 0.7 0.1 0.7-0.5 0.8-1.1 1.5-4.2 1.4-6.6 2.3-11.7 1.1-4.3 0.7-1.3 0.4-0.1 0.4 0.2 0.3 0.7 1.1 4.5 0.8 4.8 5.2 47.8 2.2 15.4 1.5 6.9 1.5 4.7 0.7 1.6 1.1 1.7 0.8 0.8 1.1 0.8 1.8 0.6 4.5 0.8 3.3 0.9 12.6 5.6 3.7 1.4 3.3 1 4.1 0.9 4.1 0.6 4.4 0.3 4.5-0.1 5.6-0.3 6.3-0.8 6.6-1.1 8.2-1.6 19.6-4.6 30-7.9"/>
<path transform="translate(-89.3,-40.8)" d="M37.1,-10.1l29.6-8.3 19.6-6 14.9-5.2 5.9-2.5 5.9-2.7 8.6-4.8 3.7-2.5 4-2.9 7.1-6.1 13.7-13.2 3.3-2.6 5.2-3.3 1.9-1.7 1.8-2.9 1.5-4.1 1.1-4.3 1.5-8.1 2.2-17.6 5.2-54.5 0.8-5.4 0.7-3.7 0.7-1.8 0.4-0.1 0.4 0.3 0.3 0.7 1.2 4.4 2.6 15.9 1.4 7.5 0.8 2.6 0.7 1.8 0.8 1 0.7 0.2 0.7-0.6 0.8-1.4 1.5-5.2 1.4-8.3 2.3-15.1 1.1-5.9 0.7-2.2 0.4-0.5 0.4-0.1 0.7 1.4 0.7 3.3 1.2 8.1 4.4 45.2 1.1 9.6 1.5 10.2 1.5 7.3 1.5 4.7 1.4 2.8 0.8 0.8 1.1 0.8 1.5 0.5 5.2 0.5 3.3 0.8 3.3 1.2 10.4 4.6 3.4 1.2 3.7 1 4 0.8 3.7 0.5 4.1 0.2 4.5-0.1 5.9-0.4 5.9-0.8 7.1-1.1 7.8-1.6 19.6-4.6 29.6-7.8"/>
<path transform="translate(-88.2,-40.3)" d="M37.1,-10.1l29.6-8.3 19.3-5.8 14.4-5.1 6-2.4 5.9-2.8 8.5-4.6 7.4-5.1 7.4-6.2 11.2-10.7 3.3-3 3.3-2.4 5.6-3 1.8-1.6 1.5-2.4 1.5-3.9 1.1-4.4 1.5-8.5 2.2-18.6 5.2-58.5 1.1-7.5 0.4-1.5 0.7-1.4 0.4 0.2 0.4 0.7 1.1 4.9 3 21.9 1.4 9 0.8 3.1 0.7 2.2 0.8 1.2 0.7 0.3 0.7-0.7 0.8-1.6 1.5-6.1 1.4-9.8 2.6-21 1.2-6.6 0.3-1.4 0.8-1.3 0.3 0.3 0.4 0.6 0.7 3.2 1.2 8.4 4 45.1 1.5 14 1.1 8.3 1.1 6.6 1.5 6.2 1.5 3.6 0.7 1.1 1.2 1 1.8 0.6 5.6 0 3.3 0.7 3.3 1.1 11.2 4.8 3.7 1.2 3.7 1 3.7 0.6 3.7 0.4 4.1 0.2 4.4-0.1 5.9-0.5 6-0.8 14.4-2.7 19.3-4.5 29.6-7.8"/>
<path transform="translate(-87,-39.8)" d="M37.1,-10.1l28.9-8.1 19.2-5.8 14.9-5.2 6.3-2.5 5.2-2.4 7.7-4.2 7.4-4.8 4.1-3.1 4.1-3.5 11.5-11 3.7-3.2 4.1-2.7 5.2-2.2 1.8-1.5 1.5-2.4 1.5-4.4 1.1-5.1 1.1-6.8 2.2-19.7 4.1-50.6 1.1-11.9 1.1-7.6 0.4-1.5 0.4-0.6 0.3-0.2 0.8 1.7 1.1 6.4 3 25.9 1.4 10.4 0.8 3.5 0.7 2.5 0.8 1.4 0.7 0.4 0.7-0.8 0.8-1.8 1.5-6.8 1.4-11.2 3.4-30.3 1.1-5.5 0.4-0.8 0.3 0 0.4 0.4 0.7 3 0.4 2.5 1.1 9.9 3.7 44.7 2.3 21.1 1.4 9.6 1.5 6.3 1.5 3.7 0.7 1 0.8 0.6 0.7 0.4 1.1 0.1 5.2-0.6 2.3 0.1 1.8 0.4 3.7 1.2 11.5 4.8 4.1 1.3 4.1 0.9 3.7 0.5 3.7 0.3 7.7-0.1 5.2-0.4 6.3-0.8 14.9-2.8 19.2-4.6 28.9-7.6"/>
<path transform="translate(-85.8,-39.2)" d="M37.1,-10.1l28.9-8.1 18.9-5.7 14.4-5 6.3-2.5 5.2-2.4 4.8-2.4 4.5-2.5 4.4-2.8 4.1-3 6.3-5.2 11.5-10.9 4.4-3.6 3.4-2 5.5-1.7 1.1-0.6 0.8-0.8 1.5-2.7 1.4-5 1.2-5.7 1.4-10.9 2.3-23.6 4-54 1.2-9.6 0.7-3.1 0.4-0.4 0.3 0.1 0.4 1 1.1 6.3 3.4 33 1.4 11.4 0.8 4 0.7 2.7 0.8 1.6 0.7 0.4 0.7-0.8 0.8-2 1.5-7.5 1.4-12.2 3-31.5 1.1-8.5 0.8-2.9 0.3-0.3 0.4 0.2 0.4 1.1 1.1 7 0.7 7.5 3.7 47.9 2.3 22.4 1.4 10.1 1.2 5.1 1.4 4.2 0.8 1.2 0.7 0.7 0.8 0.4 1.1 0 5.5-1.3 3.4 0.1 4.4 1.3 11.5 4.7 6.3 1.8 4.1 0.7 4.4 0.5 4.5 0.1 4.8-0.2 5.2-0.5 6.3-0.8 14.4-2.8 18.9-4.5 28.9-7.6"/>
<path transform="translate(-84.6,-38.7)" d="M37.1,-10.1l28.1-7.8 18.9-5.7 14.5-5 11.5-4.8 5.2-2.6 4.4-2.5 4.1-2.5 4.4-3.2 6.3-5.1 11.9-11.2 4.4-3.5 1.9-1.1 2.2-0.9 5.2-0.8 1.1-0.6 0.8-0.8 0.7-1.2 0.7-1.7 1.5-5.7 1.1-6.7 1.1-8.8 2.3-24.9 4-57.5 1.2-9.9 0.7-2.9 0.4-0.1 0.3 0.5 0.4 1.3 1.1 7.8 3.4 37.2 1.4 12.5 0.8 4.3 0.7 3 0.8 1.6 0.7 0.5 0.7-0.9 0.8-2 0.7-3.4 0.8-4.7 1.4-13.3 3.8-42.3 1.1-6.6 0.3-0.7 0.4-0.1 0.4 1 0.3 1.5 0.8 5.5 0.7 7.9 3.7 51.1 2.3 23.8 1.1 8.2 1.1 6.1 1.5 4.9 0.7 1.3 0.7 0.8 0.8 0.4 1.1 0 5.2-2 2.2-0.3 1.9 0.1 1.8 0.3 2.6 0.8 11.9 4.8 6.3 1.7 4.4 0.7 4.1 0.4 4.4 0.1 5.2-0.3 5.6-0.5 5.9-0.9 14.5-2.8 18.9-4.5 28.1-7.4"/>
<path transform="translate(-83.4,-38.1)" d="M37.1,-10.1l27.4-7.6 18.5-5.6 14.1-4.8 11.5-4.6 5.2-2.5 4.8-2.6 4.4-2.7 4.5-3.1 6.3-5.1 12.6-11.7 4.4-3.4 1.9-1 2.2-0.8 1.5-0.1 4.1 0.1 1.1-0.5 0.7-0.8 0.8-1.4 0.7-2 1.1-4.6 1.1-6.9 1.1-9.2 2.3-26.2 3.7-56.4 1.1-11.9 0.4-2.7 0.7-2.6 0.4 0.1 0.3 0.8 1.1 7.4 3.8 44.8 1.4 13.4 0.8 4.6 0.7 3.2 0.8 1.8 0.7 0.4 0.7-0.8 0.8-2.2 0.7-3.6 0.8-5 1.4-14.2 3.8-46.8 1.1-8 0.3-1 0.4-0.3 0.4 0.8 0.3 1.4 0.8 5.5 0.7 8.3 3.7 54.4 2.3 25 1.1 8.6 1.1 6.3 0.7 2.9 0.8 2 0.7 1.3 0.7 0.6 0.8 0.2 1.1-0.3 3.7-2.1 1.5-0.7 2.2-0.5 1.9 0.1 1.8 0.3 2.6 0.7 12.6 4.9 6.3 1.6 4.5 0.7 4.4 0.3 4.8 0 5.2-0.3 11.5-1.5 14.1-2.8 18.5-4.5 27.4-7.2"/>
<path transform="translate(-82.2,-37.6)" d="M37.1,-10.1l26.6-7.4 18.2-5.4 13.7-4.6 11.5-4.6 5.2-2.4 5.2-2.7 4.8-2.9 4.4-3 7.8-6.2 12.3-11.3 4-3 1.9-1 2.2-0.5 2.2 0.1 3.4 0.8 1.1-0.2 0.7-0.7 0.8-1.1 0.7-2 1.1-4.6 1.1-7.1 1.1-9.6 2.3-27.5 3.7-59.7 1.1-12.3 0.4-2.7 0.7-2.3 0.4 0.4 0.3 1.1 1.1 8.8 3.4 44.6 1.5 15.6 1.1 8 0.7 3.3 0.8 1.9 0.7 0.5 0.7-0.9 1.2-4.1 1.1-7.2 0.7-6.8 1.5-17.8 2.6-37.1 1.1-11.4 0.4-2.4 0.3-1.3 0.4-0.6 0.7 1.9 0.8 5.6 0.7 8.6 3.7 57.7 2.3 26.3 1.1 9 1.1 6.5 1.1 4 0.7 1.6 0.8 0.7 0.7 0.2 1.1-0.4 3.4-2.6 2.2-1.3 2.2-0.6 1.9-0.1 1.8 0.3 2.2 0.6 12.3 4.7 4 1.2 3.8 0.8 4.4 0.6 4.8 0.3 5.2-0.1 5.2-0.4 11.5-1.7 13.7-2.8 18.2-4.4 26.6-7"/>
<path transform="translate(-81,-37)" d="M37.1,-10.1l25.9-7.2 17.8-5.3 13.7-4.5 11.1-4.3 6-2.7 5.1-2.7 4.9-2.8 4.4-2.9 4.1-3.1 4.1-3.4 12.6-11.5 4-3 1.9-0.8 2.2-0.4 2.2 0.3 3.7 1.6 1.2 0 0.7-0.7 1.1-2.4 1.1-4.7 1.1-7.3 1.1-10 2.3-28.8 3.7-62.9 1.1-12.7 0.4-2.7 0.3-1.3 0.4-0.7 0.4 0.7 0.3 1.5 1.1 10.1 3 43.3 1.9 21.5 1.1 8.3 0.7 3.5 0.8 2 0.7 0.5 0.7-0.9 0.8-2.4 0.7-3.9 0.8-5.4 1.8-20.8 3.7-54.5 0.8-6.3 0.3-1.7 0.4-0.9 0.4 0.4 0.3 1.2 0.8 5.7 0.7 8.9 3.7 60.9 1.9 23.7 1.1 10.5 1.1 7.5 1.1 5 0.8 1.9 0.7 1 0.7 0.2 1.2-0.5 3.7-3.6 2.2-1.6 2.2-0.7 1.9-0.2 1.8 0.2 2.2 0.6 12.6 4.7 4.1 1.2 4.1 0.8 4.4 0.6 4.9 0.2 5.1-0.2 6-0.5 11.1-1.7 13.7-2.8 17.8-4.4 25.9-6.8"/>
<path transform="translate(-79.8,-36.5)" d="M37.1,-10.1l28.1-7.8 18.9-5.7 14.5-5 11.5-4.8 4.8-2.4 4.4-2.5 7.8-5 7.4-6 12.3-11.1 2.9-2.2 2.2-1.2 2.3-0.6 1.5 0.1 2.2 0.9 3.3 2.3 0.8 0.2 0.7-0.5 0.7-1.2 0.4-1 1.1-4.7 1.1-7.6 1.1-10.4 2.3-30 3.7-65.9 1.1-13.1 0.4-2.7 0.3-1.3 0.4-0.5 0.7 2.8 1.1 11.4 3 46.5 1.5 19 0.7 7 1.1 7.1 0.4 1.8 0.8 2.1 0.7 0.5 0.7-0.9 0.8-2.5 0.7-4 0.8-5.7 1.8-21.8 3.7-58.3 0.8-7.2 0.3-2 0.4-1.2 0.4 0.3 0.3 1.1 0.8 5.6 0.7 9.3 3.7 64 2.3 28.8 1.1 9.8 1.1 7 1.1 4.1 0.4 0.8 0.7 0.8 0.7 0 0.8-0.5 3.3-4.1 2.2-2.1 1.5-0.9 2.3-0.6 2.2-0.1 2.9 0.6 12.3 4.6 3.7 1.1 3.7 0.8 4.1 0.6 3.7 0.3 4.4 0.1 4.8-0.3 5.2-0.5 6.3-0.9 14.5-2.8 18.9-4.5 28.1-7.4"/>
<path transform="translate(-78.6,-35.9)" d="M37.1,-10.1l28.1-7.8 18.9-5.7 14.5-5 11.5-4.8 8.9-4.6 7.7-5.1 7.5-5.8 12.6-11.5 2.9-2.1 2.2-1.1 2.3-0.5 1.8 0.3 1.9 1.1 3.7 3.5 0.7 0.2 0.8-0.5 1.1-2.9 0.7-3.5 1.1-7.9 1.1-10.9 2.3-31.2 3.7-68.8 1.1-13.4 0.4-2.7 0.3-1.2 0.4-0.3 0.7 3.4 0.8 7.5 3.3 54.5 1.5 19.7 0.7 7.3 1.1 7.4 0.4 1.9 0.8 2.1 0.7 0.6 0.7-1 0.8-2.5 0.7-4.2 1.1-9.6 1.9-24.5 3.3-56.3 0.8-7.9 0.3-2.3 0.4-1.5 0.4 0.1 0.3 1 0.8 5.7 0.7 9.6 3.7 66.8 1.5 21.4 1.1 12.3 1.1 9.4 0.8 4.5 0.7 3.1 0.8 1.8 0.3 0.4 0.4 0.2 0.4 0 0.7-0.6 3.7-5.5 1.9-2.1 1.8-1.3 2.3-0.8 2.2-0.1 2.9 0.6 12.6 4.6 3.7 1.1 3.8 0.8 3.7 0.5 4 0.3 4.5 0.1 4.4-0.3 5.2-0.5 6.3-0.9 14.5-2.8 18.9-4.5 28.1-7.4"/>
<path transform="translate(-77.4,-35.4)" d="M37.1,-10.1l28.1-7.8 18.9-5.7 14.5-5 11.5-4.8 8.9-4.6 7.7-5.1 7.5-5.8 12.6-11.4 2.9-2.1 2.2-1.1 2.3-0.3 1.1 0.1 1.1 0.5 2.2 1.8 3.4 4.3 0.7 0.2 0.4-0.3 0.3-0.5 0.8-2.2 0.7-3.7 1.1-8.3 1.1-11.2 2.3-32.3 3.7-71.4 1.1-13.8 0.4-2.7 0.3-1 0.4-0.2 0.7 3.9 0.8 8.3 3.3 57.4 1.5 20.4 0.7 7.5 1.1 7.7 0.4 1.9 0.8 2.3 0.7 0.6 0.7-1 0.8-2.7 0.7-4.3 1.1-9.9 1.9-25.3 3.3-59.2 1.1-11.3 0.4-1.7 0.4 0 0.3 0.8 0.8 5.7 0.7 10 3.7 69.4 1.9 26.7 1.1 11.9 1.1 8.6 1.1 5.5 0.8 1.8 0.3 0.3 0.4 0.1 0.7-0.6 3.4-6.1 2.2-3 2.2-1.9 2.3-0.8 2.2-0.2 2.9 0.6 12.6 4.5 3.7 1.1 3.8 0.8 3.7 0.5 4 0.3 4.5 0.1 4.4-0.3 5.2-0.5 6.3-0.9 14.5-2.8 18.9-4.5 28.1-7.4"/>
<path transform="translate(-76.2,-34.9)" d="M37.1,-10.1l28.1-7.8 18.9-5.7 14.5-5 11.5-4.8 8.9-4.6 7.7-5.1 7.1-5.5 12.6-11.4 2.6-1.9 2.6-1.3 1.1-0.3 1.5-0.1 1.1 0.2 1.1 0.5 1.1 0.9 1.1 1.3 3.4 5.5 0.7 0.6 0.7-0.5 0.8-2.2 0.3-1.9 1.2-7.5 1.1-10.8 1.1-13.8 1.5-23.7 3.7-73.6 0.7-10.6 0.8-6.2 0.3-0.9 0.4 0 0.7 4.3 0.8 8.9 3.3 59.9 1.5 21 0.7 7.8 1.1 7.9 0.4 2 0.8 2.3 0.7 0.6 0.7-1 0.8-2.7 0.7-4.5 1.1-10.2 1.9-26 3.3-61.7 1.1-12.1 0.4-1.9 0.4-0.2 0.3 0.7 0.8 5.8 0.7 10.1 3.7 71.7 1.5 22.9 1.1 13.1 1.1 10.3 1.2 6.9 0.3 1.6 0.8 1.9 0.3 0.2 0.4-0.1 0.7-1 3.4-7.3 2.2-3.4 2.2-2 1.5-0.7 1.1-0.2 2.6-0.1 2.6 0.5 12.6 4.6 7.1 1.7 3.7 0.5 4 0.3 4.5 0.1 4.4-0.3 5.2-0.5 6.3-0.9 14.5-2.8 18.9-4.5 28.1-7.4"/>
<path transform="translate(-75,-34.3)" d="M37.1,-10.1l28.1-7.8 18.9-5.7 14.1-4.9 11.5-4.7 8.9-4.6 4.4-2.7 3.7-2.6 7.1-5.5 12.6-11.3 2.6-1.9 2.6-1.3 1.8-0.4 1.1 0.1 1.2 0.4 1.4 1 1.1 1.3 1.2 1.7 2.9 6.2 0.4 0.5 0.4 0.1 0.3-0.3 0.8-2.4 0.3-1.9 1.2-8.1 1.1-11.3 1.1-14.2 1.5-24.2 3.7-75.5 0.7-10.8 0.8-6.2 0.3-0.8 0.4 0.1 0.7 4.7 0.8 9.4 3.3 61.9 1.5 21.5 0.7 7.9 1.1 8.2 0.4 2 0.8 2.4 0.7 0.6 0.7-1 1.2-5 1.1-8.8 0.7-8.3 1.5-22.3 3.3-63.7 1.1-12.8 0.4-2.1 0.4-0.3 0.3 0.6 0.8 5.8 0.7 10.4 3.7 73.5 1.5 23.4 1.1 13.6 1.1 10.7 1.2 7.4 0.3 1.8 0.8 2 0.3 0.1 0.4-0.3 0.4-0.7 2.9-7.8 2.3-4.2 1.4-1.8 1.2-1 1.1-0.7 1.8-0.7 2.6-0.1 2.6 0.5 12.6 4.6 7.1 1.7 3.7 0.5 4.4 0.3 4.5 0.1 4.4-0.3 5.6-0.6 5.9-0.8 14.1-2.8 18.9-4.5 28.1-7.4"/>
<path transform="translate(-73.9,-33.8)" d="M37.1,-10.1l28.1-7.8 18.6-5.6 14-4.8 11.5-4.8 8.9-4.5 7.8-4.9 7.8-6.1 13-11.6 2.9-2 2.2-1 1.5-0.2 1.5 0.2 1.5 0.8 1.1 1.1 1.1 1.5 1.1 2.1 3 7.7 0.4 0.2 0.3-0.1 0.8-2.7 0.3-2.2 1.2-8.7 2.2-26.1 1.5-24.7 3.7-76.9 0.7-10.9 0.8-6.2 0.3-0.8 0.4 0.2 0.7 5 0.8 9.8 3.3 63.4 1.5 21.8 0.7 8.1 1.1 8.3 0.4 2 0.8 2.5 0.7 0.7 0.7-1.1 1.2-5.1 1.1-8.9 0.7-8.5 1.5-22.6 2.6-51.8 1.1-18.9 0.4-4.7 0.7-5.4 0.4-0.4 0.3 0.6 0.8 5.8 0.7 10.5 3.7 74.9 1.5 23.8 1.1 13.9 1.1 11.1 1.2 8.1 0.3 2 0.8 2.3 0.3-0.1 0.4-0.5 3-9.2 1.1-2.7 1.1-2.1 1.1-1.7 1.5-1.6 1.5-1 1.5-0.6 2.2-0.3 2.9 0.5 3 0.9 10 3.7 4.1 1.1 3.7 0.7 3.7 0.5 4.1 0.3 4.4-0.1 4.5-0.2 5.5-0.6 6-0.9 14-2.8 18.6-4.4 28.1-7.4"/>
<path transform="translate(-72.7,-33.2)" d="M37.1,-10.1l28.1-7.8 18.6-5.6 14-4.8 11.5-4.8 8.9-4.5 7.8-4.9 7.8-6.1 12.6-11.3 3-2.1 2.5-1.1 1.5-0.2 1.5 0.2 1.5 0.8 1.5 1.6 1.1 1.8 1.1 2.4 1.1 3.2 1.5 5.2 0.4 0.6 0.3 0 0.8-3.3 1.5-11.8 2.2-26.6 1.5-24.9 3.7-77.7 0.7-11.1 0.8-6.2 0.3-0.7 0.4 0.2 0.4 2.2 1.1 13 3.3 64.3 1.5 22.1 0.7 8.1 1.1 8.4 0.4 2.1 0.8 2.5 0.7 0.7 0.7-1.1 1.2-5.2 1.1-9 0.7-8.5 1.5-22.9 3.7-71.7 0.4-4.8 0.7-5.6 0.4-0.4 0.3 0.5 0.8 5.8 0.7 10.7 3.7 75.7 1.5 24.1 2.2 25.4 1.5 11 0.8 2.9 0.3-0.2 0.4-0.8 2.6-9.8 2.2-5.4 1.5-2.4 1.5-1.6 1.5-1.1 1.5-0.6 2.5-0.2 3 0.5 12.6 4.5 4.1 1.1 3.7 0.7 3.7 0.5 4.1 0.3 4.4-0.1 4.5-0.2 5.5-0.6 6-0.9 14-2.8 18.6-4.4 28.1-7.4"/>
<path transform="translate(-71.5,-32.7)" d="M37.1,-10.1l28.1-7.8 18.6-5.6 14-4.8 11.5-4.8 8.9-4.5 7.8-4.9 7.8-6.1 12.6-11.3 3-2.1 2.5-1.1 1.5-0.2 1.5 0.2 1.5 0.9 1.5 1.6 1.1 1.8 1.1 2.5 1.5 4.6 1.1 4.6 0.4 0.9 0.3 0.2 0.8-3.9 1.5-12.3 2.2-26.8 1.5-25 3.7-78 0.7-11.1 0.8-6.2 0.3-0.7 0.4 0.2 0.4 2.2 1.1 13.2 3.3 64.5 1.5 22.2 0.7 8.2 1.1 8.4 0.4 2.1 0.8 2.5 0.7 0.7 0.7-1.1 1.2-5.2 1.1-9.1 0.7-8.5 1.5-23 3.7-72 0.4-4.8 0.7-5.7 0.4-0.4 0.3 0.5 0.8 5.8 0.7 10.7 3.7 76 1.5 24.2 2.2 25.5 1.5 11.6 0.8 3.5 0.3-0.4 0.4-1.1 1.1-5.3 1.5-5.3 2.2-5.5 1.5-2.4 1.5-1.7 1.5-1 1.5-0.6 2.5-0.3 3 0.5 12.6 4.5 4.1 1.1 3.7 0.7 3.7 0.5 4.1 0.3 4.4-0.1 4.5-0.2 5.5-0.6 6-0.9 14-2.8 18.6-4.4 28.1-7.4"/>
<path transform="translate(-70.3,-32.1)" d="M37.1,-10.1l28.1-7.8 18.6-5.6 14-4.8 11.5-4.8 8.9-4.5 7.8-4.9 7.8-6.1 12.6-11.3 3-2.1 2.5-1.1 1.5-0.2 1.5 0.2 1.5 0.8 1.5 1.6 1.1 1.8 1.1 2.4 1.1 3.2 1.5 5.2 0.4 0.6 0.3 0 0.8-3.3 1.5-11.8 2.2-26.6 1.5-24.9 3.7-77.7 0.7-11.1 0.8-6.2 0.3-0.7 0.4 0.3 0.4 2.1 1.1 13 3.3 64.3 1.5 22.1 0.7 8.1 1.1 8.4 0.4 2.1 0.8 2.5 0.7 0.7 0.7-1.1 1.2-5.2 1.1-9 0.7-8.5 1.5-22.9 3.7-71.7 0.4-4.7 0.7-5.7 0.4-0.4 0.3 0.5 0.8 5.8 0.7 10.7 3.7 75.7 1.5 24.1 2.2 25.4 1.5 11 0.8 2.9 0.3-0.2 0.4-0.8 2.6-9.8 2.2-5.4 1.5-2.4 1.5-1.6 1.5-1.1 1.5-0.6 2.5-0.2 3 0.5 12.6 4.5 4.1 1.1 3.7 0.7 3.7 0.5 4.1 0.3 4.4-0.1 4.5-0.2 5.5-0.6 6-0.9 14-2.8 18.6-4.4 28.1-7.4"/>
<path transform="translate(-69.1,-31.6)" d="M37.1,-10.1l28.1-7.8 18.6-5.6 14-4.8 11.5-4.8 8.9-4.5 7.8-4.9 7.8-6.1 12.6-11.3 3-2.1 2.5-1.2 1.5-0.2 1.5 0.2 1.5 0.8 1.1 1.1 1.1 1.5 1.1 2.1 3 7.6 0.4 0.3 0.3-0.1 0.8-2.7 0.3-2.2 1.2-8.7 2.2-26.1 1.5-24.7 3.7-76.9 0.7-10.9 0.8-6.2 0.3-0.8 0.4 0.2 0.7 5 0.8 9.8 3.3 63.4 1.5 21.8 0.7 8.1 1.1 8.3 0.4 2 0.8 2.5 0.7 0.7 0.7-1.1 1.2-5.1 1.1-8.9 0.7-8.5 1.5-22.6 2.6-51.8 1.1-18.9 0.4-4.7 0.7-5.4 0.4-0.4 0.3 0.6 0.8 5.8 0.7 10.5 3.7 74.9 1.5 23.8 1.1 13.9 1.1 11.1 1.2 8.1 0.3 2 0.8 2.2 0.3 0 0.4-0.5 3-9.2 1.1-2.7 1.1-2.1 1.1-1.7 1.5-1.6 1.5-1 1.5-0.6 2.5-0.2 3 0.5 12.6 4.5 4.1 1.1 3.7 0.7 3.7 0.5 4.1 0.3 4.4-0.1 4.5-0.2 5.5-0.6 6-0.9 14-2.8 18.6-4.4 28.1-7.4"/>
<path transform="translate(-67.9,-31)" d="M37.1,-10.1l28.1-7.8 18.9-5.7 14.1-4.9 11.5-4.7 8.9-4.6 4.4-2.7 3.7-2.6 7.1-5.5 12.6-11.3 2.6-1.9 2.6-1.3 1.8-0.4 1.1 0.1 1.2 0.4 1.4 1 1.1 1.3 1.2 1.7 2.9 6.2 0.4 0.5 0.4 0.1 0.3-0.3 0.8-2.4 0.3-2 1.2-8 1.1-11.3 1.1-14.2 1.5-24.2 3.7-75.5 0.7-10.8 0.8-6.2 0.3-0.8 0.4 0.1 0.7 4.7 0.8 9.4 3.3 61.9 1.5 21.5 0.7 7.9 1.1 8.2 0.4 2 0.8 2.4 0.7 0.6 0.7-1 1.2-5 1.1-8.8 0.7-8.3 1.5-22.3 3.3-63.7 1.1-12.8 0.4-2.1 0.4-0.3 0.3 0.6 0.8 5.8 0.7 10.4 3.7 73.5 1.5 23.4 1.1 13.6 1.1 10.7 1.2 7.4 0.3 1.8 0.8 1.9 0.3 0.2 0.4-0.3 0.4-0.7 2.9-7.8 2.3-4.2 1.4-1.8 1.2-1 1.1-0.7 1.8-0.7 2.6-0.1 2.6 0.5 12.6 4.6 7.1 1.7 3.7 0.5 4.4 0.3 4.5 0.1 4.4-0.3 5.6-0.6 5.9-0.8 14.1-2.8 18.9-4.5 28.1-7.4"/>
<path transform="translate(-66.7,-30.5)" d="M37.1,-10.1l28.1-7.8 18.9-5.7 14.5-5 11.5-4.8 8.9-4.6 7.7-5.1 7.1-5.5 12.6-11.4 2.6-1.9 2.6-1.3 1.1-0.3 1.5-0.1 1.1 0.2 1.1 0.5 1.1 0.9 1.1 1.3 3.4 5.5 0.7 0.6 0.7-0.5 0.8-2.3 0.3-1.8 1.2-7.5 1.1-10.8 1.1-13.8 1.5-23.7 3.7-73.6 0.7-10.6 0.8-6.2 0.3-0.9 0.4 0 0.7 4.3 0.8 8.9 3.3 59.9 1.5 21 0.7 7.8 1.1 7.9 0.4 1.9 0.8 2.4 0.7 0.6 0.7-1 0.8-2.8 0.7-4.4 1.1-10.2 1.9-26 3.3-61.7 1.1-12.1 0.4-1.9 0.4-0.2 0.3 0.7 0.8 5.8 0.7 10.2 3.7 71.6 1.5 22.9 1.1 13.1 1.1 10.3 1.2 6.9 0.3 1.6 0.8 1.9 0.3 0.2 0.4-0.1 0.7-1 3.4-7.3 2.2-3.4 2.2-2 1.5-0.7 1.1-0.2 2.6-0.1 2.6 0.5 12.6 4.6 7.1 1.7 3.7 0.5 4 0.3 4.5 0.1 4.4-0.3 5.2-0.5 6.3-0.9 14.5-2.8 18.9-4.5 28.1-7.4"/>
<path transform="translate(-65.5,-30)" d="M37.1,-10.1l28.1-7.8 18.9-5.7 14.5-5 11.5-4.8 8.9-4.6 7.7-5.1 7.5-5.8 12.6-11.4 2.9-2.1 2.2-1.1 2.3-0.3 1.1 0.1 1.1 0.5 2.2 1.8 3.4 4.3 0.7 0.2 0.4-0.3 0.3-0.5 0.8-2.2 0.7-3.7 1.1-8.3 1.1-11.2 2.3-32.3 3.7-71.4 1.1-13.8 0.4-2.7 0.3-1 0.4-0.2 0.7 3.9 0.8 8.3 3.3 57.4 1.5 20.4 0.7 7.5 1.1 7.7 0.4 1.9 0.8 2.2 0.7 0.7 0.7-1.1 0.8-2.6 0.7-4.3 1.1-9.9 1.9-25.3 3.3-59.2 1.1-11.3 0.4-1.7 0.4 0 0.3 0.8 0.8 5.8 0.7 9.9 3.7 69.4 1.9 26.7 1.1 11.9 1.1 8.6 1.1 5.5 0.8 1.8 0.3 0.3 0.4 0.1 0.7-0.6 3.4-6.1 2.2-3 2.2-1.9 2.3-0.8 2.2-0.2 2.9 0.6 12.6 4.5 3.7 1.1 3.8 0.8 3.7 0.5 4 0.3 4.5 0.1 4.4-0.3 5.2-0.5 6.3-0.9 14.5-2.8 18.9-4.5 28.1-7.4"/>
<path transform="translate(-64.3,-29.4)" d="M37.1,-10.1l28.1-7.8 18.9-5.7 14.5-5 11.5-4.8 8.9-4.6 7.7-5.1 7.5-5.8 12.6-11.5 2.9-2.1 2.2-1.1 2.3-0.5 1.8 0.3 1.9 1.1 3.7 3.5 0.7 0.2 0.8-0.6 1.1-2.8 0.7-3.5 1.1-8 1.1-10.8 2.3-31.2 3.7-68.8 1.1-13.4 0.4-2.7 0.3-1.1 0.4-0.4 0.7 3.4 0.8 7.5 3.3 54.5 1.5 19.7 0.7 7.3 1.1 7.4 0.4 1.9 0.8 2.1 0.7 0.6 0.7-1 0.8-2.5 0.7-4.2 1.1-9.6 1.9-24.5 3.3-56.3 0.8-7.9 0.3-2.3 0.4-1.5 0.4 0.1 0.3 1 0.8 5.7 0.7 9.6 3.7 66.8 1.5 21.4 1.1 12.3 1.1 9.4 0.8 4.5 0.7 3.1 0.8 1.8 0.3 0.4 0.4 0.2 0.4 0 0.7-0.6 3.7-5.5 1.9-2.1 1.8-1.3 2.3-0.8 2.2-0.1 2.9 0.6 12.6 4.6 3.7 1.1 3.8 0.8 3.7 0.5 4 0.3 4.5 0.1 4.4-0.3 5.2-0.5 6.3-0.9 14.5-2.8 18.9-4.5 28.1-7.4"/>
<path transform="translate(-63.1,-28.9)" d="M37.1,-10.1l28.1-7.8 18.9-5.7 14.5-5 11.5-4.8 4.8-2.4 4.4-2.5 7.8-5 7.4-6 12.3-11.2 2.9-2.2 2.2-1.1 2.3-0.6 1.5 0.1 2.2 0.9 3.3 2.3 0.8 0.1 0.7-0.4 0.7-1.2 0.4-1 1.1-4.7 1.1-7.6 1.1-10.4 2.3-30 3.7-65.9 1.1-13.1 0.4-2.7 0.3-1.3 0.4-0.5 0.7 2.8 1.1 11.4 3 46.5 1.5 18.9 0.7 7.1 1.1 7.1 0.4 1.8 0.8 2 0.7 0.6 0.7-1 0.8-2.4 0.7-4.1 0.8-5.7 1.8-21.7 3.7-58.3 0.8-7.2 0.3-2 0.4-1.2 0.4 0.3 0.3 1.1 0.8 5.6 0.7 9.4 3.7 63.9 2.3 28.8 1.1 9.8 1.1 7 1.1 4.1 0.4 0.8 0.7 0.8 0.7 0 0.8-0.5 3.3-4.1 2.2-2.1 1.5-0.9 2.3-0.6 2.2-0.1 2.9 0.6 12.3 4.6 3.7 1.1 3.7 0.8 4.1 0.6 3.7 0.3 4.4 0.1 4.8-0.3 5.2-0.5 6.3-0.9 14.5-2.8 18.9-4.5 28.1-7.4"/>
<path transform="translate(-61.9,-28.3)" d="M37.1,-10.1l25.9-7.2 17.8-5.3 13.7-4.5 11.1-4.3 5.6-2.5 5.2-2.7 5.2-3 4.4-2.9 4.1-3.1 4.1-3.4 12.6-11.5 4-3 1.9-0.8 2.2-0.4 2.2 0.3 3.7 1.6 1.2 0 0.7-0.7 1.1-2.4 1.1-4.7 1.1-7.3 1.1-10 2.3-28.8 3.7-62.9 1.1-12.6 0.4-2.8 0.3-1.3 0.4-0.7 0.4 0.7 0.3 1.5 1.1 10.1 3 43.3 1.9 21.5 1.1 8.3 0.7 3.5 0.8 2 0.7 0.5 0.7-0.9 0.8-2.4 0.7-3.9 0.8-5.5 1.8-20.8 3.7-54.4 0.8-6.3 0.3-1.7 0.4-0.9 0.4 0.5 0.3 1.1 0.8 5.7 0.7 8.9 3.7 60.9 1.9 23.7 1.1 10.5 1.1 7.5 1.1 5 0.8 1.9 0.7 1 0.7 0.2 1.2-0.5 3.7-3.6 2.2-1.6 2.2-0.7 1.9-0.2 1.8 0.2 2.2 0.6 12.6 4.7 4.1 1.2 4.1 0.8 4.4 0.6 5.2 0.2 5.2-0.2 5.6-0.5 11.1-1.7 13.7-2.8 17.8-4.4 25.9-6.8"/>
<path transform="translate(-60.8,-27.8)" d="M37.1,-10.1l26.6-7.4 18.2-5.4 13.7-4.6 11.5-4.6 5.2-2.4 5.2-2.7 4.8-2.9 4.4-3 3.8-2.8 4-3.4 12.3-11.3 4-3 1.9-1 2.2-0.5 2.2 0.1 3.4 0.8 1.1-0.3 0.7-0.6 0.8-1.1 0.7-2 1.1-4.6 1.1-7.1 1.1-9.6 2.3-27.5 3.7-59.7 1.1-12.3 0.4-2.7 0.7-2.3 0.4 0.4 0.3 1.1 1.1 8.8 3.4 44.5 1.5 15.7 1.1 8 0.7 3.3 0.8 1.9 0.7 0.5 0.7-0.9 1.2-4.1 1.1-7.2 0.7-6.8 1.5-17.8 2.6-37.1 1.1-11.4 0.4-2.4 0.3-1.3 0.4-0.6 0.7 1.9 0.8 5.6 0.7 8.6 3.7 57.7 2.3 26.3 1.1 9 1.1 6.5 1.1 4 0.7 1.6 0.8 0.7 0.7 0.2 1.1-0.4 3.4-2.6 2.2-1.3 2.2-0.6 1.9-0.1 1.8 0.3 2.2 0.6 12.3 4.7 4 1.2 3.8 0.8 4.4 0.6 4.8 0.3 5.2-0.1 5.2-0.4 11.5-1.7 13.7-2.8 18.2-4.4 26.6-7"/>
<path transform="translate(-59.6,-27.2)" d="M37.1,-10.1l27.4-7.6 18.5-5.6 14.1-4.8 11.5-4.6 5.2-2.5 4.8-2.6 4.4-2.7 4.5-3.1 6.7-5.4 11.8-11 4.5-3.6 2.2-1.2 2.2-0.8 1.9-0.1 2.9 0.2 1.1-0.2 0.8-0.4 0.7-0.8 0.8-1.4 0.7-2 1.1-4.6 1.1-6.9 1.1-9.2 2.3-26.2 3.7-56.4 1.1-11.9 0.4-2.7 0.7-2.6 0.4 0.1 0.3 0.8 1.1 7.4 3.8 44.8 1.4 13.4 0.8 4.6 0.7 3.2 0.8 1.8 0.7 0.4 0.7-0.8 0.8-2.2 0.7-3.6 0.8-5 1.4-14.2 3.8-46.8 1.1-8 0.3-1 0.4-0.3 0.4 0.8 0.3 1.4 0.8 5.5 0.7 8.3 3.7 54.4 2.3 25 1.1 8.6 1.1 6.3 0.7 2.9 0.8 2 0.7 1.3 0.7 0.6 0.8 0.2 1.1-0.3 3.7-2.1 1.5-0.7 2.2-0.5 1.9 0.1 1.8 0.2 2.6 0.8 12.6 4.9 6.3 1.7 4.5 0.6 4.4 0.3 4.8 0 5.2-0.3 11.5-1.5 14.1-2.8 18.5-4.5 27.4-7.2"/>
<path transform="translate(-58.4,-26.7)" d="M37.1,-10.1l28.1-7.8 18.9-5.7 14.5-5 11.5-4.8 5.2-2.6 4.4-2.5 4.1-2.5 4.4-3.2 6.3-5.1 11.9-11.2 4.4-3.5 1.9-1.1 2.2-0.9 5.2-0.8 1.1-0.6 0.8-0.8 0.7-1.2 0.7-1.7 1.5-5.7 1.1-6.7 1.1-8.8 2.3-24.9 4-57.5 1.2-9.9 0.7-2.8 0.4-0.2 0.3 0.5 0.4 1.3 1.1 7.8 3.4 37.2 1.4 12.5 0.8 4.3 0.7 3 0.8 1.6 0.7 0.5 0.7-0.9 0.8-2.1 0.7-3.3 0.8-4.7 1.4-13.3 3.8-42.3 1.1-6.6 0.3-0.7 0.4 0 0.4 0.9 0.3 1.5 0.8 5.5 0.7 7.9 3.7 51.1 2.3 23.7 1.1 8.3 1.1 6.1 1.5 4.9 0.7 1.3 0.7 0.8 0.8 0.4 1.1 0 5.2-2 2.2-0.3 1.9 0.1 1.8 0.3 2.6 0.8 11.9 4.8 6.3 1.7 4.4 0.7 4.1 0.4 4.4 0.1 5.2-0.3 5.2-0.5 6.3-0.9 14.5-2.8 18.9-4.5 28.1-7.4"/>
<path transform="translate(-57.2,-26.1)" d="M37.1,-10.1l28.9-8.1 18.9-5.7 14.4-5 6.3-2.5 5.2-2.4 4.8-2.4 4.5-2.5 4.4-2.8 4.1-3 6.3-5.2 11.5-10.9 4.4-3.6 3.4-2 5.5-1.7 1.1-0.6 0.8-0.8 1.5-2.7 1.4-5 1.2-5.7 1.4-10.9 2.3-23.6 4-54 1.2-9.6 0.7-3.1 0.4-0.4 0.3 0.1 0.4 1 1.1 6.3 3.4 32.9 1.4 11.5 0.8 4 0.7 2.7 0.8 1.6 0.7 0.4 0.7-0.8 0.8-2 1.5-7.5 1.4-12.3 3-31.4 1.1-8.5 0.8-2.9 0.3-0.3 0.4 0.2 0.4 1.1 1.1 7 0.7 7.5 3.7 47.9 2.3 22.4 1.4 10.1 1.2 5.1 1.4 4.2 0.8 1.2 0.7 0.7 0.8 0.3 1.1 0.1 5.5-1.3 3.4 0.1 4.4 1.3 11.5 4.7 6.3 1.8 4.1 0.7 4.4 0.5 4.5 0.1 4.8-0.2 5.2-0.5 6.3-0.8 14.4-2.8 18.9-4.5 28.9-7.6"/>
<path transform="translate(-56,-25.6)" d="M37.1,-10.1l28.9-8.1 19.2-5.8 14.9-5.2 6.3-2.5 5.2-2.4 8.1-4.4 7.4-4.9 3.7-2.8 4.1-3.5 11.5-11 3.7-3.2 4.1-2.7 5.2-2.2 1.8-1.5 1.5-2.4 1.5-4.4 1.1-5.1 1.1-6.8 2.2-19.7 4.1-50.6 1.1-11.9 1.1-7.6 0.4-1.4 0.4-0.7 0.3-0.2 0.8 1.7 1.1 6.4 3 25.9 1.4 10.3 0.8 3.6 0.7 2.5 0.8 1.4 0.7 0.3 0.7-0.7 0.8-1.8 1.5-6.9 1.4-11.1 3.4-30.3 1.1-5.5 0.4-0.8 0.3 0 0.4 0.4 0.7 3 0.4 2.5 1.1 9.9 3.7 44.7 2.3 21.1 1.4 9.6 1.5 6.3 1.5 3.6 0.7 1.1 0.8 0.6 0.7 0.4 1.1 0.1 5.2-0.6 2.3 0.1 1.8 0.4 3.7 1.2 11.5 4.8 4.1 1.3 3.7 0.8 3.3 0.5 4.1 0.4 8.1-0.1 5.2-0.4 6.3-0.8 14.9-2.8 19.2-4.6 28.9-7.6"/>
<path transform="translate(-54.8,-25.1)" d="M37.1,-10.1l29.6-8.3 19.3-5.8 14.4-5.1 6-2.4 5.9-2.8 8.5-4.6 7.4-5.1 7.4-6.2 11.2-10.7 3.3-3 3.3-2.4 5.6-3 1.8-1.6 1.5-2.4 1.5-3.9 1.1-4.5 1.5-8.4 2.2-18.6 5.2-58.5 1.1-7.5 0.4-1.5 0.7-1.4 0.4 0.2 0.4 0.7 1.1 4.9 3 21.9 1.4 9 0.8 3.1 0.7 2.2 0.8 1.2 0.7 0.3 0.7-0.7 0.8-1.6 1.5-6.1 1.4-9.8 2.6-21 1.2-6.6 0.3-1.4 0.8-1.3 0.3 0.3 0.4 0.7 0.7 3.1 1.2 8.4 4 45.1 1.5 13.9 1.1 8.4 1.1 6.6 1.5 6.2 1.5 3.6 0.7 1.1 1.2 1 1.8 0.6 5.6 0 3.3 0.7 3.3 1.1 11.2 4.8 3.7 1.2 3.7 1 3.7 0.6 3.7 0.4 4.1 0.2 4.4-0.1 5.9-0.5 6-0.8 14.4-2.7 19.3-4.5 29.6-7.8"/>
<path transform="translate(-53.6,-24.5)" d="M37.1,-10.1l29.6-8.3 19.6-6 14.9-5.2 5.9-2.5 5.9-2.7 8.6-4.8 3.7-2.4 4-3 7.1-6.1 13.7-13.2 3.3-2.6 5.2-3.3 1.9-1.7 1.8-2.9 1.5-4.1 1.1-4.3 1.5-8.1 2.2-17.6 5.2-54.5 0.8-5.4 0.7-3.7 0.7-1.8 0.4-0.1 0.4 0.3 0.3 0.7 1.2 4.4 2.6 15.9 1.4 7.5 0.8 2.6 0.7 1.8 0.8 1 0.7 0.2 0.7-0.6 0.8-1.4 1.5-5.2 1.4-8.3 2.3-15.1 1.1-5.9 0.7-2.2 0.4-0.5 0.4-0.1 0.7 1.4 0.7 3.3 1.2 8.1 4.4 45.2 1.1 9.6 1.5 10.2 1.5 7.3 1.5 4.7 1.4 2.8 0.8 0.8 1.1 0.8 1.5 0.5 5.2 0.5 3.3 0.8 3.3 1.2 10.4 4.6 3.4 1.2 3.7 1 4 0.8 3.7 0.5 4.1 0.2 4.5-0.1 5.9-0.4 5.9-0.8 7.1-1.1 7.8-1.6 19.6-4.6 29.6-7.8"/>
<path transform="translate(-52.4,-24)" d="M37.1,-10.1l30.3-8.5 19.7-6 7.8-2.7 7-2.6 5.9-2.5 6-2.8 8.5-4.9 4.1-2.7 4.1-3.1 7-6.2 12.6-12.4 3.3-2.8 4.8-3.5 1.9-1.7 1.9-2.9 1.4-3.6 1.5-5.5 1.5-7.7 2.2-16.6 5.2-50.6 1.5-9 0.7-2.2 0.4-0.4 0.4-0.1 0.7 1 0.8 2.2 2.6 11.9 1.4 5.8 0.8 2 0.7 1.3 0.8 0.8 0.7 0.1 0.7-0.5 0.8-1.2 1.5-4.1 1.4-6.6 2.3-11.7 1.1-4.2 0.7-1.4 0.4-0.1 0.4 0.2 0.3 0.7 1.1 4.5 0.8 4.8 5.2 47.8 2.2 15.4 1.5 6.9 1.5 4.7 0.7 1.6 1.1 1.7 0.8 0.8 1.1 0.8 1.8 0.6 4.5 0.8 3.3 0.9 12.6 5.6 3.7 1.4 3.3 1 4.1 0.9 4.1 0.6 4.4 0.3 4.5-0.1 5.6-0.3 6.3-0.8 6.6-1.1 8.2-1.6 19.6-4.6 30-7.9"/>
<path transform="translate(-51.2,-23.4)" d="M37.1,-10.1l30.3-8.5 19.7-6 7.8-2.7 7-2.6 5.9-2.5 6-2.8 4.8-2.6 4.4-2.8 4.1-2.8 4.1-3.1 6.3-5.7 13-12.9 7.4-6.1 1.5-1.4 1.8-2.5 1.9-4.1 1.4-4.9 1.5-6.9 1.1-6.6 1.5-10.9 5.2-46.8 1.5-8.9 0.7-2.5 0.8-1.1 0.3-0.1 0.4 0.2 0.8 1.2 2.9 8.9 1.1 2.7 0.8 1.3 0.7 0.8 0.8 0.4 0.7-0.1 0.7-0.3 0.8-0.8 1.5-2.9 1.4-4.6 1.9-6.9 1.1-3.2 0.4-0.7 0.7-0.5 0.8 0.7 1.1 3.7 1.1 6.5 5.2 44 2.2 14.3 1.5 6.6 1.8 5.4 0.8 1.5 1.1 1.5 1.1 1.1 1.1 0.6 8.5 2.6 13 5.9 6.3 2.2 4.1 1 4.1 0.6 4.4 0.3 4.8 0 6-0.3 5.9-0.8 7-1.1 7.8-1.5 19.7-4.7 30.3-7.9"/>
<path transform="translate(-50,-22.9)" d="M37.1,-10.1l30.3-8.5 20.1-6.1 8.1-2.8 7.1-2.7 5.9-2.5 5.9-2.9 4.8-2.7 4.5-2.8 4.1-2.8 4-3.3 6.3-5.7 12.3-12.4 8.5-7.8 1.8-2.5 1.9-3.7 1.5-4.4 1.5-6.1 1.4-8.1 1.5-10.2 4.1-34.5 1.5-11 1.1-6.1 0.7-2.8 0.8-1.6 0.7-0.7 0.4 0 0.7 0.5 2.3 3.2 1.1 1.2 1.1 0.6 1.5 0.1 2.2-0.8 1.5-1.2 1.4-2.3 2.3-4.4 0.7-0.9 0.4-0.2 0.7 0.3 0.8 1.2 1.1 4 1.1 6.1 5.2 40.3 1.5 9.4 1.1 5.6 1.5 5.8 1.8 4.8 1.9 2.7 1.1 1 1.5 0.9 7.7 2.7 12.3 5.9 6.6 2.4 4.1 1 4.5 0.7 4.4 0.3 4.5 0 5.5-0.3 6.3-0.7 6.7-1.1 8.1-1.6 20.1-4.7 30.3-7.9"/>
<path transform="translate(-48.8,-22.3)" d="M37.1,-10.1l30.3-8.5 20.1-6.1 8.1-2.8 7.1-2.7 5.9-2.5 5.9-2.9 4.8-2.7 4.5-2.8 4.4-3.1 4.1-3.3 5.9-5.4 11.9-12.3 7.8-7.4 2.6-3.3 1.8-3.5 1.9-5.2 1.5-5.9 1.4-7.7 1.5-9.4 5.2-39.3 1.1-6.5 1.1-4.6 0.8-2.1 1.1-1.8 0.7-0.5 2.6-1.1 2.6-2.4 1.5-1 0.7 0 0.8 0.2 2.6 1 2.6-0.3 0.7 0.1 1.1 1.2 0.8 1.6 1.1 4.1 1.1 5.9 5.2 36.5 1.5 8.6 1.4 6.9 1.5 5.1 1.9 4.2 1.8 2.5 1.1 1 1.5 0.9 7.8 3.2 11.9 5.8 5.9 2.3 4.1 1 4.4 0.8 4.5 0.4 4.8 0.1 5.9-0.4 5.9-0.6 7.1-1.2 8.1-1.6 20.1-4.7 30.3-7.9"/>
<path transform="translate(-47.6,-21.8)" d="M37.1,-10.1l30.7-8.6 20-6.1 8.2-2.9 7-2.7 6.3-2.7 5.6-2.7 5.2-2.9 4.4-2.9 4.5-3.2 4-3.4 6.7-6.3 10-10.6 8.2-8.2 2.6-3.4 1.8-3.6 1.9-5.2 1.5-5.6 1.4-7.2 1.5-8.7 5.2-35.7 1.1-5.9 1.1-4.7 1.5-4.3 3-6.4 3.3-9.2 0.8-1.3 0.7-0.5 0.7 0.1 0.8 0.9 3.3 7.4 3 4.8 1.5 3.5 1.1 4.1 1.1 5.3 5.2 32.9 1.5 7.9 1.4 6.4 1.5 4.8 1.9 4.2 1.8 2.5 1.1 1.1 1.5 1 8.2 3.8 10 5.2 6.7 2.7 4 1.2 4.5 0.8 4.4 0.5 5.2 0.1 5.6-0.3 6.3-0.7 7-1.1 8.2-1.6 20-4.7 30.7-8"/>
<path transform="translate(-46.5,-21.2)" d="M37.1,-10.1l31.1-8.7 20-6.2 8.2-2.8 7-2.7 5.9-2.6 6-2.9 5.1-2.9 4.9-3.2 4.4-3.3 4.1-3.4 6.7-6.5 17.4-18.6 2.6-3.6 1.8-3.7 1.9-5 1.5-5.4 1.4-6.7 1.5-8.1 4.1-25.5 1.9-10.2 1.4-6.1 3.7-12.6 4.1-20.2 0.8-2.2 0.7-0.9 0.7 0.5 0.8 1.8 4.1 18 1.1 3.6 2.6 6.9 1.4 5.4 1.9 9.2 4.1 23.3 1.5 7.3 1.4 5.9 1.5 4.6 1.9 4 1.8 2.6 2.6 2.2 17.4 9.3 6.7 2.8 4.1 1.3 4.4 0.9 4.9 0.5 5.1 0.2 6-0.3 5.9-0.6 7-1.1 8.2-1.6 20-4.7 31.1-8.1"/>
<path transform="translate(-45.3,-20.7)" d="M37.1,-10.1l31.5-8.8 20-6.2 8.1-2.8 7.1-2.8 6.3-2.7 5.5-2.8 5.2-3 4.5-2.9 4.8-3.6 4.4-3.8 7.4-7.4 16-17.7 2.6-3.7 2.2-4.5 1.8-5.2 1.9-6.9 2.2-10.7 5.2-28.3 1.5-6.3 2.6-9.2 1.1-4.9 1.5-9.2 3.3-25.9 0.8-3.3 0.7-1.4 0.7 1 0.8 2.9 3.3 24.1 1.5 8.4 1.1 4.3 2.6 7.8 1.5 5.5 5.2 25.5 2.2 9.4 1.9 6 1.8 4.2 2.2 3.3 2.6 2.3 2.2 1.4 13.8 7.7 3.7 1.8 3.7 1.6 4.4 1.4 4.8 1 4.5 0.5 5.2 0.2 5.5-0.3 6.3-0.6 7.1-1.1 8.1-1.5 20-4.7 31.5-8.2"/>
<path transform="translate(-44.1,-20.1)" d="M37.1,-10.1l31.5-8.8 20.3-6.3 8.2-2.9 7-2.7 6-2.6 5.9-3 5.2-3 4.8-3.2 4.5-3.4 4.4-3.9 4.1-3.9 4.1-4.4 11.8-13.4 3-3.5 2.2-3.3 1.9-3.4 1.8-4.5 1.5-4.7 2.6-10.4 5.2-25 1.5-5.8 2.5-8.5 1.2-4.7 1.1-6.6 0.7-6.1 3.7-40.3 0.8-4.9 0.7-1.9 0.7 1.5 0.8 4.5 3.7 38.3 0.7 5.7 1.1 6 1.2 4.1 2.5 7.1 1.5 4.9 5.2 22.3 2.6 9 1.5 3.8 1.8 3.6 1.9 2.4 2.2 2 3 2 11.8 7 4.1 2.1 4.1 1.8 4.4 1.5 4.5 1 4.8 0.6 5.2 0.2 5.9-0.3 6-0.6 7-1 8.2-1.6 20.3-4.7 31.5-8.2"/>
<path transform="translate(-42.9,-19.6)" d="M37.1,-10.1l31.5-8.8 20.3-6.3 8.2-2.9 7-2.7 6.7-3 5.6-2.8 5.2-3 5.1-3.6 4.5-3.4 4.4-4 4.1-4.1 4.8-5.2 10.4-12.1 3.3-4.2 1.9-2.8 1.9-3.5 1.4-3.4 1.5-4.2 2.2-7.8 5.6-23.4 1.5-4.9 2.9-7.9 1.2-4.7 1.1-7.7 1.1-11.9 3.3-49.7 0.8-6.9 0.7-2.7 0.7 2.3 0.8 6.5 3.3 47.9 1.1 11.3 1.1 7.1 1.2 4.1 2.9 6.3 1.5 4.1 5.6 20.4 2.2 6.6 1.5 3.4 1.4 2.6 1.9 2.5 1.9 1.8 3.3 2.4 10.4 6.4 4.8 2.7 4.1 1.9 4.4 1.5 4.5 1.1 5.1 0.7 5.2 0.3 5.6-0.2 6.7-0.7 7-1 8.2-1.6 20.3-4.7 31.5-8.2"/>
<path transform="translate(-41.7,-19.1)" d="M37.1,-10.1l32.2-9 20.4-6.4 8.1-2.8 7.1-2.8 6.7-3 5.5-2.9 5.2-3.1 5.2-3.6 4.4-3.6 4.5-4 4.8-5 4.8-5.4 8.9-10.7 3.7-4.9 3-5 2.6-6.1 2.6-8 5.5-20.4 1.5-3.9 3.3-6.1 1.2-4.3 1.1-8.2 0.7-8.6 1.1-18.3 2.6-52.1 0.8-9.6 0.7-3.6 0.7 3.2 0.8 9.2 2.6 50.7 1.1 17.6 0.7 8.3 1.1 7.6 1.2 3.7 0.7 1.2 1.8 2 0.8 1.1 1.5 3.1 1.5 4.2 4 13.2 2.6 6.6 2.6 4.6 1.5 1.9 1.5 1.6 3.7 2.9 8.9 5.8 4.8 2.9 4.8 2.3 4.5 1.7 4.4 1.2 5.2 0.8 5.2 0.3 5.5-0.2 6.7-0.6 7.1-1 8.1-1.5 20.4-4.7 32.2-8.4"/>
<path transform="translate(-40.5,-18.5)" d="M37.1,-10.1l32.2-9 20.4-6.4 8.1-2.8 7.5-3 6.3-2.8 5.9-3.1 5.5-3.4 5.2-3.7 4.8-4 4.5-4.2 5.2-5.5 6.3-7.4 6.7-8.4 3.7-5.2 2.6-4.7 2.5-6.1 1.9-5.4 4.4-14.6 1.5-4 0.8-1.5 1.1-1.6 0.7-0.6 1.5-0.7 0.7-0.7 0.8-1.8 0.7-3.5 0.8-6.2 1.1-16.1 1.1-24 2.2-58.3 0.8-13 0.7-5 0.7 4.6 0.8 12.6 2.2 57.1 1.1 23.4 1.1 15.5 0.8 5.8 0.7 3.1 0.8 1.4 0.7 0.3 1.5-0.1 0.7 0.2 1.1 1 0.8 1.1 1.5 3.1 4.4 12.3 1.9 4.4 2.5 4.7 2.6 3.3 3.7 3.2 6.7 4.7 6.3 4.1 5.2 2.7 4.5 1.8 4.8 1.4 5.2 0.9 5.5 0.3 5.9-0.1 6.3-0.5 7.5-1.1 8.1-1.5 20.4-4.7 32.2-8.4"/>
<path transform="translate(-39.3,-18)" d="M37.1,-10.1l36.6-10.3 12.3-3.8 10.4-3.6 8.9-3.5 7.7-3.6 7.1-3.8 5.9-3.9 6.7-5.3 6.3-6.1 7-8 8.9-11.2 4.5-6.4 3.3-6.2 3-7.3 4.4-13 1.5-3.6 0.7-1.4 0.8-0.9 0.7-0.4 0.4-0.1 1.1 0.5 1.1 1.1 0.7 0.4 0.4-0.1 0.4-0.5 0.7-2.6 0.8-6 1.1-17.6 1.1-28.3 2.2-73.6 0.8-17.3 0.7-6.6 0.7 6.2 0.8 16.9 2.2 72.4 1.1 27.7 1.1 17 0.8 5.6 0.7 2.2 0.4 0.3 0.4-0.1 1.8-2.5 1.1-1.1 0.4-0.2 0.7 0.1 0.8 0.5 0.7 1 1.5 2.8 4.4 10.6 3 5.7 1.5 2.2 1.8 2.2 4.5 4 8.9 6.4 7 4.1 3 1.4 3.3 1.3 3.4 1 3.3 0.7 5.9 0.7 7.1 0.1 7.7-0.6 8.9-1.3 10.4-2.1 12.3-2.8 36.6-9.5"/>
<path transform="translate(-38.1,-17.4)" d="M37.1,-10.1l34.8-9.8 11.9-3.6 9.6-3.2 8.5-3.2 7.4-3.2 6.7-3.3 6.3-3.7 4.4-3.1 3.8-2.9 3.7-3.2 3.7-3.6 3.7-4 4-4.8 9.3-11.9 4.5-6.5 2.9-5.4 2.6-5.8 5.2-13.6 1.5-2.8 0.7-0.9 0.8-0.3 0.3 0 0.4 0.1 0.8 0.8 0.7 1.4 1.8 4.8 0.8 1.1 0.4-0.3 0.3-0.9 0.4-2.1 0.7-8 1.2-23.2 1.1-37.4 1.8-76.2 0.8-22.4 0.7-8.7 0.7 8.3 0.8 22 1.8 75.2 1.1 36.8 1.2 22.6 0.7 7.6 0.4 1.9 0.3 0.7 0.4 0.1 0.8-1.5 1.8-5.8 0.7-1.8 1.2-1.5 0.3-0.2 0.8-0.1 0.7 0.5 1.5 2 5.2 10.7 2.6 4.5 2.9 3.8 4.5 4.1 4.4 3.5 4.9 3.4 4 2.6 3.7 2 3.7 1.6 3.7 1.2 3.8 0.9 4.4 0.7 6.3 0.3 6.7-0.3 7.4-0.9 8.5-1.4 9.6-2 11.9-2.8 34.8-9"/>
<path transform="translate(-36.9,-16.9)" d="M37.1,-10.1l36.6-10.3 12.3-3.8 10.4-3.6 8.5-3.3 7.8-3.6 6.6-3.6 6.3-4.1 6.7-5.3 6.7-6.4 7-8.2 8.2-10.6 4.4-6.5 3-5.2 2.9-6.2 4.9-11.6 1.4-2.7 1.2-1.1 0.3-0.2 0.8 0.1 0.7 0.7 0.8 1.5 1.1 3.7 2.2 10.5 0.4 0.8 0.3 0.2 0.8-4 0.3-5 1.2-25.7 1.1-42.9 1.8-90.5 0.8-27.8 0.7-10.8 0.7 10.4 0.8 27.4 1.8 89.5 1.1 42.3 1.2 25.1 0.3 4.7 0.8 3.7 0.3-0.4 0.4-1 2.2-11.7 1.1-4.3 0.8-1.9 0.7-1.1 0.8-0.5 0.3 0 0.4 0 0.8 0.5 1.4 1.9 4.9 9 2.9 4.6 3 3.6 4.4 4.1 8.2 6.2 3.3 2.2 3.7 2.2 3.4 1.5 3.3 1.3 3.3 1 3.4 0.7 6.3 0.7 6.6 0 7.8-0.7 8.5-1.2 10.4-2.1 12.3-2.8 36.6-9.5"/>
<path transform="translate(-35.7,-16.3)" d="M37.1,-10.1l36.6-10.3 12.3-3.8 10-3.5 8.9-3.4 7.4-3.4 7-3.8 6-3.8 6.6-5.2 6.3-6.1 6-6.7 6.6-8.6 5.6-7.8 3.7-5.9 3.3-6.3 6-13.1 1.4-2.2 0.8-0.6 0.7-0.1 0.8 0.5 0.3 0.6 0.8 1.6 0.7 2.5 1.5 8.2 1.9 14.2 0.3 1.9 0.4-0.4 0.4-2.1 0.7-12.7 0.8-21.9 1.1-48 2.2-119.2 0.4-16 0.7-12.8 0.7 12.4 0.4 15.8 2.2 118 1.1 47.4 0.8 21.5 0.7 12.3 0.4 1.9 0.4 0.2 0.3-2.1 1.9-15.2 1.5-9 0.7-2.9 0.8-2 1.1-1.7 0.7-0.3 0.8 0.2 1.4 1.4 6 9.8 3.3 4.6 3.7 3.9 5.6 4.8 6.6 5 6 3.5 2.9 1.4 3.4 1.2 3.3 1 3.3 0.6 6 0.7 7 0 7.4-0.7 8.9-1.3 10-2 12.3-2.8 36.6-9.5"/>
<path transform="translate(-34.5,-15.8)" d="M37.1,-10.1l36.6-10.3 11.9-3.7 10-3.4 8.5-3.3 7.5-3.3 7-3.8 5.9-3.7 6-4.5 5.9-5.4 5.5-6 6-7.4 6.3-8.7 4.4-6.8 4.1-7.3 5.9-12.4 1.5-2.4 0.7-0.7 0.8-0.4 0.7 0.2 0.4 0.3 1.1 1.9 0.8 2.5 0.7 3.5 1.5 11.1 1.8 22.2 0.4 0.8 0.4-2 0.3-6.8 1.2-34.7 1.1-51.6 2.2-128 0.4-17.5 0.7-14.1 0.7 13.7 0.4 17.3 2.2 126.8 1.1 51 1.2 34.1 0.3 6.5 0.4 1.9 0.4-1 1.8-23.2 1.5-11.9 1.5-6.8 1.1-2.5 0.4-0.6 0.7-0.5 0.8 0 0.7 0.3 1.5 1.6 5.9 9.2 4.1 5.1 4.4 4.4 6.3 5.3 6 4.1 5.5 3.1 5.9 2.2 6 1.3 5.9 0.5 7-0.1 7.5-0.7 8.5-1.3 10-2 11.9-2.7 36.6-9.5"/>
<path transform="translate(-33.4,-15.2)" d="M37.1,-10.1l36.6-10.3 11.9-3.7 10-3.4 8.5-3.3 7.5-3.3 7-3.8 5.9-3.7 6-4.5 5.5-5.1 5.2-5.5 5.6-6.9 5.9-8.2 5.2-7.9 4.1-7.1 6.6-13.3 1.5-2.1 1.1-0.7 0.4-0.1 0.7 0.3 1.1 1.6 1.2 3.4 0.7 3.7 1.5 11.4 1.8 24.5 0.4 0.6 0.4-2.9 0.3-7.6 1.2-36.2 1.1-51.8 2.2-128.6 0.4-17.6 0.7-14.1 0.7 13.7 0.4 17.4 2.2 127.4 1.1 51.2 1.2 35.6 0.3 7.4 0.4 2.7 0.4-0.9 1.8-25.4 1.5-12.2 0.7-4.1 1.2-4 1.1-2.3 0.7-0.6 0.4-0.1 0.4-0.1 0.7 0.2 1.5 1.3 6.6 9.7 4.1 4.9 5.2 5.1 5.9 5 5.6 3.8 5.2 2.8 5.5 2.1 6 1.3 5.9 0.5 7-0.1 7.5-0.7 8.5-1.3 10-2 11.9-2.7 36.6-9.5"/>
<path transform="translate(-32.2,-14.7)" d="M37.1,-10.1l36.6-10.3 11.9-3.7 10-3.4 8.5-3.3 7.5-3.3 7-3.8 5.9-3.7 6-4.5 5.5-5.1 5.2-5.6 5.2-6.4 5.5-7.8 5.2-7.9 4.5-7.7 6.3-12.3 1.5-2.4 1.4-1.4 0.8-0.2 0.4 0.1 0.3 0.2 0.8 0.9 0.7 1.5 0.8 2.4 1.4 7.7 1.9 15.4 0.7 4.6 0.4-0.8 0.4-2.8 0.3-6.2 1.2-31.2 1.1-48.8 2.2-120.7 0.4-16.3 0.7-13 0.7 12.6 0.4 16.1 2.2 119.5 1.1 48.2 1.2 30.6 0.3 6 0.4 2.6 0.4 0.6 0.7-5 1.9-16.4 1.4-8.5 0.8-2.8 0.7-1.9 1.1-1.7 0.4-0.3 0.8-0.2 0.7 0.2 0.7 0.4 1.5 1.6 6.3 8.9 4.5 5.3 5.2 5.1 5.5 4.7 5.2 3.7 5.2 2.8 5.5 2 6 1.3 5.9 0.6 7-0.1 7.5-0.7 8.5-1.3 10-2 11.9-2.7 36.6-9.5"/>
<path transform="translate(-31,-14.2)" d="M37.1,-10.1l36.6-10.3 11.9-3.7 10-3.4 8.5-3.3 7.5-3.3 7-3.8 5.9-3.7 6-4.5 5.1-4.8 5.2-5.5 5.2-6.5 5.2-7.2 5.2-8 4.8-8.4 6.7-12.8 1.5-2.2 1.4-1.5 0.8-0.2 0.7 0.2 0.8 0.7 1.1 2.3 1.1 3.7 2.6 12.5 0.4 0.7 0.3-0.2 0.8-5.2 0.3-5.7 1.2-27.6 1.1-44.3 1.8-92.5 0.8-28.5 0.7-11.1 0.7 10.7 0.8 28.1 1.8 91.5 1.1 43.7 1.2 27 0.3 5.5 0.8 4.8 0.3 0 0.4-0.9 2.6-13.9 1.1-4.4 1.1-2.8 0.8-1.1 0.7-0.6 0.8-0.2 0.7 0.2 0.7 0.4 1.5 1.5 6.7 9.2 4.8 5.7 5.2 5.2 5.2 4.5 5.2 3.6 5.2 2.8 5.1 1.9 6 1.3 5.9 0.6 7-0.1 7.5-0.7 8.5-1.3 10-2 11.9-2.7 36.6-9.5"/>
<path transform="translate(-29.8,-13.6)" d="M37.1,-10.1l33.3-9.4 20.8-6.5 8.5-3 7.4-3.1 6.3-2.9 5.9-3.3 6.7-4.4 6.3-5.1 5.9-5.8 6-7 5.5-7.6 6-9.1 5.1-9 6.7-12.8 1.1-1.9 1.5-1.9 0.7-0.6 0.8-0.4 0.7 0.1 1.1 0.8 1.2 1.9 2.5 6.9 0.4 0.5 0.4 0.1 0.7-2.1 0.8-6.6 1.1-21.1 1.1-34.3 2.2-93.6 0.8-23.3 0.7-8.9 0.7 8.5 0.8 22.9 2.2 92.4 1.1 33.7 1.1 20.5 0.8 6.2 0.3 1.2 0.4 0.5 0.8-1 2.5-8.4 1.2-2.4 1.1-1.4 0.7-0.5 0.8 0 0.7 0.2 1.5 1.1 1.1 1.3 6.7 9.2 5.1 6.2 6 5.9 5.5 4.6 3 2.1 3 1.7 2.9 1.4 3 1.2 3 0.9 3.3 0.8 6.7 0.8 5.9 0 6.3-0.4 7.4-1 8.5-1.5 9.3-2 11.5-2.7 33.3-8.7"/>
<path transform="translate(-28.6,-13.1)" d="M37.1,-10.1l35.2-9.9 11.8-3.6 10-3.4 8.6-3.2 7.4-3.2 7-3.6 5.9-3.6 6-4.3 5.9-5.3 5.6-5.9 5.1-6.5 5.2-7.4 5.2-8.3 4.8-8.5 6.7-12.9 2.6-4 1.5-1.2 0.7-0.2 0.8 0.1 1.1 0.7 2.2 2.5 0.7 0 0.4-0.4 0.8-2.5 0.7-5.6 1.1-16 1.5-38.5 2.2-77.8 0.8-18.3 0.7-7 0.7 6.6 0.8 17.9 2.2 76.6 1.5 37.7 1.1 15.4 0.7 5.2 0.8 2.1 0.4 0.2 0.7-0.5 2.2-3.6 1.1-1.3 0.8-0.5 0.7-0.2 1.5 0.4 1.5 1.3 1.1 1.3 6.7 9.2 4.8 6 5.2 5.4 5.2 4.7 5.1 3.7 5.6 2.9 3 1.1 2.9 0.9 6 1.1 5.9 0.4 7-0.2 7.4-0.8 8.6-1.3 10-2.1 11.8-2.8 35.2-9.1"/>
<path transform="translate(-27.4,-12.5)" d="M37.1,-10.1l36.6-10.3 11.9-3.7 10-3.4 8.9-3.5 7.8-3.5 6.7-3.6 5.9-3.8 4.8-3.7 4.8-4.2 4.5-4.7 4.4-5.3 6-8.2 5.9-9.4 4.4-7.9 7.4-14.5 2.3-3.8 1.4-1.9 1.5-1.2 1.1-0.4 2.3-0.1 0.7-0.5 0.4-0.5 0.7-2 0.4-1.6 0.7-4.9 0.8-7.9 0.7-11.4 1.5-33.9 2.2-63.4 0.8-14.2 0.7-5.4 0.7 5 0.8 13.8 2.2 62.2 1.5 33.1 0.7 11 0.8 7.5 0.7 4.5 0.4 1.4 0.7 1.6 0.4 0.3 0.7 0.1 2.3-1.1 1.1-0.3 1.5 0.5 1.4 1.1 2.3 2.6 7.4 10.5 4.4 5.4 5.9 6.3 3 2.6 3 2.4 4.4 2.9 4.5 2.2 4.8 1.7 4.8 1.1 5.9 0.6 6.7 0 7.8-0.7 8.9-1.4 10-2 11.9-2.7 36.6-9.5"/>
<path transform="translate(-26.2,-12)" d="M37.1,-10.1l30.3-8.5 20.1-6.1 8.1-2.8 7.1-2.7 5.9-2.5 5.9-2.9 5.2-2.9 4.8-3.1 4.8-3.7 4.5-3.9 4.4-4.5 3.7-4.3 4.1-5.3 4.1-6 4.1-6.6 4-7.2 11.2-21.5 2.2-3.2 3.3-3.1 1.1-1.6 0.8-1.8 0.7-3 0.8-4.6 0.7-6.7 1.1-15 1.1-21.3 2.6-59.2 0.8-10.8 0.7-4.1 0.7 3.7 0.8 10.4 2.6 57.8 1.1 20.7 1.1 14.4 0.7 6.3 0.8 4.2 0.7 2.5 0.8 1.5 1.1 1 3.3 1.3 2.2 2 2.3 2.8 5.5 8.2 3.4 4.5 4 5 4.1 4.4 4.1 3.7 4.1 3.2 3.7 2.3 4.4 2.1 4.5 1.5 4.8 1 4.8 0.5 5.2 0.1 5.9-0.3 5.9-0.7 7.1-1.1 8.1-1.6 20.1-4.7 30.3-7.9"/>
<path transform="translate(-25,-11.4)" d="M37.1,-10.1l30-8.4 19.6-6 14.8-5.3 6.3-2.6 5.2-2.5 5.2-2.8 4.8-2.9 4.5-3.2 4.4-3.7 4.1-3.9 3.7-4 3.7-4.5 4.1-5.7 5.2-8.1 5.2-9.1 11.5-23 5.5-8.9 1.1-2.6 0.8-2.6 1.5-8.6 1.1-10.9 1.5-21.7 2.9-54.2 0.8-8.3 0.7-3.2 0.7 2.8 0.8 7.9 2.9 52.6 1.5 20.9 1.1 10.3 0.8 4.6 0.7 3.2 0.8 2.2 1.1 2 4.1 4.2 1.4 1.7 8.2 12.1 3.3 4.6 5.2 6.4 5.2 5.3 4.1 3.4 3.7 2.6 3.7 2 4.1 1.7 4.4 1.3 4.5 0.7 4.8 0.4 5.2 0 5.2-0.3 6.3-0.8 6.6-1.1 8.2-1.6 19.6-4.6 30-7.9"/>
<path transform="translate(-23.8,-10.9)" d="M37.1,-10.1l28.9-8.1 19.2-5.8 14.9-5.2 6.3-2.6 5.2-2.3 5.1-2.7 4.9-2.9 4.4-3 4.5-3.5 4-3.7 3.7-3.9 3.7-4.3 3.4-4.4 3.3-4.9 3.3-5.3 6.7-12 10.8-22.3 4.4-8.6 1.1-2.6 1.1-3.5 1.5-7.1 1.5-11.7 1.5-17.7 3.3-49.1 0.8-6.4 0.7-2.4 0.7 2 0.8 6 3.3 47.2 1.5 17 1.5 10.9 1.5 6.3 1.1 2.9 1.1 2 4.4 6.2 7.1 11 3.7 5.5 3.3 4.4 3.4 4 3.3 3.5 3.3 3 3.4 2.7 3.7 2.3 3.7 1.9 4 1.5 4.5 1.1 4.4 0.6 4.9 0.2 5.1-0.1 5.2-0.4 6.3-0.8 14.9-2.8 19.2-4.6 28.9-7.6"/>
<path transform="translate(-22.6,-10.3)" d="M37.1,-10.1l28.1-7.8 18.9-5.7 14.5-5 6.3-2.5 5.2-2.3 5.2-2.6 4.8-2.8 4.4-2.9 4.1-3 3.7-3.1 3.7-3.6 3.7-4.1 3.7-4.6 4.1-5.8 3.7-5.8 3.7-6.5 3.7-7 4.5-9.2 9.2-20.4 1.5-3.5 1.5-4.4 1.8-8.2 1.5-10.3 1.5-14.7 3.3-40.6 1.2-8.5 0.7-1.9 0.7 1.5 1.2 7.9 3.3 38.8 1.5 13.9 1.5 9.5 0.7 3.4 1.1 3.8 1.5 3.6 1.5 2.7 9.2 15.4 4.5 6.8 3.7 5 3.7 4.5 3.7 3.8 4.1 3.6 3.7 2.6 3.7 2.1 3.7 1.5 3.7 1.2 4.1 0.8 4.4 0.5 4.8 0.1 5.2-0.2 5.2-0.5 6.3-0.9 14.5-2.8 18.9-4.5 28.1-7.4"/>
<path transform="translate(-21.4,-9.8)" d="M37.1,-10.1l28.1-7.8 18.6-5.6 14-4.8 11.5-4.8 5.2-2.5 4.8-2.7 4.5-2.8 3.7-2.7 4.1-3.4 3.7-3.5 3.7-4 2.9-3.5 4.1-5.6 3.7-5.7 4.1-7 4.1-7.7 4.8-10.1 5.2-11.8 4.4-10.7 2.3-6.4 1.8-7.4 1.9-11 1.8-15.9 3-30.4 0.7-5.8 0.8-3.8 0.7-1.5 0.7 1.1 0.8 3.4 0.7 5.4 3 28.8 1.8 14.9 1.9 10 1.8 6.4 2.3 5.2 4.4 8.3 5.2 9 4.8 7.5 4.1 5.5 4.1 4.8 3.7 3.7 4.1 3.3 2.9 2 3.7 2 3.7 1.5 4.1 1.1 3.7 0.7 4.5 0.5 4.8 0 5.2-0.2 5.2-0.6 6.3-0.9 14-2.8 18.6-4.4 28.1-7.4"/>
<path transform="translate(-20.3,-9.3)" d="M37.1,-10.1l27.4-7.6 18.5-5.6 14.1-4.8 11.5-4.6 5.2-2.5 4.8-2.7 4.4-2.7 3.7-2.7 3.8-2.9 3.7-3.4 3.3-3.4 3.3-3.9 4.1-5.4 4.1-6.1 4.1-7 4-7.7 4.1-8.6 4.5-10.1 4.4-11 3-8.1 2.6-9.2 1.8-9.3 1.9-12.9 3.7-31.2 0.7-4.6 0.8-3 0.7-1.2 0.7 0.8 0.8 2.6 0.7 4.2 3.7 29.2 1.9 11.9 1.8 8.3 1.1 3.8 1.5 4 3 6.5 4.4 8.5 4.5 7.8 4.1 6.4 4 5.5 4.1 4.7 4.1 4 4.1 3.2 3.3 2 3.3 1.7 3.7 1.3 3.8 1 3.7 0.6 4.4 0.4 4.8 0 5.2-0.3 11.5-1.5 14.1-2.8 18.5-4.5 27.4-7.2"/>
<path transform="translate(-19.1,-8.7)" d="M37.1,-10.1l27.4-7.6 18.1-5.5 14.1-4.7 11.1-4.5 5.2-2.5 4.9-2.5 4.4-2.8 3.7-2.5 3.7-2.9 3.3-3 3.8-3.7 2.9-3.3 4.1-5.2 4.1-6 4-6.8 3.8-7 4-8.4 4.1-9.3 4.1-10 3.7-10 3-9.7 2.2-9.6 1.8-10.7 4.5-31.2 0.7-3.7 0.8-2.4 0.7-0.9 0.7 0.5 0.8 2 0.7 3.3 4.5 28.7 1.8 9.8 2.2 8.4 3 8 3.7 8.1 4.1 7.8 4.1 7.1 4 6.2 3.8 5 4 4.6 4.1 3.8 4.1 3 2.9 1.7 3.8 1.7 3.3 1.1 3.7 0.9 3.7 0.6 4.4 0.3 4.9 0 5.2-0.3 11.1-1.6 14.1-2.8 18.1-4.4 27.4-7.2"/>
<path transform="translate(-17.9,-8.2)" d="M37.1,-10.1l26.6-7.4 18.2-5.4 13.7-4.6 11.5-4.6 5.2-2.4 4.4-2.3 4.5-2.7 4.1-2.7 3.7-2.8 3.3-2.9 3.3-3.2 3.4-3.7 3.7-4.6 4.1-5.8 3.7-6 3.7-6.8 3.7-7.5 3.7-8.2 3.3-8.1 3.7-9.6 3.7-10.8 3-10.7 2.6-12.4 3.7-22.6 1.5-8 1.1-4 0.4-0.9 0.7-0.8 0.7 0.4 0.4 0.7 1.1 3.4 1.5 7.2 3.7 20.6 2.6 11 3 9.1 3.7 8.8 3.7 7.6 3.3 6.3 3.7 6.2 3.7 5.5 3.7 4.8 3.7 4 4.1 3.6 3.7 2.6 3.4 1.9 3.3 1.4 3.3 1.1 3.7 0.8 4.1 0.5 4.5 0.2 4.4 0 5.2-0.4 11.5-1.7 13.7-2.8 18.2-4.4 26.6-7"/>
<path transform="translate(-16.7,-7.6)" d="M37.1,-10.1l26.6-7.4 17.8-5.3 13.7-4.6 11.2-4.4 9.6-4.6 4.4-2.6 4.1-2.7 3.7-2.7 3.4-2.8 3.3-3.2 3.3-3.5 3.7-4.6 3.4-4.6 3.3-5.1 3.3-5.8 3.4-6.5 3.3-7 3.7-8.6 3.4-8.4 5.1-14.5 3.4-11.2 3.3-14.3 4.8-25.2 1.5-5.5 0.8-1.6 0.7-0.6 0.7 0.2 0.8 1.2 1.5 4.7 4.8 22.6 1.5 6.1 1.8 6.4 3.4 9.3 5.1 11.8 3.4 6.6 3.7 6.6 3.3 5.2 3.4 4.6 3.3 4 3.3 3.4 3.4 2.8 3.7 2.5 3.3 1.8 3.3 1.3 3.4 1 3.7 0.8 4.1 0.5 4.4 0.1 4.4-0.1 5.2-0.4 11.2-1.6 13.7-2.9 17.8-4.3 26.6-7"/>
<path transform="translate(-15.5,-7.1)" d="M37.1,-10.1l25.9-7.2 18.2-5.4 13.7-4.6 10.7-4.1 9.7-4.6 4.4-2.5 4.1-2.7 3.7-2.7 3.3-2.7 3.4-3.1 3.3-3.4 3.7-4.4 3-4 3.3-5.1 3-4.9 2.9-5.5 3.4-6.9 6.3-14.7 4.8-12.9 4.4-13.6 2.3-7.9 1.8-7.5 5.9-26.9 1.5-4.6 0.8-1.3 0.7-0.6 0.7 0.2 0.8 0.9 1.5 3.7 5.9 23.8 1.8 6.5 2.3 6.7 4.4 11.2 4.8 10.3 3 5.6 3.3 5.7 3.4 5 2.9 3.9 3 3.4 3.3 3.2 3 2.4 3.7 2.4 3.3 1.7 3.4 1.3 3.3 0.9 3.7 0.7 4.1 0.4 4.4 0.1 4.5-0.1 5.2-0.5 10.7-1.6 13.7-2.9 18.2-4.4 25.9-6.8"/>
<path transform="translate(-14.3,-6.5)" d="M37.1,-10.1l25.9-7.2 17.4-5.2 13.7-4.5 11.2-4.3 9.6-4.5 4.4-2.5 3.7-2.4 3.7-2.6 3.8-3 3.3-3 3-3.1 2.9-3.3 3.4-4.3 2.9-4.3 3-4.8 2.9-5.3 3-5.9 5.9-13.3 6.3-16.7 5.2-16 3.4-12.1 4.8-20.2 1.8-6.8 1.5-3.8 0.8-1.1 0.7-0.5 0.7 0.1 0.8 0.7 1.5 3 1.8 5.8 4.8 17.6 3.4 10.3 5.2 13.2 2.9 6.6 3.4 6.7 2.9 5.3 3 4.8 3 4.3 2.9 3.7 3 3.1 2.9 2.7 3.4 2.5 2.9 1.8 3 1.5 3.3 1.2 3.8 1 3.7 0.6 3.7 0.3 4.4 0.1 4.8-0.2 4.8-0.4 11.2-1.7 13.7-2.9 17.4-4.3 25.9-6.8"/>
<path transform="translate(-13.1,-6)" d="M37.1,-10.1l25.9-7.2 17.4-5.2 13.7-4.5 10.8-4.1 9.6-4.5 4.5-2.5 4-2.6 3.7-2.6 3.4-2.7 3.3-3 3-3 3.3-3.8 3-3.8 5.5-8.4 3-5.2 3-5.8 5.2-11.5 5.5-14.3 5.6-16.5 4.1-13.9 5.1-19.8 1.9-6.4 1.1-3.1 1.1-2.3 0.8-1 0.7-0.4 0.7 0 0.8 0.6 1.1 1.7 1.1 2.5 1.9 5.4 5.1 17 4.1 11.7 5.6 13.5 5.5 11.3 5.2 8.7 3 4.2 3 3.6 2.6 2.7 2.9 2.7 3 2.2 3.3 2 3 1.4 3.3 1.2 3.4 0.9 3.7 0.6 4 0.4 4.5 0 4.4-0.2 5.2-0.5 10.8-1.6 13.7-2.9 17.4-4.3 25.9-6.8"/>
<path transform="translate(-11.9,-5.4)" d="M37.1,-10.1l25.9-7.2 17.4-5.2 13.7-4.5 10.8-4.1 9.2-4.3 8.2-4.8 3.7-2.5 3.7-3 3.3-2.9 3-3 3-3.3 2.9-3.7 3-4.2 2.6-4 5.2-9.4 5.2-11.1 5.5-14.1 5.2-15 4.1-13.1 6.3-22.4 2.2-7.2 1.9-4.4 1.1-1.7 1.1-0.8 0.7 0 0.4 0.2 1.1 1.1 1.9 3.4 2.2 6 6.3 18.9 4.1 11 5.2 12.2 5.5 11 2.6 4.4 2.6 4 2.6 3.5 2.6 3 2.6 2.7 3 2.6 2.9 2.1 3 1.7 3 1.3 3.3 1.2 3.7 0.9 3.7 0.6 3.7 0.3 4.5 0 9.2-0.7 10.8-1.6 13.7-2.9 17.4-4.3 25.9-6.8"/>
<path transform="translate(-10.7,-4.9)" d="M37.1,-10.1l25.2-7 17.4-5.1 13.7-4.5 10.7-4.1 9.3-4.3 8.2-4.6 3.7-2.5 3.7-2.9 3.3-2.8 3-2.9 2.9-3.3 3-3.6 5.2-7.4 4.8-8.4 5.2-10.7 5.2-12.7 5.2-14.6 4-12.7 7.5-25 2.2-6.8 1.1-2.9 1.5-3 1.1-1.5 1.1-0.7 1.1 0.1 1.1 0.9 1.5 2.2 1.1 2.3 2.2 5.6 7.5 21 4 10.5 5.2 11.8 5.2 9.9 2.6 4.2 2.6 3.7 4.8 5.8 2.6 2.5 2.6 2.1 3 2 2.9 1.6 3 1.3 3.3 1.1 3.7 0.9 3.7 0.5 4.1 0.2 4.1 0 9.3-0.8 10.7-1.7 13.7-2.9 17.4-4.3 25.2-6.6"/>
<path transform="translate(-9.5,-4.4)" d="M37.1,-10.1l25.2-7 17.4-5.1 13.7-4.5 10.7-4.1 9.3-4.3 8.2-4.6 3.7-2.5 3.7-2.9 3.3-2.9 3-2.8 5.5-6.4 5.2-7.4 4.8-8.3 4.9-9.9 4.8-11.6 4.8-13.3 4.8-14.8 7.4-24.3 2.6-7.6 1.5-3.5 1.5-2.7 1.1-1.3 1.1-0.6 1.1 0 1.1 0.7 1.5 1.9 1.5 2.7 2.6 6.2 7.4 20.3 4.8 12.2 4.8 10.7 4.8 9 4.9 7.3 2.6 3.2 2.2 2.5 2.6 2.4 2.6 2.1 2.6 1.8 2.9 1.6 3 1.3 3.3 1.1 3.7 0.9 3.7 0.5 4.1 0.2 4.1 0 9.3-0.8 10.7-1.7 13.7-2.9 17.4-4.3 25.2-6.6"/>
<path transform="translate(-8.3,-3.8)" d="M37.1,-10.1l25.2-7 17.4-5.1 12.9-4.3 11.2-4.2 9.6-4.4 8.2-4.6 3.7-2.5 3.3-2.6 3.3-2.8 3-2.9 5.6-6.3 5.1-7.3 4.9-8.2 4.4-9 4.5-10.6 4.8-13.1 4.4-13.4 7.8-25 3-8.5 1.5-3.6 1.4-2.8 1.5-2 1.5-0.9 0.7-0.1 0.8 0.2 1.5 1.2 1.4 2 1.5 2.8 3 6.9 7.8 20.8 4.4 11 4.8 10.5 4.5 8.1 4.4 6.7 2.3 2.8 2.6 2.8 2.5 2.4 2.6 2.1 3 1.9 2.6 1.4 3 1.3 3.3 1 3.3 0.8 3.7 0.5 3.7 0.2 4.5 0 9.6-0.8 11.1-1.8 13-2.8 17.4-4.3 25.2-6.6"/>
<path transform="translate(-7.1,-3.3)" d="M37.1,-10.1l24.4-6.8 17.4-5.1 13.7-4.5 10.8-4 9.3-4.2 8.1-4.5 3.7-2.5 3.7-2.8 3.4-2.8 2.9-2.8 5.2-5.8 5.2-7.1 4.8-8 4.5-8.9 4.4-10.4 4.5-11.9 4-12.1 8.2-25.9 3.3-9.5 1.9-4.4 1.8-3.3 1.5-1.8 1.5-0.9 1.5 0.1 1.5 1 1.8 2.3 1.9 3.4 3.3 7.7 8.2 21.5 4 9.9 4.5 9.5 4.4 8 4.5 6.5 2.2 2.7 2.6 2.7 2.6 2.3 2.6 2 2.2 1.4 3 1.6 2.9 1.2 3.4 1 3.7 0.8 3.7 0.4 4.1 0.2 4 0 9.3-0.9 10.7-1.7 13.8-3 17.4-4.3 24.4-6.4"/>
<path transform="translate(-6,-2.7)" d="M37.1,-10.1l24.4-6.8 17.4-5.1 13.7-4.5 10.8-4 9.3-4.2 8.1-4.5 3.7-2.5 3.7-2.8 3.4-2.8 2.9-2.8 5.2-5.8 5.2-7.1 4.5-7.4 4.4-8.8 4.4-10.3 4.5-12 4.1-12.1 7.8-24.5 3.7-10.4 1.8-4.3 1.9-3.4 1.8-2.2 1.5-0.8 1.5 0 0.7 0.3 1.1 0.9 1.9 2.4 1.8 3.2 3.7 8.5 7.8 20.3 4.1 9.9 4.5 9.5 4.4 8 4.4 6.4 4.5 5 2.6 2.3 2.6 2 2.2 1.4 3 1.6 2.9 1.2 3.4 1 3.7 0.8 3.7 0.4 4.1 0.2 4 0 9.3-0.9 10.7-1.7 13.8-3 17.4-4.3 24.4-6.4"/>
<path transform="translate(-4.8,-2.2)" d="M37.1,-10.1l24.4-6.8 17.4-5.1 13.7-4.5 10.8-4 9.3-4.2 8.1-4.5 3.7-2.5 3.7-2.8 3.4-2.8 2.9-2.8 5.2-5.8 4.8-6.6 4.5-7.3 4.4-8.7 4.5-10.3 4.1-10.8 4-12.1 8.2-25.5 3.7-10.3 1.8-4.2 1.9-3.4 1.8-2.3 1.2-0.8 0.7-0.3 0.7-0.1 1.2 0.2 1.8 1.3 1.9 2.4 1.8 3.2 3.7 8.3 8.2 21.1 4 9.9 4.1 8.6 4.5 7.9 4.4 6.3 4.5 4.9 2.6 2.3 2.2 1.7 2.2 1.4 3 1.6 2.9 1.2 3.4 1 3.7 0.8 3.7 0.4 4.1 0.2 4 0 9.3-0.9 10.7-1.7 13.8-3 17.4-4.3 24.4-6.4"/>
<path transform="translate(-3.6,-1.6)" d="M37.1,-10.1l24.4-6.8 17.4-5.1 13.7-4.5 10.8-4 9.3-4.2 8.1-4.5 3.7-2.5 3.7-2.8 3.4-2.8 2.9-2.8 5.2-5.8 4.8-6.6 4.5-7.3 4.4-8.8 4.1-9.4 4.1-10.8 4.1-12 8.1-25.4 3.7-10.3 2.2-5 1.9-3.2 1.8-2.2 1.2-0.8 0.7-0.3 0.7-0.1 1.2 0.2 1.8 1.2 1.9 2.2 2.2 3.8 3.7 8.3 8.1 21 4.1 9.8 4.1 8.6 4.1 7.2 4.4 6.4 4.5 4.9 2.6 2.3 2.2 1.7 2.2 1.4 3 1.5 2.9 1.3 3.4 1 3.7 0.8 3.7 0.4 4.1 0.2 4 0 9.3-0.9 10.7-1.7 13.8-3 17.4-4.3 24.4-6.4"/>
<path fill="#fff" transform="translate(-2.4,-1.1)" d="M37.1,-10.1l24.4-6.8 17.4-5.1 13.7-4.5 10.8-4 9.3-4.2 8.1-4.5 7.1-5 3.3-2.8 3-2.8 5.1-5.7 4.9-6.5 4.4-7.2 4.1-7.8 4.4-10.1 4.1-10.8 4.1-11.9 8.1-25.4 3.7-10.3 2.3-5.1 2.2-3.8 1.8-2.1 1.9-1.1 0.7-0.1 1.2 0.2 1.8 1.1 2.2 2.6 2.3 3.9 3.7 8.3 8.1 21 4.1 9.7 4.1 8.5 4.4 7.7 4.1 5.7 4.4 4.8 2.3 2 2.6 1.9 2.5 1.6 2.6 1.3 3 1.2 3.3 1 3.4 0.7 3.7 0.4 4.1 0.2 4 0 9.3-0.9 10.7-1.7 13.8-3 17.4-4.3 24.4-6.4"/>
<path fill="#fff" transform="translate(-1.2,-0.5)" d="M37.1,-10.1l24.4-6.8 17.4-5.1 13.7-4.5 10.8-4 9.3-4.2 8.1-4.5 7.1-5 3.3-2.8 3-2.8 5.1-5.7 4.9-6.5 4.4-7.2 4.1-7.9 4.4-10.1 4.1-10.7 4.1-12 7.8-24.3 4-11.3 2.3-5 2.2-3.7 1.8-2.1 1.9-1.1 0.7-0.1 1.2 0.2 1.8 1.1 2.2 2.5 2.3 3.8 4 9.1 7.8 20.1 4.1 9.7 4.1 8.6 4.4 7.7 4.1 5.7 4.4 4.8 2.3 2 2.6 1.9 2.5 1.6 2.6 1.3 3 1.2 3.3 1 3.4 0.7 3.7 0.4 4.1 0.2 4 0 9.3-0.9 10.7-1.7 13.8-3 17.4-4.3 24.4-6.4"/>
<path fill="#fff" transform="translate(0,0)" d="M37.1,-10.1l24.4-6.8 17.4-5.1 13.7-4.5 10.8-4 9.3-4.2 8.1-4.5 7.1-5 3.3-2.8 3-2.8 5.1-5.7 4.9-6.5 4.4-7.2 4.1-7.9 4.4-10.1 4.1-10.8 3.7-10.8 8.2-25.4 4-11.3 2.3-4.9 2.2-3.8 1.8-2 1.9-1.1 0.7-0.1 1.2 0.2 1.8 1 2.2 2.6 2.3 3.7 4 9.1 8.2 21 3.7 8.8 4.1 8.6 4.4 7.7 4.1 5.7 4.4 4.8 2.3 2 2.6 1.9 2.5 1.6 2.6 1.3 3 1.2 3.3 1 3.4 0.7 3.7 0.4 4.1 0.2 4 0 9.3-0.9 10.7-1.7 13.8-3 17.4-4.3 24.4-6.4"/>
</g>
</defs>
<rect width="1699" height="1298" fill="#fff"/>
<g transform="translate(0,0)">
<path d="M200.9,424.4 L200.9,138.4 M293.6,399.3 L293.6,113.3 M386.2,374.3 L386.2,88.3 M108.3,377.9 L478.9,277.8 L764.8,408.5 M108.3,306.4 L478.9,206.3 L764.8,337 M108.3,234.9 L478.9,134.8 L764.8,265.5 M673.8,438.4 L673.8,152.4 M582.8,396.8 L582.8,110.8 M491.8,355.2 L491.8,69.2" stroke="#d6d6d6" stroke-width="1.25" fill="none"/>
<path d="M108.3,163.4 L478.9,63.3 L764.8,194 M478.9,349.3 L478.9,63.3" stroke="#333333" stroke-width="1.7" fill="none"/>
<path d="M108.3,449.4 L394.2,580.1 L764.8,480 L478.9,349.3 Z" fill="#453c98"/>
<use href="#surf" transform="translate(394.2,580.1)"/>
<path d="M108.3,163.4 L108.3,449.4 L394.2,580.1 L764.8,480 L764.8,194" stroke="#333333" stroke-width="1.6" fill="none" stroke-linejoin="round"/>
<path d="M394.2,580.1 L384.5,582.7 M303.2,538.5 L293.5,541.1 M212.2,496.9 L202.5,499.5 M121.2,455.3 L111.5,457.9 M394.2,580.1 L403.3,584.3 M486.8,555.1 L495.9,559.2 M579.5,530 L588.6,534.2 M672.1,505 L681.2,509.2 M764.8,480 L773.9,484.2 M108.3,449.4 L99.2,445.2 M108.3,377.9 L99.2,373.7 M108.3,306.4 L99.2,302.2 M108.3,234.9 L99.2,230.7 M108.3,163.4 L99.2,159.2" stroke="#333333" stroke-width="1.7" fill="none"/>
<text class="tk" x="89.3" y="452" text-anchor="end">0</text>
<text class="tk" x="89.3" y="380.5" text-anchor="end">2</text>
<text class="tk" x="89.3" y="309" text-anchor="end">4</text>
<text class="tk" x="89.3" y="237.5" text-anchor="end">6</text>
<text class="tk" x="89.3" y="166" text-anchor="end">8</text>
<text class="tk" x="93.2" y="487.8" text-anchor="middle">3</text>
<text class="tk" x="185.2" y="530.4" text-anchor="middle">2</text>
<text class="tk" x="275.7" y="573" text-anchor="middle">1</text>
<text class="tk" x="367.2" y="613.6" text-anchor="middle">0</text>
<text class="tk" x="428.2" y="615.1" text-anchor="middle">-10</text>
<text class="tk" x="513.8" y="591.1" text-anchor="middle">-5</text>
<text class="tk" x="604.5" y="566" text-anchor="middle">0</text>
<text class="tk" x="695.1" y="540" text-anchor="middle">5</text>
<text class="tk" x="794.8" y="514" text-anchor="middle">10</text>
<text class="tt" x="436" y="49.4">Temporal waveform</text>
<text class="lb" x="225.5" y="620.3">Z(a.u.)</text>
<text class="lb" x="611.5" y="626">T(a.u.)</text>
<text class="lb" transform="translate(62,305) rotate(-90)">Intensity</text>
</g>
<text class="pl" x="9" y="35" style="font-size:46px">(a)</text>
<g transform="translate(833.5,663.5)">
<path d="M200.9,424.4 L200.9,138.4 M293.6,399.3 L293.6,113.3 M386.2,374.3 L386.2,88.3 M108.3,377.9 L478.9,277.8 L764.8,408.5 M108.3,306.4 L478.9,206.3 L764.8,337 M108.3,234.9 L478.9,134.8 L764.8,265.5 M673.8,438.4 L673.8,152.4 M582.8,396.8 L582.8,110.8 M491.8,355.2 L491.8,69.2" stroke="#cbcbcb" stroke-width="1.25" fill="none"/>
<path d="M108.3,163.4 L478.9,63.3 L764.8,194 M478.9,349.3 L478.9,63.3" stroke="#333333" stroke-width="1.7" fill="none"/>
<path d="M108.3,449.4 L394.2,580.1 L764.8,480 L478.9,349.3 Z" fill="#453c98"/>
<use href="#surf" transform="translate(394.2,580.1)"/>
<path d="M108.3,163.4 L108.3,449.4 L394.2,580.1 L764.8,480 L764.8,194" stroke="#333333" stroke-width="1.6" fill="none" stroke-linejoin="round"/>
<path d="M394.2,580.1 L384.5,582.7 M303.2,538.5 L293.5,541.1 M212.2,496.9 L202.5,499.5 M121.2,455.3 L111.5,457.9 M394.2,580.1 L403.3,584.3 M486.8,555.1 L495.9,559.2 M579.5,530 L588.6,534.2 M672.1,505 L681.2,509.2 M764.8,480 L773.9,484.2 M108.3,449.4 L99.2,445.2 M108.3,377.9 L99.2,373.7 M108.3,306.4 L99.2,302.2 M108.3,234.9 L99.2,230.7 M108.3,163.4 L99.2,159.2" stroke="#333333" stroke-width="1.7" fill="none"/>
<text class="tk" x="89.3" y="452" text-anchor="end">0</text>
<text class="tk" x="89.3" y="380.5" text-anchor="end">2</text>
<text class="tk" x="89.3" y="309" text-anchor="end">4</text>
<text class="tk" x="89.3" y="237.5" text-anchor="end">6</text>
<text class="tk" x="89.3" y="166" text-anchor="end">8</text>
<text class="tk" x="93.2" y="487.8" text-anchor="middle">3</text>
<text class="tk" x="185.2" y="530.4" text-anchor="middle">2</text>
<text class="tk" x="275.7" y="573" text-anchor="middle">1</text>
<text class="tk" x="367.2" y="613.6" text-anchor="middle">0</text>
<text class="tk" x="428.2" y="615.1" text-anchor="middle">-10</text>
<text class="tk" x="513.8" y="591.1" text-anchor="middle">-5</text>
<text class="tk" x="604.5" y="566" text-anchor="middle">0</text>
<text class="tk" x="695.1" y="540" text-anchor="middle">5</text>
<text class="tk" x="794.8" y="514" text-anchor="middle">10</text>
<text class="tt" x="436" y="49.4">Temporal waveform</text>
<text class="lb" x="225.5" y="620.3">Z(a.u.)</text>
<text class="lb" x="611.5" y="626">T(a.u.)</text>
<text class="lb" transform="translate(62,305) rotate(-90)">Intensity</text>
</g>
<text class="pl" x="840.5" y="707">(d)</text>
<g>
<path d="M922.5,170.1 L1270.6,80.5 L1533.6,199.9 M1270.6,387.7 L1270.6,80.5 M1533.6,507.1 L1533.6,199.9" stroke="#1a1a1a" stroke-width="1" fill="none"/>
<clipPath id="fc"><path d="M922.5,477.3 L1184,597 L1533.6,507.1 L1270.6,387.7 Z"/></clipPath>
<path d="M922.5,477.3 L1184,597 L1533.6,507.1 L1270.6,387.7 Z" fill="#463c98" stroke="#1a1a1a" stroke-width="1"/>
<filter id="b1" x="-20%" y="-20%" width="140%" height="140%"><feGaussianBlur stdDeviation="2.2"/></filter>
<filter id="b2" x="-20%" y="-20%" width="140%" height="140%"><feGaussianBlur stdDeviation="0.9"/></filter>
<filter id="b3" x="-20%" y="-20%" width="140%" height="140%"><feGaussianBlur stdDeviation="4"/></filter>
<g clip-path="url(#fc)">
<g filter="url(#b3)" opacity="0.8"><g transform="matrix(10.7702,-2.7696,-83.2380,-38.1017,1358.800,552.050)">
<ellipse cx="0" cy="0.785" rx="4.5" ry="0.62" fill="#5468b8" opacity="0.8"/>
<ellipse cx="0" cy="2.356" rx="4.5" ry="0.62" fill="#5468b8" opacity="0.8"/>
</g></g>
<g filter="url(#b1)" opacity="0.75"><g transform="matrix(10.7702,-2.7696,-83.2380,-38.1017,1358.800,552.050)" fill="#5a6cba">
<path d="M0,0.290 L-13,0.410 L0,0.490 L9.5,0.370 Z"/>
<path d="M0,1.080 L-13,1.200 L0,1.280 L9.5,1.160 Z"/>
<path d="M0,1.860 L-13,1.980 L0,2.060 L9.5,1.940 Z"/>
<path d="M0,2.650 L-13,2.770 L0,2.850 L9.5,2.730 Z"/>
</g></g>
<g filter="url(#b1)"><g transform="matrix(10.7702,-2.7696,-83.2380,-38.1017,1358.800,552.050)">
<ellipse cx="0" cy="0.785" rx="1.4" ry="0.37" fill="#56a6e2"/>
<ellipse cx="0" cy="2.356" rx="1.4" ry="0.37" fill="#56a6e2"/>
<ellipse cx="0" cy="0.000" rx="0.5" ry="0.42" fill="#58a8e0"/>
<ellipse cx="0" cy="1.571" rx="0.5" ry="0.37" fill="#58a8e0"/>
<ellipse cx="0" cy="3.142" rx="0.5" ry="0.36" fill="#58a8e0"/>
</g></g>
<g filter="url(#b2)"><g transform="matrix(10.7702,-2.7696,-83.2380,-38.1017,1358.800,552.050)">
<ellipse cx="0" cy="0.825" rx="0.75" ry="0.15" fill="#4f74c8"/>
<ellipse cx="0" cy="0.845" rx="0.4" ry="0.06" fill="#4a48a2"/>
<ellipse cx="0.1" cy="0.585" rx="0.5" ry="0.09" fill="#72c8b4"/>
<ellipse cx="0" cy="2.396" rx="0.75" ry="0.15" fill="#4f74c8"/>
<ellipse cx="0" cy="2.416" rx="0.4" ry="0.06" fill="#4a48a2"/>
<ellipse cx="0.1" cy="2.156" rx="0.5" ry="0.09" fill="#72c8b4"/>
<ellipse cx="0" cy="0.000" rx="0.27" ry="0.36" fill="#7ccaa6"/>
<ellipse cx="0" cy="0.000" rx="0.12" ry="0.30" fill="#c4da50"/>
<ellipse cx="0" cy="1.571" rx="0.27" ry="0.30" fill="#7ccaa6"/>
<ellipse cx="0" cy="1.571" rx="0.12" ry="0.24" fill="#c4da50"/>
<ellipse cx="0" cy="3.142" rx="0.27" ry="0.30" fill="#7ccaa6"/>
<ellipse cx="0" cy="3.142" rx="0.12" ry="0.24" fill="#c4da50"/>
</g></g>
</g>
<g fill="#86bb4e">
<path d="M1099.1,177.2 L1357,295.2" stroke="#86bb4e" stroke-width="16.7" fill="none"/>
<use href="#st" transform="translate(1097.3,176.4) scale(8.9)"/>
<use href="#st" transform="translate(1358.8,296.1) scale(8.9)"/>
</g>
<g fill="#4271b6">
<path d="M1099.1,279.6 L1357,397.6" stroke="#4271b6" stroke-width="16.7" fill="none"/>
<use href="#st" transform="translate(1097.3,278.8) scale(8.9)"/>
<use href="#st" transform="translate(1358.8,398.5) scale(8.9)"/>
</g>
<g fill="#c1562c">
<path d="M1099.1,382 L1357,500" stroke="#c1562c" stroke-width="16.7" fill="none"/>
<use href="#st" transform="translate(1097.3,381.2) scale(8.9)"/>
<use href="#st" transform="translate(1358.8,500.9) scale(8.9)"/>
</g>
<path d="M922.5,170.1 L922.5,477.3 L1184,597 L1533.6,507.1" stroke="#1a1a1a" stroke-width="1.9" fill="none" stroke-linejoin="round"/>
<path d="M1184,597 L1175.7,599.1 M1100.8,558.9 L1092.4,561 M1017.5,520.8 L1009.2,522.9 M934.3,482.7 L926,484.8 M1251.1,579.7 L1258.9,583.3 M1358.8,552.1 L1366.6,555.6 M1466.5,524.4 L1474.3,527.9 M922.5,477.3 L914.7,473.7 M922.5,374.9 L914.7,371.3 M922.5,272.5 L914.7,268.9 M922.5,170.1 L914.7,166.5" stroke="#1a1a1a" stroke-width="1.7" fill="none"/>
<text class="tk k2" x="905" y="481.3" text-anchor="end">0</text>
<text class="tk k2" x="905" y="378.9" text-anchor="end">1</text>
<text class="tk k2" x="905" y="276.5" text-anchor="end">2</text>
<text class="tk k2" x="905" y="174.1" text-anchor="end">3</text>
<text class="tk k2" x="908.8" y="514.7" text-anchor="middle">3</text>
<text class="tk k2" x="992.2" y="553.1" text-anchor="middle">2</text>
<text class="tk k2" x="1076.6" y="590.9" text-anchor="middle">1</text>
<text class="tk k2" x="1160" y="628.6" text-anchor="middle">0</text>
<text class="tk k2" x="1284.6" y="614" text-anchor="middle">-10</text>
<text class="tk k2" x="1383.3" y="586.6" text-anchor="middle">0</text>
<text class="tk k2" x="1501.3" y="559.4" text-anchor="middle">10</text>
<text class="tt" x="1227.6" y="68" style="font-size:28.4px">Nonlinear spectrum</text>
<text class="lb" x="1028.5" y="637.2">Z(a.u.)</text>
<text class="lb" x="1384" y="644.6">Re(λ)</text>
<text class="lb" transform="translate(877.5,325) rotate(-90)">Im(λ)</text>
<rect x="1593.5" y="80.4" width="41.0" height="516.9" fill="url(#cbg)" stroke="#333" stroke-width="1"/>
<text class="tk k2" x="1644" y="527.7">2</text>
<text class="tk k2" x="1644" y="449.3">4</text>
<text class="tk k2" x="1644" y="370.9">6</text>
<text class="tk k2" x="1644" y="292.5">8</text>
<text class="tk k2" x="1644" y="214.1">10</text>
<text class="tk k2" x="1644" y="135.7">12</text>
<path d="M1634.5,518.9 h-5 M1634.5,440.5 h-5 M1634.5,362.1 h-5 M1634.5,283.7 h-5 M1634.5,205.3 h-5 M1634.5,126.9 h-5" stroke="#333" stroke-width="1.2" fill="none"/>
<text class="tk k2" x="1636" y="69"><tspan font-size="26">×</tspan><tspan dx="2.4">10</tspan><tspan dy="-11" dx="0.5" font-size="18.5">-3</tspan></text>
</g>
<text class="pl" x="841" y="36">(b)</text>
<g>
<path d="M111.3,807.5 L488.9,708.1 L778.1,838.5 M488.9,991.2 L488.9,708.1 M778.1,1121.6 L778.1,838.5 M111.3,1090.6 L488.9,991.2 L778.1,1121.6" stroke="#1a1a1a" stroke-width="1" fill="none"/>
<path d="M414.8,1074.6 407.8,1066.3 401.1,1058 394.6,1049.6 388.4,1041.1 382.4,1032.6 376.7,1024.1 371.3,1015.6 366.1,1007 361.1,998.5 356.4,989.9 352,981.4 347.7,972.8 343.8,964.3 340,955.9 336.5,947.5 331.6,934.9 328.6,926.6 325.8,918.4 323.2,910.3 319.7,898.3 317.6,890.4 314.7,878.7 313,871.1 310.7,859.9 308.8,848.9 307.1,838.3 305.6,828 304.4,818.1 302.3,796.4 300.2,769.2" stroke="#c4572d" stroke-width="2.4" fill="none" stroke-linejoin="round"/>
<g fill="#c4572d">
<use href="#st" transform="translate(414.8,1074.6) scale(10.4)"/>
<use href="#st" transform="translate(407.6,1066.1) scale(10.4)"/>
<use href="#st" transform="translate(400.6,1057.5) scale(10.4)"/>
<use href="#st" transform="translate(394,1048.8) scale(10.4)"/>
<use href="#st" transform="translate(387.6,1040.1) scale(10.4)"/>
<use href="#st" transform="translate(381.5,1031.3) scale(10.4)"/>
<use href="#st" transform="translate(375.7,1022.5) scale(10.4)"/>
<use href="#st" transform="translate(370.1,1013.7) scale(10.4)"/>
<use href="#st" transform="translate(364.8,1004.9) scale(10.4)"/>
<use href="#st" transform="translate(359.8,996) scale(10.4)"/>
<use href="#st" transform="translate(355,987.2) scale(10.4)"/>
<use href="#st" transform="translate(350.5,978.4) scale(10.4)"/>
<use href="#st" transform="translate(346.2,969.6) scale(10.4)"/>
<use href="#st" transform="translate(342.2,960.9) scale(10.4)"/>
<use href="#st" transform="translate(338.4,952.2) scale(10.4)"/>
<use href="#st" transform="translate(334.9,943.5) scale(10.4)"/>
<use href="#st" transform="translate(331.6,934.9) scale(10.4)"/>
<use href="#st" transform="translate(328.5,926.4) scale(10.4)"/>
<use href="#st" transform="translate(325.7,917.9) scale(10.4)"/>
<use href="#st" transform="translate(323,909.5) scale(10.4)"/>
<use href="#st" transform="translate(320.5,901.2) scale(10.4)"/>
<use href="#st" transform="translate(318.3,893.1) scale(10.4)"/>
<use href="#st" transform="translate(316.2,885) scale(10.4)"/>
<use href="#st" transform="translate(314.3,877) scale(10.4)"/>
<use href="#st" transform="translate(312.6,869.2) scale(10.4)"/>
<use href="#st" transform="translate(311,861.5) scale(10.4)"/>
<use href="#st" transform="translate(309.6,853.9) scale(10.4)"/>
<use href="#st" transform="translate(308.3,846.4) scale(10.4)"/>
<use href="#st" transform="translate(307.2,839.2) scale(10.4)"/>
<use href="#st" transform="translate(306.2,832) scale(10.4)"/>
<use href="#st" transform="translate(305.3,825.1) scale(10.4)"/>
<use href="#st" transform="translate(304.5,818.3) scale(10.4)"/>
<use href="#st" transform="translate(303.7,811.7) scale(10.4)"/>
<use href="#st" transform="translate(303.1,805.2) scale(10.4)"/>
<use href="#st" transform="translate(302.5,799) scale(10.4)"/>
<use href="#st" transform="translate(302,792.9) scale(10.4)"/>
<use href="#st" transform="translate(301.6,787) scale(10.4)"/>
<use href="#st" transform="translate(301.1,781.3) scale(10.4)"/>
<use href="#st" transform="translate(300.7,775.9) scale(10.4)"/>
<use href="#st" transform="translate(300.4,770.6) scale(10.4)"/>
</g>
<path d="M769.5,982.3 768.1,989.2 766.2,996.2 763.8,1003.3 760.9,1010.4 757.4,1017.7 753.4,1024.9 749,1032.1 744,1039.4 738.5,1046.6 732.6,1053.7 726.3,1060.7 719.5,1067.7 712.2,1074.5 704.6,1081.1 696.6,1087.6 688.2,1093.9 679.5,1100 670.4,1105.8 661.1,1111.4 651.5,1116.7 641.6,1121.7 631.6,1126.5 621.3,1130.9 610.8,1135 600.2,1138.7 589.5,1142.1 578.8,1145.1 567.9,1147.7 557,1150 546.2,1151.8 535.3,1153.3 524.6,1154.3 513.9,1154.9 503.3,1155.1 492.8,1154.9 482.5,1154.3 472.5,1153.3 462.6,1151.8 453,1149.9 443.7,1147.6 434.6,1144.9 425.9,1141.8 417.5,1138.3 409.5,1134.4 401.9,1130.2 394.6,1125.6 387.8,1120.6 381.5,1115.3 375.6,1109.7 370.1,1103.8 365.1,1097.6 360.7,1091.1 356.7,1084.4 353.2,1077.4 350.3,1070.2 347.9,1062.8 346,1055.2 344.6,1047.4 343.7,1039.6 343.4,1031.6 343.6,1023.5 344.4,1015.3 345.6,1007.1 347.4,998.9 349.7,990.6 352.4,982.4 355.6,974.2 359.3,966.1 363.5,958.1 368.1,950.1 373.1,942.3 378.5,934.7 384.3,927.2 390.5,920 397,912.9 403.8,906.1 410.9,899.5 418.3,893.2 426,887.1 433.8,881.4 441.9,876 450.1,870.9 458.5,866.2 467,861.8 475.6,857.8 484.2,854.2 492.9,851 501.5,848.1 510.1,845.7 518.7,843.7 527.2,842 535.6,840.8 543.8,840.1 551.9,839.7 559.7,839.8 567.4,840.2 574.8,841.1 581.9,842.4 588.7,844.1 595.2,846.3 601.4,848.8 607.2,851.6 612.6,854.9 617.6,858.5 622.2,862.5 626.4,866.8 630.1,871.4 633.3,876.3 636,881.5 638.3,887 640.1,892.8 641.3,898.8 642.1,905 642.3,911.4 642,918 641.1,924.8 639.7,931.6 637.8,938.6 635.4,945.7 632.5,952.9 629,960.1 625,967.4 620.6,974.6 615.6,981.9 610.1,989.1 604.2,996.2 597.9,1003.2 591.1,1010.2 583.8,1017 576.2,1023.6 568.2,1030.1 559.8,1036.4 551.1,1042.4 542,1048.3 532.7,1053.9 523.1,1059.2 513.2,1064.2 503.2,1069 492.9,1073.4 482.4,1077.5 471.8,1081.2 461.1,1084.6 450.4,1087.6 439.5,1090.2 428.7,1092.5 417.8,1094.3 406.9,1095.8 396.2,1096.8 385.5,1097.4 374.9,1097.6 364.4,1097.4 354.1,1096.8 344.1,1095.7 334.2,1094.3 324.6,1092.4 315.3,1090.1 306.2,1087.4 297.5,1084.3 289.1,1080.8 281.1,1076.9 273.5,1072.7 266.2,1068.1 259.4,1063.1 253.1,1057.8 247.2,1052.2 241.7,1046.3 236.7,1040.1 232.3,1033.6 228.3,1026.8 224.8,1019.9 221.9,1012.7 219.5,1005.3 217.6,997.7 216.2,989.9 215.3,982 215,974 215.2,966 216,957.8 217.2,949.6 219,941.3 221.3,933.1 224,924.9 227.2,916.7 230.9,908.6 235.1,900.5 239.7,892.6 244.7,884.8 250.1,877.2 255.9,869.7 262.1,862.4 268.6,855.4 275.4,848.5 282.5,842 289.9,835.7 297.6,829.6 305.4,823.9 313.5,818.5 321.7,813.4 330.1,808.7 338.6,804.3 347.2,800.3 355.8,796.7 364.5,793.5 373.1,790.6 381.7,788.2 390.3,786.1 398.8,784.5 407.2,783.3 415.4,782.6 423.5,782.2 431.3,782.3 439,782.7 446.4,783.6 453.5,784.9 460.3,786.6 466.8,788.7 473,791.2 478.8,794.1 484.2,797.4 489.2,801 493.8,805 498,809.3 501.7,813.9 504.9,818.8 507.6,824 509.9,829.5 511.7,835.3 512.9,841.3 513.7,847.5 513.9,853.9 513.6,860.5 512.7,867.2 511.3,874.1 509.4,881.1 507,888.2 504.1,895.4 500.6,902.6 496.6,909.9 492.2,917.1 487.2,924.4 481.7,931.6 475.8,938.7 469.5,945.7 462.7,952.7 455.4,959.5 447.8,966.1 439.8,972.6 431.4,978.9 422.7,984.9 413.6,990.8 404.3,996.4 394.7,1001.7 384.8,1006.7 374.8,1011.5 364.5,1015.9 354,1020 343.4,1023.7 332.7,1027.1 322,1030.1 311.1,1032.7 300.3,1035" stroke="#4472b8" stroke-width="2.4" fill="none" stroke-linejoin="round"/>
<g fill="#4472b8">
<use href="#st" transform="translate(769.5,982.3) scale(10.4)"/>
<use href="#st" transform="translate(750.6,1029.6) scale(10.4)"/>
<use href="#st" transform="translate(710,1076.4) scale(10.4)"/>
<use href="#st" transform="translate(652.1,1116.4) scale(10.4)"/>
<use href="#st" transform="translate(583.2,1143.9) scale(10.4)"/>
<use href="#st" transform="translate(511.4,1155) scale(10.4)"/>
<use href="#st" transform="translate(444.8,1147.9) scale(10.4)"/>
<use href="#st" transform="translate(391,1123) scale(10.4)"/>
<use href="#st" transform="translate(356.1,1083.2) scale(10.4)"/>
<use href="#st" transform="translate(343.5,1033) scale(10.4)"/>
<use href="#st" transform="translate(353.8,978.6) scale(10.4)"/>
<use href="#st" transform="translate(385,926.4) scale(10.4)"/>
<use href="#st" transform="translate(431.9,882.8) scale(10.4)"/>
<use href="#st" transform="translate(487.7,852.8) scale(10.4)"/>
<use href="#st" transform="translate(544.2,840) scale(10.4)"/>
<use href="#st" transform="translate(593.3,845.6) scale(10.4)"/>
<use href="#st" transform="translate(627.7,868.3) scale(10.4)"/>
<use href="#st" transform="translate(642,904.9) scale(10.4)"/>
<use href="#st" transform="translate(633.6,950.3) scale(10.4)"/>
<use href="#st" transform="translate(602.5,998.2) scale(10.4)"/>
<use href="#st" transform="translate(551.7,1042) scale(10.4)"/>
<use href="#st" transform="translate(486.9,1075.8) scale(10.4)"/>
<use href="#st" transform="translate(415.4,1094.7) scale(10.4)"/>
<use href="#st" transform="translate(345.4,1095.9) scale(10.4)"/>
<use href="#st" transform="translate(285,1078.9) scale(10.4)"/>
<use href="#st" transform="translate(240.9,1045.3) scale(10.4)"/>
<use href="#st" transform="translate(217.9,999.2) scale(10.4)"/>
<use href="#st" transform="translate(218,945.9) scale(10.4)"/>
<use href="#st" transform="translate(240.1,891.9) scale(10.4)"/>
<use href="#st" transform="translate(280.7,843.6) scale(10.4)"/>
<use href="#st" transform="translate(333.4,806.9) scale(10.4)"/>
<use href="#st" transform="translate(390.6,786.1) scale(10.4)"/>
<use href="#st" transform="translate(444,783.3) scale(10.4)"/>
<use href="#st" transform="translate(485.9,798.5) scale(10.4)"/>
<use href="#st" transform="translate(509.9,829.4) scale(10.4)"/>
<use href="#st" transform="translate(511.9,871.5) scale(10.4)"/>
<use href="#st" transform="translate(490.9,919.1) scale(10.4)"/>
<use href="#st" transform="translate(448.5,965.5) scale(10.4)"/>
<use href="#st" transform="translate(389.2,1004.5) scale(10.4)"/>
<use href="#st" transform="translate(319.7,1030.7) scale(10.4)"/>
</g>
<path d="M403.3,1071.4 403.7,1062.1 404.9,1052.8 406.8,1043.3 409.5,1033.8 412.8,1024.2 416.8,1014.7 421.5,1005.3 426.9,995.9 432.9,986.6 439.5,977.5 446.7,968.6 454.5,960 462.7,951.6 471.5,943.5 480.7,935.7 490.2,928.3 500.2,921.3 510.5,914.7 521,908.6 531.8,902.9 542.8,897.7 554,893 565.2,888.9 576.5,885.2 587.8,882.2 599,879.7 610.2,877.8 621.2,876.4 632.1,875.7 642.7,875.5 653,875.9 663.1,877 672.8,878.6 682.1,880.7 690.9,883.5 699.3,886.8 707.2,890.6 714.5,895 721.3,899.8 727.4,905.2 733,911 737.9,917.2 742.1,923.9 745.6,930.9 748.4,938.3 750.5,946 751.9,954.1 752.5,962.3 752.4,970.9 751.5,979.6 749.9,988.4 747.6,997.4 744.5,1006.5 740.7,1015.6 736.2,1024.7 731,1033.8 725.2,1042.8 718.7,1051.7 711.5,1060.5 703.8,1069.1 695.5,1077.5 686.7,1085.7 677.3,1093.6 667.5,1101.2 657.3,1108.4 646.6,1115.3 635.6,1121.7 624.3,1127.8 612.7,1133.3 601,1138.5 589,1143.1 576.9,1147.2 564.7,1150.7 552.5,1153.8 540.3,1156.2 528.1,1158.1 516,1159.4 504.1,1160.2 492.4,1160.3 480.9,1159.9 469.8,1158.8 458.9,1157.2 448.4,1155 438.3,1152.3 428.7,1148.9 419.5,1145 410.9,1140.6 402.8,1135.7 395.3,1130.2 388.4,1124.3 382.1,1118 376.5,1111.2 371.6,1104 367.4,1096.4 363.9,1088.5 361.1,1080.2 359,1071.7 357.7,1062.9 357.1,1053.9 357.3,1044.8 358.2,1035.4 359.8,1026 362.2,1016.5 365.3,1007 369.1,997.4 373.6,988 378.7,978.5 384.5,969.2 390.9,960.1 397.9,951.1 405.4,942.4 413.5,933.9 422,925.7 431.1,917.8 440.5,910.3 450.3,903.1 460.5,896.4 471,890 481.7,884.2 492.6,878.8 503.7,873.9 514.9,869.6 526.2,865.8 537.5,862.5 548.8,859.8 560,857.7 571,856.1 582,855.2 592.7,854.8 603.1,855 613.3,855.8 623.1,857.2 632.5,859.2 641.6,861.7 650.1,864.8 658.2,868.5 665.7,872.6 672.7,877.3 679.1,882.5 684.8,888.1 690,894.2 694.4,900.7 698.2,907.6 701.3,914.9 703.6,922.5 705.2,930.4 706.1,938.6 706.3,947.1 705.7,955.7 704.4,964.5 702.3,973.5 699.5,982.5 695.9,991.6 691.7,1000.7 686.8,1009.8 681.1,1018.9 674.9,1027.8 668,1036.7 660.4,1045.4 652.3,1053.8 643.7,1062.1 634.5,1070.1 624.9,1077.8 614.8,1085.1 604.3,1092.1 593.4,1098.7 582.2,1104.9 570.7,1110.7 559,1116 547.1,1120.8 535,1125.1 522.9,1128.8 510.6,1132 498.4,1134.7 486.2,1136.8 474.1,1138.3 462.2,1139.3 450.4,1139.6 438.8,1139.4 427.5,1138.6 416.5,1137.2 405.9,1135.2 395.7,1132.6 385.9,1129.5 376.5,1125.8 367.7,1121.6 359.4,1116.8 351.7,1111.6 344.6,1105.8 338.1,1099.6 332.2,1093 327.1,1085.9 322.6,1078.5 318.8,1070.7 315.8,1062.5 313.4,1054.1 311.9,1045.4 311,1036.5 310.9,1027.4 311.6,1018.1 312.9,1008.7 315,999.2 317.9,989.7 321.4,980.2 325.6,970.7 330.5,961.2 336.1,951.9 342.3,942.7 349,933.6 356.4,924.8 364.3,916.2 372.7,907.9 381.5,899.9 390.8,892.2 400.5,884.9 410.6,878 421,871.6 431.6,865.5 442.4,860 453.5,854.9 464.6,850.4 475.9,846.4 487.2,842.9 498.5,840 509.7,837.7 520.8,835.9 531.8,834.8 542.6,834.2 553.2,834.2 563.4,834.8 573.4,835.9 583,837.7 592.1,840 600.9,842.9 609.1,846.4 616.8,850.4 624,854.9 630.6,859.9 636.6,865.3 642,871.3 646.7,877.6 650.7,884.4 654,891.5 656.6,899 658.5,906.9 659.7,915 660.1,923.3 659.8,931.9 658.7,940.6 656.9,949.5 654.3,958.5 651.1,967.6 647.1,976.7 642.4,985.8 637,994.9 631,1003.9 624.3,1012.8 617,1021.6 609.1,1030.1 600.6,1038.4 591.6,1046.5 582.2,1054.3 572.2,1061.8 561.9,1068.9 551.1,1075.7 540,1082 528.7,1088 517,1093.4 505.2,1098.4 493.2,1102.9 481,1106.8 468.8,1110.2 456.6,1113.1 444.4,1115.4 432.3,1117.2 420.2,1118.3 408.4,1118.9 396.7,1118.9 385.3,1118.2 374.2,1117 363.5,1115.3 353.1,1112.9 343.1,1110 333.6,1106.5 324.6,1102.4 316.1,1097.9 308.2,1092.8 300.8,1087.2 294.1,1081.2 288,1074.7 282.6,1067.8 277.9,1060.5 273.9,1052.8 270.6,1044.8 268,1036.5 266.1,1027.9 265,1019 264.6,1010 265,1000.8 266.1,991.4 268,981.9 270.5,972.4 273.8,962.9 277.8,953.4 282.5,943.9 287.8,934.5 293.8,925.2 300.3,916.1 307.5,907.2 315.2,898.6 323.4,890.1 332.1,882 341.2,874.2 350.8,866.8 360.7,859.8 371,853.1 381.5,847 392.3,841.2 403.3,836 414.4,831.3 425.6,827.1 436.9,823.4 448.2,820.3 459.5,817.8 470.6,815.8 481.7,814.4 492.5,813.6 503.2,813.4 513.6,813.8 523.6,814.8 533.3,816.3 542.7,818.4 551.6,821.1 560,824.4 567.9,828.2 575.3,832.5 582.1,837.3 588.3,842.6 593.9,848.4 598.8,854.6 603.1,861.2 606.7,868.2 609.5,875.6 611.7,883.3 613.1,891.3 613.8,899.6 613.7,908.1 612.9,916.7 611.4,925.6 609.1,934.6 606.1,943.6 602.4,952.7 597.9,961.9 592.8,970.9 587,980 580.5,988.9 573.5,997.7 565.8,1006.3 557.5,1014.8 548.7,1022.9 539.4,1030.9 529.6,1038.5 519.4,1045.7 508.8,1052.6 497.8,1059.1 486.6,1065.2 475,1070.8 463.2,1075.9 451.3,1080.6 439.2,1084.8 427,1088.4 414.8,1091.4 402.6,1093.9 390.4,1095.9 378.3,1097.3 366.4,1098 354.7,1098.2 343.2,1097.8 332,1096.8 321.1,1095.3 310.5,1093.1 300.4,1090.4 290.7,1087.1 281.6,1083.3 272.9,1078.9 264.7,1074 257.2,1068.6 250.2,1062.7 243.9,1056.4 238.3,1049.6 233.3,1042.4 229,1034.9 225.4,1027 222.6,1018.8 220.5,1010.3 219.1,1001.5 218.5,992.5 218.6,983.4 219.4,974.1 221,964.7 223.3,955.2 226.3,945.6 230.1,936.1 234.5,926.6 239.6,917.2 245.3,907.9 251.7,898.7 258.6,889.7 266.1,880.9 274.1,872.4 282.7,864.2 291.7,856.3 301.1,848.7 310.9,841.6 321,834.8 331.5,828.4 342.2,822.5 353.1,817.1 364.1,812.2 375.3,807.8 386.6,804 397.9,800.6 409.2,797.9 420.4,795.7 431.5,794.1 442.4,793.1 453.2,792.7 463.6,792.9 473.8,793.6 483.7,795 493.1,796.9 502.2,799.4 510.8,802.4 518.9,806 526.5,810.2 533.5,814.8 539.9,819.9 545.7,825.5 550.9,831.6 555.4,838.1 559.2,845 562.4,852.2 564.8,859.8 566.5,867.7 567.4,875.9 567.6,884.3 567.1,892.9 565.8,901.7 563.8,910.6 561.1,919.7 557.6,928.7 553.4,937.9 548.5,947 542.9,956 536.7,965 529.9,973.9 522.4,982.6 514.3,991.1 505.7,999.3 496.6,1007.3 487,1015.1 476.9,1022.4 466.4,1029.5 455.6,1036.1 444.4,1042.3 433,1048.1 421.3,1053.4 409.4,1058.3 397.3,1062.6 385.2,1066.4 373,1069.7 360.7,1072.4 348.5,1074.6 336.4,1076.1 324.5,1077.1 312.6,1077.5 301.1,1077.3 289.7,1076.6 278.7,1075.2 268.1,1073.2 257.8,1070.7 248,1067.6 238.6,1064 229.7,1059.8 221.4,1055.1 213.6,1049.9 206.4,1044.2 199.9,1038 194,1031.4 188.8,1024.4 184.2,1017 180.4,1009.2 177.3,1001.1 174.9,992.7 173.3,984 172.4,975.1 172.2,966 172.8,956.7 174.1,947.4 176.2,937.9 178.9,928.4 182.4,918.8 186.6,909.3 191.5,899.9 197,890.5 203.1,881.3 209.8,872.2 217.1,863.4 225,854.8 233.3,846.4 242.2,838.4 251.4,830.7 261.1,823.4 271.1,816.5 281.4,810 292.1,803.9 302.9,798.3 313.9,793.2 325.1,788.6 336.3,784.6 347.6,781.1 358.9,778.1 370.1,775.7 381.3,773.9 392.3,772.7 403.1,772.1 413.7,772 424,772.6 433.9,773.7 443.5,775.4 452.8,777.7 461.5,780.6 469.8,784 477.6,787.9 484.8,792.4 491.4,797.3 497.5,802.8 502.9,808.7 507.6,815 511.7,821.7 515.1,828.9 517.8,836.3 519.7,844.1 520.9,852.2 521.4,860.5 521.2,869.1 520.1,877.8 518.4,886.7 515.9,895.7 512.7,904.8 508.8,913.9 504.1,923 498.8,932.1 492.8,941.1 486.2,950 478.9,958.7 471.1,967.3 462.7,975.7 453.7,983.8 444.3,991.6 434.4,999.1 424,1006.3 413.3,1013.1 402.3,1019.4 390.9,1025.4 379.3,1030.9 367.5,1035.9 355.5,1040.4 343.3,1044.4 331.1,1047.9 318.9,1050.8 306.7,1053.1 294.6,1054.9 282.5,1056.1 270.6,1056.7 259,1056.8 247.6,1056.2 236.4,1055 225.6,1053.3 215.2,1051 205.2,1048.1 195.7,1044.7 186.6,1040.7 178.1,1036.2 170.1,1031.1 162.7,1025.6 156,1019.6 149.8,1013.1 144.4,1006.2 139.6,999 135.5,991.3 132.1,983.3 129.5,975 127.6,966.4 126.4,957.6 126,948.6 126.3,939.4 127.3,930 129.1,920.6 131.6,911.1 134.9,901.5 138.8,892 143.4,882.5 148.7,873.1 154.6,863.9 161.1,854.8 168.2,845.8 175.9,837.1 184,828.7 192.7,820.6 201.8,812.7 211.3,805.3 221.2,798.2 231.5,791.5 242,785.3 252.7,779.6 263.7,774.3 274.8,769.5 286,765.3 297.3,761.6 308.6,758.4" stroke="#85bc4c" stroke-width="2.4" fill="none" stroke-linejoin="round"/>
<g fill="#85bc4c">
<use href="#st" transform="translate(403.3,1071.4) scale(10.4)"/>
<use href="#st" transform="translate(488.4,929.7) scale(10.4)"/>
<use href="#st" transform="translate(659.4,876.5) scale(10.4)"/>
<use href="#st" transform="translate(752.2,957.7) scale(10.4)"/>
<use href="#st" transform="translate(674.9,1095.5) scale(10.4)"/>
<use href="#st" transform="translate(491.6,1160.3) scale(10.4)"/>
<use href="#st" transform="translate(364.2,1089.4) scale(10.4)"/>
<use href="#st" transform="translate(403,945) scale(10.4)"/>
<use href="#st" transform="translate(565.6,856.8) scale(10.4)"/>
<use href="#st" transform="translate(695.7,902.9) scale(10.4)"/>
<use href="#st" transform="translate(667,1037.9) scale(10.4)"/>
<use href="#st" transform="translate(499,1134.6) scale(10.4)"/>
<use href="#st" transform="translate(339.6,1101.1) scale(10.4)"/>
<use href="#st" transform="translate(328.4,965.2) scale(10.4)"/>
<use href="#st" transform="translate(469,848.8) scale(10.4)"/>
<use href="#st" transform="translate(625.4,855.8) scale(10.4)"/>
<use href="#st" transform="translate(647,976.9) scale(10.4)"/>
<use href="#st" transform="translate(507.2,1097.6) scale(10.4)"/>
<use href="#st" transform="translate(327.7,1103.9) scale(10.4)"/>
<use href="#st" transform="translate(266.9,987.1) scale(10.4)"/>
<use href="#st" transform="translate(373.8,851.4) scale(10.4)"/>
<use href="#st" transform="translate(543.5,818.6) scale(10.4)"/>
<use href="#st" transform="translate(613.1,915.9) scale(10.4)"/>
<use href="#st" transform="translate(511.9,1050.7) scale(10.4)"/>
<use href="#st" transform="translate(326.2,1096.1) scale(10.4)"/>
<use href="#st" transform="translate(219.9,1007.3) scale(10.4)"/>
<use href="#st" transform="translate(284,863) scale(10.4)"/>
<use href="#st" transform="translate(452.8,792.7) scale(10.4)"/>
<use href="#st" transform="translate(564.3,858.1) scale(10.4)"/>
<use href="#st" transform="translate(509.3,996) scale(10.4)"/>
<use href="#st" transform="translate(331.5,1076.6) scale(10.4)"/>
<use href="#st" transform="translate(187.7,1022.7) scale(10.4)"/>
<use href="#st" transform="translate(203.3,880.9) scale(10.4)"/>
<use href="#st" transform="translate(357.2,778.5) scale(10.4)"/>
<use href="#st" transform="translate(501.1,806.6) scale(10.4)"/>
<use href="#st" transform="translate(496,936.4) scale(10.4)"/>
<use href="#st" transform="translate(339.8,1045.5) scale(10.4)"/>
<use href="#st" transform="translate(169.3,1030.6) scale(10.4)"/>
<use href="#st" transform="translate(134.6,902.3) scale(10.4)"/>
<use href="#st" transform="translate(260.7,775.7) scale(10.4)"/>
</g>
<path d="M111.3,807.5 L111.3,1090.6 L400.2,1220 L778.1,1121.6" stroke="#1a1a1a" stroke-width="1.9" fill="none" stroke-linejoin="round"/>
<path d="M400.2,1220 L391.9,1222.2 M308.2,1178.8 L299.9,1181 M216.3,1137.6 L208,1139.8 M124.3,1096.4 L116,1098.6 M417.4,1215.5 L425.2,1219 M503.3,1193.2 L511.1,1196.7 M589.1,1170.8 L597,1174.3 M675,1148.4 L682.9,1152 M760.9,1126.1 L768.8,1129.6 M111.3,1077.7 L103.5,1074.2 M111.3,1013.4 L103.5,1009.9 M111.3,949 L103.5,945.5 M111.3,884.7 L103.5,881.2 M111.3,820.3 L103.5,816.8" stroke="#1a1a1a" stroke-width="1.7" fill="none"/>
<text class="tk k2" x="93.8" y="1080.4" text-anchor="end">-1</text>
<text class="tk k2" x="93.8" y="1016.1" text-anchor="end">-0.5</text>
<text class="tk k2" x="93.8" y="951.7" text-anchor="end">0</text>
<text class="tk k2" x="93.8" y="887.4" text-anchor="end">0.5</text>
<text class="tk k2" x="93.8" y="823" text-anchor="end">1</text>
<text class="tk k2" x="98.8" y="1127.4" text-anchor="middle">3</text>
<text class="tk k2" x="190.3" y="1169.1" text-anchor="middle">2</text>
<text class="tk k2" x="282.2" y="1210.8" text-anchor="middle">1</text>
<text class="tk k2" x="375.2" y="1252.5" text-anchor="middle">0</text>
<text class="tk k2" x="447.1" y="1249.5" text-anchor="middle">-1</text>
<text class="tk k2" x="542.8" y="1228.2" text-anchor="middle">-0.5</text>
<text class="tk k2" x="613.1" y="1204.5" text-anchor="middle">0</text>
<text class="tk k2" x="711" y="1182.4" text-anchor="middle">0.5</text>
<text class="tk k2" x="785.4" y="1159.6" text-anchor="middle">1</text>
<text class="lb" x="465.6" y="696" style="font-size:34.9px">Discrete spectrum</text>
<text class="lb" x="236" y="1257.5">Z(a.u.)</text>
<text class="lb" x="642" y="1268">Re[Q<tspan dy="13" dx="1" font-size="23">d</tspan><tspan dy="-13" dx="1.5">(λ)]</tspan></text>
<text class="lb" transform="translate(23,950) rotate(-90)">Im[Q<tspan dy="13" dx="1" font-size="23">d</tspan><tspan dy="-13" dx="1.5">(λ)]</tspan></text>
</g>
<text class="pl" x="7.3" y="716">(c)</text>
</svg></body></html>
